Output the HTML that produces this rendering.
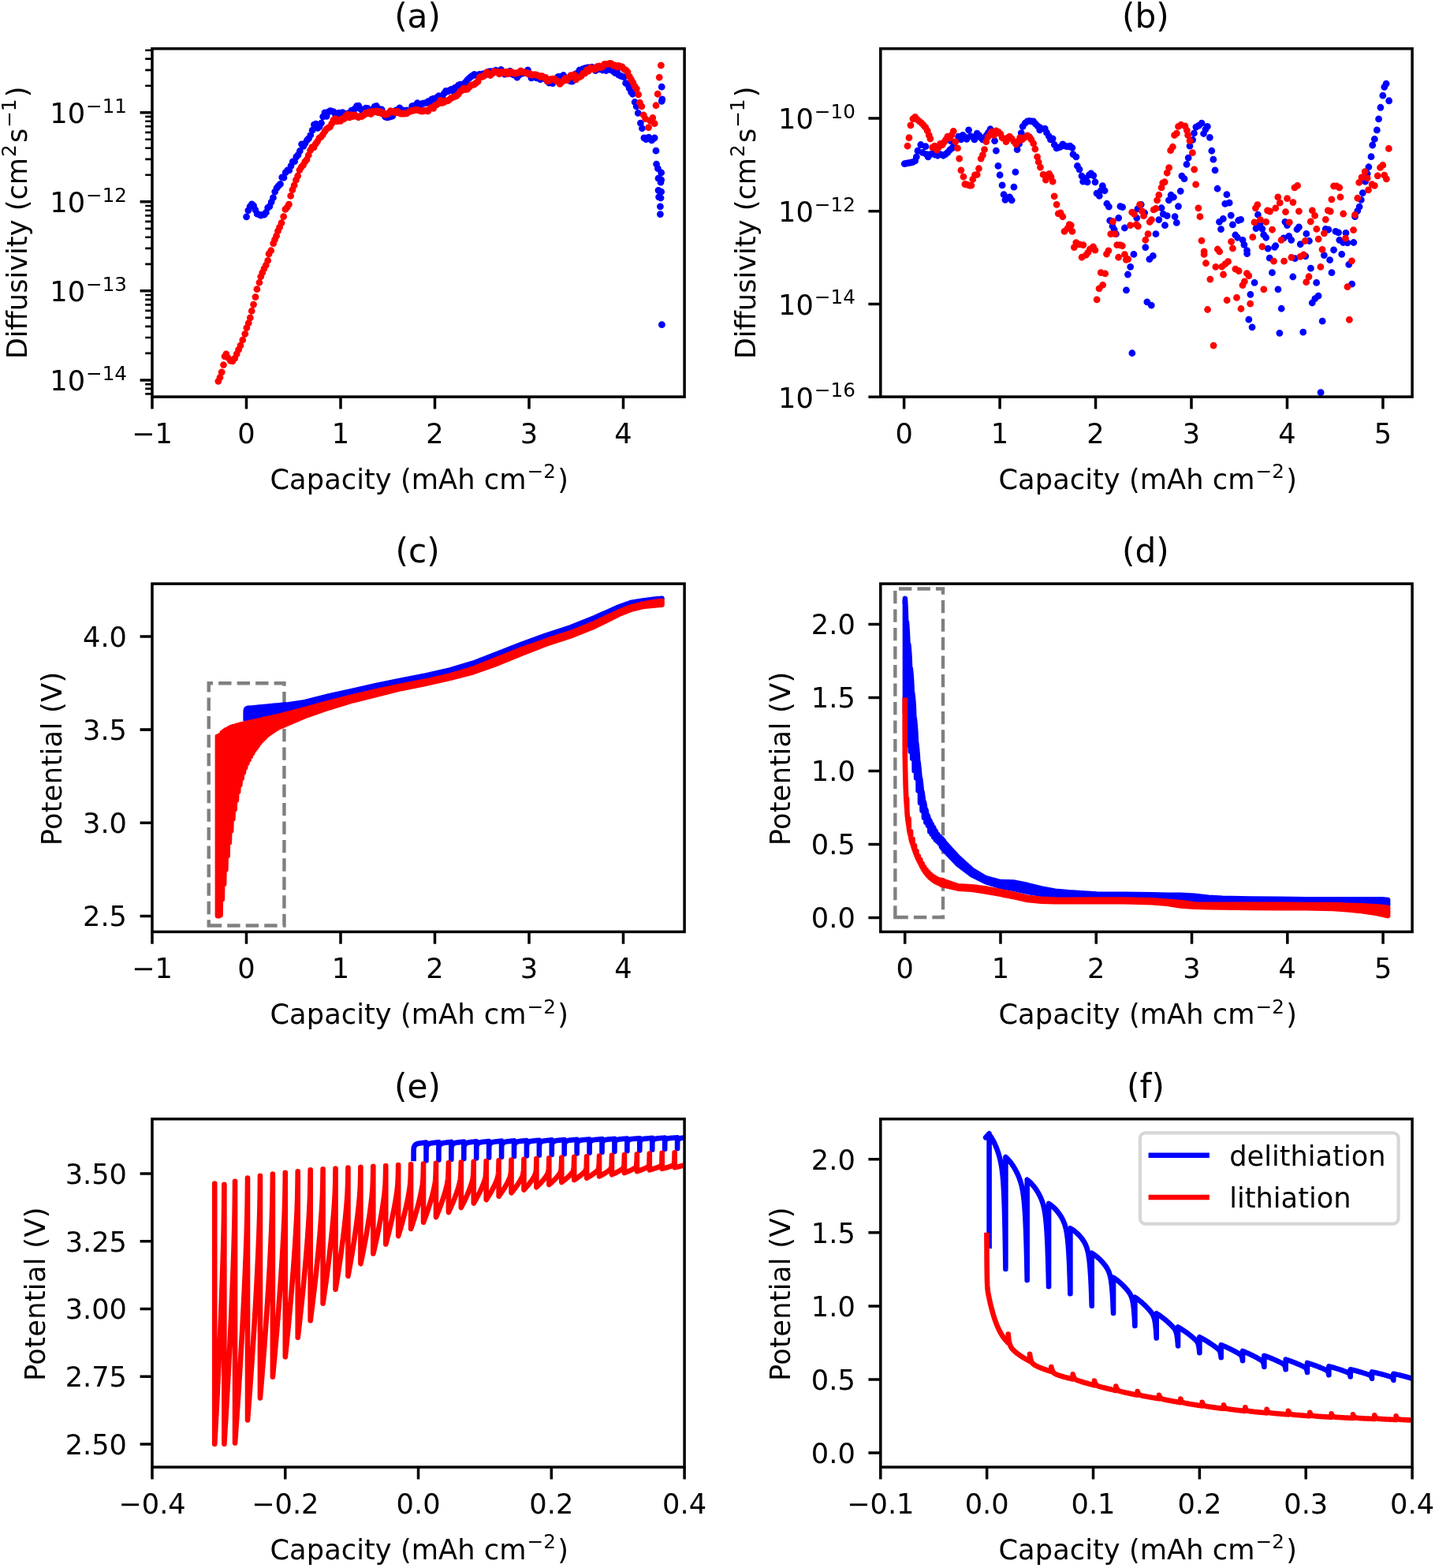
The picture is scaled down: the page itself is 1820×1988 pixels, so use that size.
<!DOCTYPE html>
<html lang="en"><head><meta charset="utf-8"><title>Diffusivity and potential vs capacity</title>
<style>html,body{margin:0;padding:0;background:#fff}body{width:1820px;height:1988px;overflow:hidden}svg{display:block}</style>
</head><body>
<svg width="1820" height="1988" viewBox="0 0 1820 1988" font-family='"DejaVu Sans", "Liberation Sans", sans-serif' fill="#000">
<rect width="1820" height="1988" fill="#fff"/>
<clipPath id="ca"><rect x="193" y="61.7" width="675.1" height="441.4"/></clipPath>
<clipPath id="cb"><rect x="1116.8" y="61.7" width="674.3" height="441.4"/></clipPath>
<clipPath id="cc"><rect x="193" y="740.1" width="675.1" height="441.3"/></clipPath>
<clipPath id="cd"><rect x="1116.8" y="740.1" width="674.3" height="441.3"/></clipPath>
<clipPath id="ce"><rect x="193" y="1418.7" width="675.1" height="441.4"/></clipPath>
<clipPath id="cf"><rect x="1116.8" y="1418.7" width="674.3" height="441.4"/></clipPath>
<path d="M308.18 274.83a4.4 4.4 0 1 0 8.8 0a4.4 4.4 0 1 0 -8.8 0M310.44 266.8a4.4 4.4 0 1 0 8.8 0a4.4 4.4 0 1 0 -8.8 0M312.7 261.84a4.4 4.4 0 1 0 8.8 0a4.4 4.4 0 1 0 -8.8 0M314.96 258.91a4.4 4.4 0 1 0 8.8 0a4.4 4.4 0 1 0 -8.8 0M317.22 260.75a4.4 4.4 0 1 0 8.8 0a4.4 4.4 0 1 0 -8.8 0M319.47 266.04a4.4 4.4 0 1 0 8.8 0a4.4 4.4 0 1 0 -8.8 0M321.73 271.19a4.4 4.4 0 1 0 8.8 0a4.4 4.4 0 1 0 -8.8 0M323.99 271.81a4.4 4.4 0 1 0 8.8 0a4.4 4.4 0 1 0 -8.8 0M326.25 273.12a4.4 4.4 0 1 0 8.8 0a4.4 4.4 0 1 0 -8.8 0M328.51 272.39a4.4 4.4 0 1 0 8.8 0a4.4 4.4 0 1 0 -8.8 0M330.77 272.13a4.4 4.4 0 1 0 8.8 0a4.4 4.4 0 1 0 -8.8 0M333.02 269.44a4.4 4.4 0 1 0 8.8 0a4.4 4.4 0 1 0 -8.8 0M335.28 263.35a4.4 4.4 0 1 0 8.8 0a4.4 4.4 0 1 0 -8.8 0M337.54 261.51a4.4 4.4 0 1 0 8.8 0a4.4 4.4 0 1 0 -8.8 0M339.8 256.11a4.4 4.4 0 1 0 8.8 0a4.4 4.4 0 1 0 -8.8 0M342.06 250.66a4.4 4.4 0 1 0 8.8 0a4.4 4.4 0 1 0 -8.8 0M344.32 243.01a4.4 4.4 0 1 0 8.8 0a4.4 4.4 0 1 0 -8.8 0M346.58 238.42a4.4 4.4 0 1 0 8.8 0a4.4 4.4 0 1 0 -8.8 0M348.83 235.7a4.4 4.4 0 1 0 8.8 0a4.4 4.4 0 1 0 -8.8 0M351.09 233.46a4.4 4.4 0 1 0 8.8 0a4.4 4.4 0 1 0 -8.8 0M353.35 224.88a4.4 4.4 0 1 0 8.8 0a4.4 4.4 0 1 0 -8.8 0M355.61 225.22a4.4 4.4 0 1 0 8.8 0a4.4 4.4 0 1 0 -8.8 0M357.87 218.53a4.4 4.4 0 1 0 8.8 0a4.4 4.4 0 1 0 -8.8 0M360.13 215.99a4.4 4.4 0 1 0 8.8 0a4.4 4.4 0 1 0 -8.8 0M362.38 215.93a4.4 4.4 0 1 0 8.8 0a4.4 4.4 0 1 0 -8.8 0M364.64 210.37a4.4 4.4 0 1 0 8.8 0a4.4 4.4 0 1 0 -8.8 0M366.9 204.97a4.4 4.4 0 1 0 8.8 0a4.4 4.4 0 1 0 -8.8 0M369.16 204.67a4.4 4.4 0 1 0 8.8 0a4.4 4.4 0 1 0 -8.8 0M371.42 198.98a4.4 4.4 0 1 0 8.8 0a4.4 4.4 0 1 0 -8.8 0M373.68 196.31a4.4 4.4 0 1 0 8.8 0a4.4 4.4 0 1 0 -8.8 0M375.93 191.5a4.4 4.4 0 1 0 8.8 0a4.4 4.4 0 1 0 -8.8 0M378.19 182.8a4.4 4.4 0 1 0 8.8 0a4.4 4.4 0 1 0 -8.8 0M380.45 185.44a4.4 4.4 0 1 0 8.8 0a4.4 4.4 0 1 0 -8.8 0M382.71 181.56a4.4 4.4 0 1 0 8.8 0a4.4 4.4 0 1 0 -8.8 0M384.97 177.75a4.4 4.4 0 1 0 8.8 0a4.4 4.4 0 1 0 -8.8 0M387.23 175.29a4.4 4.4 0 1 0 8.8 0a4.4 4.4 0 1 0 -8.8 0M389.48 171.03a4.4 4.4 0 1 0 8.8 0a4.4 4.4 0 1 0 -8.8 0M391.74 165.21a4.4 4.4 0 1 0 8.8 0a4.4 4.4 0 1 0 -8.8 0M394 158.1a4.4 4.4 0 1 0 8.8 0a4.4 4.4 0 1 0 -8.8 0M396.26 157.19a4.4 4.4 0 1 0 8.8 0a4.4 4.4 0 1 0 -8.8 0M398.52 162.29a4.4 4.4 0 1 0 8.8 0a4.4 4.4 0 1 0 -8.8 0M400.78 160.62a4.4 4.4 0 1 0 8.8 0a4.4 4.4 0 1 0 -8.8 0M403.03 156.13a4.4 4.4 0 1 0 8.8 0a4.4 4.4 0 1 0 -8.8 0M405.29 147.98a4.4 4.4 0 1 0 8.8 0a4.4 4.4 0 1 0 -8.8 0M407.55 142.92a4.4 4.4 0 1 0 8.8 0a4.4 4.4 0 1 0 -8.8 0M409.81 147.3a4.4 4.4 0 1 0 8.8 0a4.4 4.4 0 1 0 -8.8 0M412.07 141.8a4.4 4.4 0 1 0 8.8 0a4.4 4.4 0 1 0 -8.8 0M414.33 140.61a4.4 4.4 0 1 0 8.8 0a4.4 4.4 0 1 0 -8.8 0M416.58 141.07a4.4 4.4 0 1 0 8.8 0a4.4 4.4 0 1 0 -8.8 0M418.84 141.98a4.4 4.4 0 1 0 8.8 0a4.4 4.4 0 1 0 -8.8 0M421.1 145.19a4.4 4.4 0 1 0 8.8 0a4.4 4.4 0 1 0 -8.8 0M423.36 144.97a4.4 4.4 0 1 0 8.8 0a4.4 4.4 0 1 0 -8.8 0M425.62 143.04a4.4 4.4 0 1 0 8.8 0a4.4 4.4 0 1 0 -8.8 0M427.88 145.06a4.4 4.4 0 1 0 8.8 0a4.4 4.4 0 1 0 -8.8 0M430.14 142.6a4.4 4.4 0 1 0 8.8 0a4.4 4.4 0 1 0 -8.8 0M432.39 144.1a4.4 4.4 0 1 0 8.8 0a4.4 4.4 0 1 0 -8.8 0M434.65 145.28a4.4 4.4 0 1 0 8.8 0a4.4 4.4 0 1 0 -8.8 0M436.91 143.88a4.4 4.4 0 1 0 8.8 0a4.4 4.4 0 1 0 -8.8 0M439.17 142.81a4.4 4.4 0 1 0 8.8 0a4.4 4.4 0 1 0 -8.8 0M441.43 140.22a4.4 4.4 0 1 0 8.8 0a4.4 4.4 0 1 0 -8.8 0M443.69 141.95a4.4 4.4 0 1 0 8.8 0a4.4 4.4 0 1 0 -8.8 0M445.94 137.54a4.4 4.4 0 1 0 8.8 0a4.4 4.4 0 1 0 -8.8 0M448.2 134.36a4.4 4.4 0 1 0 8.8 0a4.4 4.4 0 1 0 -8.8 0M450.46 134.27a4.4 4.4 0 1 0 8.8 0a4.4 4.4 0 1 0 -8.8 0M452.72 138.05a4.4 4.4 0 1 0 8.8 0a4.4 4.4 0 1 0 -8.8 0M454.98 140.05a4.4 4.4 0 1 0 8.8 0a4.4 4.4 0 1 0 -8.8 0M457.24 141.91a4.4 4.4 0 1 0 8.8 0a4.4 4.4 0 1 0 -8.8 0M459.49 137.09a4.4 4.4 0 1 0 8.8 0a4.4 4.4 0 1 0 -8.8 0M461.75 137.34a4.4 4.4 0 1 0 8.8 0a4.4 4.4 0 1 0 -8.8 0M464.01 139.04a4.4 4.4 0 1 0 8.8 0a4.4 4.4 0 1 0 -8.8 0M466.27 140.19a4.4 4.4 0 1 0 8.8 0a4.4 4.4 0 1 0 -8.8 0M468.53 138.69a4.4 4.4 0 1 0 8.8 0a4.4 4.4 0 1 0 -8.8 0M470.79 135.09a4.4 4.4 0 1 0 8.8 0a4.4 4.4 0 1 0 -8.8 0M473.04 134.5a4.4 4.4 0 1 0 8.8 0a4.4 4.4 0 1 0 -8.8 0M475.3 139.12a4.4 4.4 0 1 0 8.8 0a4.4 4.4 0 1 0 -8.8 0M477.56 138.57a4.4 4.4 0 1 0 8.8 0a4.4 4.4 0 1 0 -8.8 0M479.82 138.99a4.4 4.4 0 1 0 8.8 0a4.4 4.4 0 1 0 -8.8 0M482.08 144.88a4.4 4.4 0 1 0 8.8 0a4.4 4.4 0 1 0 -8.8 0M484.34 148.2a4.4 4.4 0 1 0 8.8 0a4.4 4.4 0 1 0 -8.8 0M486.59 148.82a4.4 4.4 0 1 0 8.8 0a4.4 4.4 0 1 0 -8.8 0M488.85 148.26a4.4 4.4 0 1 0 8.8 0a4.4 4.4 0 1 0 -8.8 0M491.11 147.82a4.4 4.4 0 1 0 8.8 0a4.4 4.4 0 1 0 -8.8 0M493.37 147.15a4.4 4.4 0 1 0 8.8 0a4.4 4.4 0 1 0 -8.8 0M495.63 142.94a4.4 4.4 0 1 0 8.8 0a4.4 4.4 0 1 0 -8.8 0M497.89 139.88a4.4 4.4 0 1 0 8.8 0a4.4 4.4 0 1 0 -8.8 0M500.15 139.75a4.4 4.4 0 1 0 8.8 0a4.4 4.4 0 1 0 -8.8 0M502.4 136.86a4.4 4.4 0 1 0 8.8 0a4.4 4.4 0 1 0 -8.8 0M504.66 140.42a4.4 4.4 0 1 0 8.8 0a4.4 4.4 0 1 0 -8.8 0M506.92 139.85a4.4 4.4 0 1 0 8.8 0a4.4 4.4 0 1 0 -8.8 0M509.18 140.86a4.4 4.4 0 1 0 8.8 0a4.4 4.4 0 1 0 -8.8 0M511.44 139.86a4.4 4.4 0 1 0 8.8 0a4.4 4.4 0 1 0 -8.8 0M513.7 141.14a4.4 4.4 0 1 0 8.8 0a4.4 4.4 0 1 0 -8.8 0M515.95 140.52a4.4 4.4 0 1 0 8.8 0a4.4 4.4 0 1 0 -8.8 0M518.21 134.53a4.4 4.4 0 1 0 8.8 0a4.4 4.4 0 1 0 -8.8 0M520.47 134.1a4.4 4.4 0 1 0 8.8 0a4.4 4.4 0 1 0 -8.8 0M522.73 133.81a4.4 4.4 0 1 0 8.8 0a4.4 4.4 0 1 0 -8.8 0M524.99 130.62a4.4 4.4 0 1 0 8.8 0a4.4 4.4 0 1 0 -8.8 0M527.25 134.25a4.4 4.4 0 1 0 8.8 0a4.4 4.4 0 1 0 -8.8 0M529.5 132.72a4.4 4.4 0 1 0 8.8 0a4.4 4.4 0 1 0 -8.8 0M531.76 131.22a4.4 4.4 0 1 0 8.8 0a4.4 4.4 0 1 0 -8.8 0M534.02 130.9a4.4 4.4 0 1 0 8.8 0a4.4 4.4 0 1 0 -8.8 0M536.28 130.38a4.4 4.4 0 1 0 8.8 0a4.4 4.4 0 1 0 -8.8 0M538.54 128.78a4.4 4.4 0 1 0 8.8 0a4.4 4.4 0 1 0 -8.8 0M540.8 129.27a4.4 4.4 0 1 0 8.8 0a4.4 4.4 0 1 0 -8.8 0M543.05 126.02a4.4 4.4 0 1 0 8.8 0a4.4 4.4 0 1 0 -8.8 0M545.31 125.21a4.4 4.4 0 1 0 8.8 0a4.4 4.4 0 1 0 -8.8 0M547.57 125.97a4.4 4.4 0 1 0 8.8 0a4.4 4.4 0 1 0 -8.8 0M549.83 123.52a4.4 4.4 0 1 0 8.8 0a4.4 4.4 0 1 0 -8.8 0M552.09 121.66a4.4 4.4 0 1 0 8.8 0a4.4 4.4 0 1 0 -8.8 0M554.35 123.35a4.4 4.4 0 1 0 8.8 0a4.4 4.4 0 1 0 -8.8 0M556.6 122.96a4.4 4.4 0 1 0 8.8 0a4.4 4.4 0 1 0 -8.8 0M558.86 118.5a4.4 4.4 0 1 0 8.8 0a4.4 4.4 0 1 0 -8.8 0M561.12 115.45a4.4 4.4 0 1 0 8.8 0a4.4 4.4 0 1 0 -8.8 0M563.38 115.94a4.4 4.4 0 1 0 8.8 0a4.4 4.4 0 1 0 -8.8 0M565.64 114.79a4.4 4.4 0 1 0 8.8 0a4.4 4.4 0 1 0 -8.8 0M567.9 113.46a4.4 4.4 0 1 0 8.8 0a4.4 4.4 0 1 0 -8.8 0M570.15 115.08a4.4 4.4 0 1 0 8.8 0a4.4 4.4 0 1 0 -8.8 0M572.41 111.36a4.4 4.4 0 1 0 8.8 0a4.4 4.4 0 1 0 -8.8 0M574.67 112.95a4.4 4.4 0 1 0 8.8 0a4.4 4.4 0 1 0 -8.8 0M576.93 108.08a4.4 4.4 0 1 0 8.8 0a4.4 4.4 0 1 0 -8.8 0M579.19 107.12a4.4 4.4 0 1 0 8.8 0a4.4 4.4 0 1 0 -8.8 0M581.45 107.39a4.4 4.4 0 1 0 8.8 0a4.4 4.4 0 1 0 -8.8 0M583.71 106.45a4.4 4.4 0 1 0 8.8 0a4.4 4.4 0 1 0 -8.8 0M585.96 104.32a4.4 4.4 0 1 0 8.8 0a4.4 4.4 0 1 0 -8.8 0M588.22 101.62a4.4 4.4 0 1 0 8.8 0a4.4 4.4 0 1 0 -8.8 0M590.48 99.32a4.4 4.4 0 1 0 8.8 0a4.4 4.4 0 1 0 -8.8 0M592.74 97.35a4.4 4.4 0 1 0 8.8 0a4.4 4.4 0 1 0 -8.8 0M595 95.92a4.4 4.4 0 1 0 8.8 0a4.4 4.4 0 1 0 -8.8 0M597.26 94.4a4.4 4.4 0 1 0 8.8 0a4.4 4.4 0 1 0 -8.8 0M599.51 95.27a4.4 4.4 0 1 0 8.8 0a4.4 4.4 0 1 0 -8.8 0M601.77 95.46a4.4 4.4 0 1 0 8.8 0a4.4 4.4 0 1 0 -8.8 0M604.03 94.04a4.4 4.4 0 1 0 8.8 0a4.4 4.4 0 1 0 -8.8 0M606.29 94.36a4.4 4.4 0 1 0 8.8 0a4.4 4.4 0 1 0 -8.8 0M608.55 93.61a4.4 4.4 0 1 0 8.8 0a4.4 4.4 0 1 0 -8.8 0M610.81 95.03a4.4 4.4 0 1 0 8.8 0a4.4 4.4 0 1 0 -8.8 0M613.06 92.39a4.4 4.4 0 1 0 8.8 0a4.4 4.4 0 1 0 -8.8 0M615.32 90.96a4.4 4.4 0 1 0 8.8 0a4.4 4.4 0 1 0 -8.8 0M617.58 90.58a4.4 4.4 0 1 0 8.8 0a4.4 4.4 0 1 0 -8.8 0M619.84 90.6a4.4 4.4 0 1 0 8.8 0a4.4 4.4 0 1 0 -8.8 0M622.1 91.36a4.4 4.4 0 1 0 8.8 0a4.4 4.4 0 1 0 -8.8 0M624.36 89.27a4.4 4.4 0 1 0 8.8 0a4.4 4.4 0 1 0 -8.8 0M626.61 90.65a4.4 4.4 0 1 0 8.8 0a4.4 4.4 0 1 0 -8.8 0M628.87 93.22a4.4 4.4 0 1 0 8.8 0a4.4 4.4 0 1 0 -8.8 0M631.13 88.31a4.4 4.4 0 1 0 8.8 0a4.4 4.4 0 1 0 -8.8 0M633.39 92.06a4.4 4.4 0 1 0 8.8 0a4.4 4.4 0 1 0 -8.8 0M635.65 94.1a4.4 4.4 0 1 0 8.8 0a4.4 4.4 0 1 0 -8.8 0M637.91 92.98a4.4 4.4 0 1 0 8.8 0a4.4 4.4 0 1 0 -8.8 0M640.16 91.46a4.4 4.4 0 1 0 8.8 0a4.4 4.4 0 1 0 -8.8 0M642.42 90.24a4.4 4.4 0 1 0 8.8 0a4.4 4.4 0 1 0 -8.8 0M644.68 93.63a4.4 4.4 0 1 0 8.8 0a4.4 4.4 0 1 0 -8.8 0M646.94 94.85a4.4 4.4 0 1 0 8.8 0a4.4 4.4 0 1 0 -8.8 0M649.2 93.99a4.4 4.4 0 1 0 8.8 0a4.4 4.4 0 1 0 -8.8 0M651.46 98.02a4.4 4.4 0 1 0 8.8 0a4.4 4.4 0 1 0 -8.8 0M653.72 95.51a4.4 4.4 0 1 0 8.8 0a4.4 4.4 0 1 0 -8.8 0M655.97 93.45a4.4 4.4 0 1 0 8.8 0a4.4 4.4 0 1 0 -8.8 0M658.23 93.1a4.4 4.4 0 1 0 8.8 0a4.4 4.4 0 1 0 -8.8 0M660.49 91.99a4.4 4.4 0 1 0 8.8 0a4.4 4.4 0 1 0 -8.8 0M662.75 92.16a4.4 4.4 0 1 0 8.8 0a4.4 4.4 0 1 0 -8.8 0M665.01 88.98a4.4 4.4 0 1 0 8.8 0a4.4 4.4 0 1 0 -8.8 0M667.27 93.84a4.4 4.4 0 1 0 8.8 0a4.4 4.4 0 1 0 -8.8 0M669.52 98.89a4.4 4.4 0 1 0 8.8 0a4.4 4.4 0 1 0 -8.8 0M671.78 97.39a4.4 4.4 0 1 0 8.8 0a4.4 4.4 0 1 0 -8.8 0M674.04 97.97a4.4 4.4 0 1 0 8.8 0a4.4 4.4 0 1 0 -8.8 0M676.3 98.87a4.4 4.4 0 1 0 8.8 0a4.4 4.4 0 1 0 -8.8 0M678.56 99.26a4.4 4.4 0 1 0 8.8 0a4.4 4.4 0 1 0 -8.8 0M680.82 100.61a4.4 4.4 0 1 0 8.8 0a4.4 4.4 0 1 0 -8.8 0M683.07 96.97a4.4 4.4 0 1 0 8.8 0a4.4 4.4 0 1 0 -8.8 0M685.33 99.24a4.4 4.4 0 1 0 8.8 0a4.4 4.4 0 1 0 -8.8 0M687.59 100.37a4.4 4.4 0 1 0 8.8 0a4.4 4.4 0 1 0 -8.8 0M689.85 103.08a4.4 4.4 0 1 0 8.8 0a4.4 4.4 0 1 0 -8.8 0M692.11 105.14a4.4 4.4 0 1 0 8.8 0a4.4 4.4 0 1 0 -8.8 0M694.37 101.68a4.4 4.4 0 1 0 8.8 0a4.4 4.4 0 1 0 -8.8 0M696.62 105.57a4.4 4.4 0 1 0 8.8 0a4.4 4.4 0 1 0 -8.8 0M698.88 100.96a4.4 4.4 0 1 0 8.8 0a4.4 4.4 0 1 0 -8.8 0M701.14 102.41a4.4 4.4 0 1 0 8.8 0a4.4 4.4 0 1 0 -8.8 0M703.4 97.37a4.4 4.4 0 1 0 8.8 0a4.4 4.4 0 1 0 -8.8 0M705.66 97.05a4.4 4.4 0 1 0 8.8 0a4.4 4.4 0 1 0 -8.8 0M707.92 97.81a4.4 4.4 0 1 0 8.8 0a4.4 4.4 0 1 0 -8.8 0M710.17 95.5a4.4 4.4 0 1 0 8.8 0a4.4 4.4 0 1 0 -8.8 0M712.43 98.37a4.4 4.4 0 1 0 8.8 0a4.4 4.4 0 1 0 -8.8 0M714.69 101.37a4.4 4.4 0 1 0 8.8 0a4.4 4.4 0 1 0 -8.8 0M716.95 101.87a4.4 4.4 0 1 0 8.8 0a4.4 4.4 0 1 0 -8.8 0M719.21 102.93a4.4 4.4 0 1 0 8.8 0a4.4 4.4 0 1 0 -8.8 0M721.47 103.16a4.4 4.4 0 1 0 8.8 0a4.4 4.4 0 1 0 -8.8 0M723.73 98.91a4.4 4.4 0 1 0 8.8 0a4.4 4.4 0 1 0 -8.8 0M725.98 93.55a4.4 4.4 0 1 0 8.8 0a4.4 4.4 0 1 0 -8.8 0M728.24 95.76a4.4 4.4 0 1 0 8.8 0a4.4 4.4 0 1 0 -8.8 0M730.5 89.01a4.4 4.4 0 1 0 8.8 0a4.4 4.4 0 1 0 -8.8 0M732.76 90.23a4.4 4.4 0 1 0 8.8 0a4.4 4.4 0 1 0 -8.8 0M735.02 87.29a4.4 4.4 0 1 0 8.8 0a4.4 4.4 0 1 0 -8.8 0M737.28 86.59a4.4 4.4 0 1 0 8.8 0a4.4 4.4 0 1 0 -8.8 0M739.53 86.2a4.4 4.4 0 1 0 8.8 0a4.4 4.4 0 1 0 -8.8 0M741.79 85.59a4.4 4.4 0 1 0 8.8 0a4.4 4.4 0 1 0 -8.8 0M744.05 87.07a4.4 4.4 0 1 0 8.8 0a4.4 4.4 0 1 0 -8.8 0M746.31 85.2a4.4 4.4 0 1 0 8.8 0a4.4 4.4 0 1 0 -8.8 0M748.57 86.07a4.4 4.4 0 1 0 8.8 0a4.4 4.4 0 1 0 -8.8 0M750.83 89.51a4.4 4.4 0 1 0 8.8 0a4.4 4.4 0 1 0 -8.8 0M753.08 88.14a4.4 4.4 0 1 0 8.8 0a4.4 4.4 0 1 0 -8.8 0M755.34 87.68a4.4 4.4 0 1 0 8.8 0a4.4 4.4 0 1 0 -8.8 0M757.6 86.2a4.4 4.4 0 1 0 8.8 0a4.4 4.4 0 1 0 -8.8 0M759.86 88.85a4.4 4.4 0 1 0 8.8 0a4.4 4.4 0 1 0 -8.8 0M762.12 88.35a4.4 4.4 0 1 0 8.8 0a4.4 4.4 0 1 0 -8.8 0M764.38 89.49a4.4 4.4 0 1 0 8.8 0a4.4 4.4 0 1 0 -8.8 0M766.63 86.54a4.4 4.4 0 1 0 8.8 0a4.4 4.4 0 1 0 -8.8 0M768.89 88.24a4.4 4.4 0 1 0 8.8 0a4.4 4.4 0 1 0 -8.8 0M771.15 87.32a4.4 4.4 0 1 0 8.8 0a4.4 4.4 0 1 0 -8.8 0M773.41 90.37a4.4 4.4 0 1 0 8.8 0a4.4 4.4 0 1 0 -8.8 0M775.67 92.32a4.4 4.4 0 1 0 8.8 0a4.4 4.4 0 1 0 -8.8 0M777.93 90.23a4.4 4.4 0 1 0 8.8 0a4.4 4.4 0 1 0 -8.8 0M780.18 94.9a4.4 4.4 0 1 0 8.8 0a4.4 4.4 0 1 0 -8.8 0M782.44 96.13a4.4 4.4 0 1 0 8.8 0a4.4 4.4 0 1 0 -8.8 0M784.7 96.89a4.4 4.4 0 1 0 8.8 0a4.4 4.4 0 1 0 -8.8 0M786.96 97.56a4.4 4.4 0 1 0 8.8 0a4.4 4.4 0 1 0 -8.8 0M789.22 105.48a4.4 4.4 0 1 0 8.8 0a4.4 4.4 0 1 0 -8.8 0M791.48 107.02a4.4 4.4 0 1 0 8.8 0a4.4 4.4 0 1 0 -8.8 0M793.73 111.98a4.4 4.4 0 1 0 8.8 0a4.4 4.4 0 1 0 -8.8 0M796.15 116.81a4.4 4.4 0 1 0 8.8 0a4.4 4.4 0 1 0 -8.8 0M797.96 119.23a4.4 4.4 0 1 0 8.8 0a4.4 4.4 0 1 0 -8.8 0M800.74 129.51a4.4 4.4 0 1 0 8.8 0a4.4 4.4 0 1 0 -8.8 0M802.8 134.95a4.4 4.4 0 1 0 8.8 0a4.4 4.4 0 1 0 -8.8 0M804.85 143.41a4.4 4.4 0 1 0 8.8 0a4.4 4.4 0 1 0 -8.8 0M808 156.1a4.4 4.4 0 1 0 8.8 0a4.4 4.4 0 1 0 -8.8 0M810.05 162.75a4.4 4.4 0 1 0 8.8 0a4.4 4.4 0 1 0 -8.8 0M812.47 174.84a4.4 4.4 0 1 0 8.8 0a4.4 4.4 0 1 0 -8.8 0M814.89 176.65a4.4 4.4 0 1 0 8.8 0a4.4 4.4 0 1 0 -8.8 0M816.7 174.84a4.4 4.4 0 1 0 8.8 0a4.4 4.4 0 1 0 -8.8 0M818.51 174.23a4.4 4.4 0 1 0 8.8 0a4.4 4.4 0 1 0 -8.8 0M820.33 176.04a4.4 4.4 0 1 0 8.8 0a4.4 4.4 0 1 0 -8.8 0M822.14 177.86a4.4 4.4 0 1 0 8.8 0a4.4 4.4 0 1 0 -8.8 0M823.95 176.04a4.4 4.4 0 1 0 8.8 0a4.4 4.4 0 1 0 -8.8 0M825.77 174.84a4.4 4.4 0 1 0 8.8 0a4.4 4.4 0 1 0 -8.8 0M827.58 191.15a4.4 4.4 0 1 0 8.8 0a4.4 4.4 0 1 0 -8.8 0M828.18 208.08a4.4 4.4 0 1 0 8.8 0a4.4 4.4 0 1 0 -8.8 0M830 213.52a4.4 4.4 0 1 0 8.8 0a4.4 4.4 0 1 0 -8.8 0M834.23 218.96a4.4 4.4 0 1 0 8.8 0a4.4 4.4 0 1 0 -8.8 0M830.6 226.21a4.4 4.4 0 1 0 8.8 0a4.4 4.4 0 1 0 -8.8 0M834.23 228.02a4.4 4.4 0 1 0 8.8 0a4.4 4.4 0 1 0 -8.8 0M833.62 231.04a4.4 4.4 0 1 0 8.8 0a4.4 4.4 0 1 0 -8.8 0M830.6 241.32a4.4 4.4 0 1 0 8.8 0a4.4 4.4 0 1 0 -8.8 0M834.23 243.13a4.4 4.4 0 1 0 8.8 0a4.4 4.4 0 1 0 -8.8 0M831.2 249.78a4.4 4.4 0 1 0 8.8 0a4.4 4.4 0 1 0 -8.8 0M833.62 250.99a4.4 4.4 0 1 0 8.8 0a4.4 4.4 0 1 0 -8.8 0M833.02 261.87a4.4 4.4 0 1 0 8.8 0a4.4 4.4 0 1 0 -8.8 0M833.02 271.54a4.4 4.4 0 1 0 8.8 0a4.4 4.4 0 1 0 -8.8 0M834.83 110.17a4.4 4.4 0 1 0 8.8 0a4.4 4.4 0 1 0 -8.8 0M835.44 125.88a4.4 4.4 0 1 0 8.8 0a4.4 4.4 0 1 0 -8.8 0M834.83 128.3a4.4 4.4 0 1 0 8.8 0a4.4 4.4 0 1 0 -8.8 0M835 411.7a4.4 4.4 0 1 0 8.8 0a4.4 4.4 0 1 0 -8.8 0" fill="#0000ff" clip-path="url(#ca)"/>
<path d="M272.44 483.35a4.4 4.4 0 1 0 8.8 0a4.4 4.4 0 1 0 -8.8 0M274.61 478.52a4.4 4.4 0 1 0 8.8 0a4.4 4.4 0 1 0 -8.8 0M276.79 471.87a4.4 4.4 0 1 0 8.8 0a4.4 4.4 0 1 0 -8.8 0M279.08 462.56a4.4 4.4 0 1 0 8.8 0a4.4 4.4 0 1 0 -8.8 0M280.66 451.92a4.4 4.4 0 1 0 8.8 0a4.4 4.4 0 1 0 -8.8 0M282.47 448.9a4.4 4.4 0 1 0 8.8 0a4.4 4.4 0 1 0 -8.8 0M284.89 453.74a4.4 4.4 0 1 0 8.8 0a4.4 4.4 0 1 0 -8.8 0M287.91 457.36a4.4 4.4 0 1 0 8.8 0a4.4 4.4 0 1 0 -8.8 0M290.57 457.97a4.4 4.4 0 1 0 8.8 0a4.4 4.4 0 1 0 -8.8 0M293.35 454.34a4.4 4.4 0 1 0 8.8 0a4.4 4.4 0 1 0 -8.8 0M295.77 448.9a4.4 4.4 0 1 0 8.8 0a4.4 4.4 0 1 0 -8.8 0M298.18 443.46a4.4 4.4 0 1 0 8.8 0a4.4 4.4 0 1 0 -8.8 0M300.6 438.02a4.4 4.4 0 1 0 8.8 0a4.4 4.4 0 1 0 -8.8 0M303.38 431.01a4.4 4.4 0 1 0 8.8 0a4.4 4.4 0 1 0 -8.8 0M306.4 423.28a4.4 4.4 0 1 0 8.8 0a4.4 4.4 0 1 0 -8.8 0M308.46 415.66a4.4 4.4 0 1 0 8.8 0a4.4 4.4 0 1 0 -8.8 0M310.87 409.62a4.4 4.4 0 1 0 8.8 0a4.4 4.4 0 1 0 -8.8 0M312.93 402.97a4.4 4.4 0 1 0 8.8 0a4.4 4.4 0 1 0 -8.8 0M314.86 394.26a4.4 4.4 0 1 0 8.8 0a4.4 4.4 0 1 0 -8.8 0M317.16 386.04a4.4 4.4 0 1 0 8.8 0a4.4 4.4 0 1 0 -8.8 0M319.58 376.62a4.4 4.4 0 1 0 8.8 0a4.4 4.4 0 1 0 -8.8 0M321.51 366.7a4.4 4.4 0 1 0 8.8 0a4.4 4.4 0 1 0 -8.8 0M324.53 358.24a4.4 4.4 0 1 0 8.8 0a4.4 4.4 0 1 0 -8.8 0M326.35 350.75a4.4 4.4 0 1 0 8.8 0a4.4 4.4 0 1 0 -8.8 0M328.4 345.55a4.4 4.4 0 1 0 8.8 0a4.4 4.4 0 1 0 -8.8 0M330.58 340.71a4.4 4.4 0 1 0 8.8 0a4.4 4.4 0 1 0 -8.8 0M332.88 336.24a4.4 4.4 0 1 0 8.8 0a4.4 4.4 0 1 0 -8.8 0M335.29 330.44a4.4 4.4 0 1 0 8.8 0a4.4 4.4 0 1 0 -8.8 0M336.62 321.98a4.4 4.4 0 1 0 8.8 0a4.4 4.4 0 1 0 -8.8 0M339.28 317.75a4.4 4.4 0 1 0 8.8 0a4.4 4.4 0 1 0 -8.8 0M342.3 308.68a4.4 4.4 0 1 0 8.8 0a4.4 4.4 0 1 0 -8.8 0M344.12 303.85a4.4 4.4 0 1 0 8.8 0a4.4 4.4 0 1 0 -8.8 0M346.17 299.01a4.4 4.4 0 1 0 8.8 0a4.4 4.4 0 1 0 -8.8 0M348.11 292.97a4.4 4.4 0 1 0 8.8 0a4.4 4.4 0 1 0 -8.8 0M350.16 288.13a4.4 4.4 0 1 0 8.8 0a4.4 4.4 0 1 0 -8.8 0M352.58 282.69a4.4 4.4 0 1 0 8.8 0a4.4 4.4 0 1 0 -8.8 0M355.24 274.59a4.4 4.4 0 1 0 8.8 0a4.4 4.4 0 1 0 -8.8 0M357.49 265.41a4.4 4.4 0 1 0 8.8 0a4.4 4.4 0 1 0 -8.8 0M359.75 262.97a4.4 4.4 0 1 0 8.8 0a4.4 4.4 0 1 0 -8.8 0M362.02 259.13a4.4 4.4 0 1 0 8.8 0a4.4 4.4 0 1 0 -8.8 0M364.28 248.35a4.4 4.4 0 1 0 8.8 0a4.4 4.4 0 1 0 -8.8 0M366.54 240.67a4.4 4.4 0 1 0 8.8 0a4.4 4.4 0 1 0 -8.8 0M368.8 234.88a4.4 4.4 0 1 0 8.8 0a4.4 4.4 0 1 0 -8.8 0M371.06 228.15a4.4 4.4 0 1 0 8.8 0a4.4 4.4 0 1 0 -8.8 0M373.32 223.02a4.4 4.4 0 1 0 8.8 0a4.4 4.4 0 1 0 -8.8 0M375.58 215.55a4.4 4.4 0 1 0 8.8 0a4.4 4.4 0 1 0 -8.8 0M377.84 211.78a4.4 4.4 0 1 0 8.8 0a4.4 4.4 0 1 0 -8.8 0M380.11 209.46a4.4 4.4 0 1 0 8.8 0a4.4 4.4 0 1 0 -8.8 0M382.37 205.03a4.4 4.4 0 1 0 8.8 0a4.4 4.4 0 1 0 -8.8 0M384.63 202.43a4.4 4.4 0 1 0 8.8 0a4.4 4.4 0 1 0 -8.8 0M386.89 196.75a4.4 4.4 0 1 0 8.8 0a4.4 4.4 0 1 0 -8.8 0M389.15 190.65a4.4 4.4 0 1 0 8.8 0a4.4 4.4 0 1 0 -8.8 0M391.41 186.58a4.4 4.4 0 1 0 8.8 0a4.4 4.4 0 1 0 -8.8 0M393.67 186.83a4.4 4.4 0 1 0 8.8 0a4.4 4.4 0 1 0 -8.8 0M395.93 182.4a4.4 4.4 0 1 0 8.8 0a4.4 4.4 0 1 0 -8.8 0M398.2 179.28a4.4 4.4 0 1 0 8.8 0a4.4 4.4 0 1 0 -8.8 0M400.46 175.12a4.4 4.4 0 1 0 8.8 0a4.4 4.4 0 1 0 -8.8 0M402.72 173.57a4.4 4.4 0 1 0 8.8 0a4.4 4.4 0 1 0 -8.8 0M404.98 170.8a4.4 4.4 0 1 0 8.8 0a4.4 4.4 0 1 0 -8.8 0M407.24 167a4.4 4.4 0 1 0 8.8 0a4.4 4.4 0 1 0 -8.8 0M409.5 163.91a4.4 4.4 0 1 0 8.8 0a4.4 4.4 0 1 0 -8.8 0M411.76 162.09a4.4 4.4 0 1 0 8.8 0a4.4 4.4 0 1 0 -8.8 0M414.02 160.95a4.4 4.4 0 1 0 8.8 0a4.4 4.4 0 1 0 -8.8 0M416.29 156.87a4.4 4.4 0 1 0 8.8 0a4.4 4.4 0 1 0 -8.8 0M418.55 152.2a4.4 4.4 0 1 0 8.8 0a4.4 4.4 0 1 0 -8.8 0M420.81 150.65a4.4 4.4 0 1 0 8.8 0a4.4 4.4 0 1 0 -8.8 0M423.07 153.93a4.4 4.4 0 1 0 8.8 0a4.4 4.4 0 1 0 -8.8 0M425.33 151.88a4.4 4.4 0 1 0 8.8 0a4.4 4.4 0 1 0 -8.8 0M427.59 153.28a4.4 4.4 0 1 0 8.8 0a4.4 4.4 0 1 0 -8.8 0M429.85 150.43a4.4 4.4 0 1 0 8.8 0a4.4 4.4 0 1 0 -8.8 0M432.11 150.62a4.4 4.4 0 1 0 8.8 0a4.4 4.4 0 1 0 -8.8 0M434.38 146.94a4.4 4.4 0 1 0 8.8 0a4.4 4.4 0 1 0 -8.8 0M436.64 145.2a4.4 4.4 0 1 0 8.8 0a4.4 4.4 0 1 0 -8.8 0M438.9 148.84a4.4 4.4 0 1 0 8.8 0a4.4 4.4 0 1 0 -8.8 0M441.16 145.83a4.4 4.4 0 1 0 8.8 0a4.4 4.4 0 1 0 -8.8 0M443.42 147.49a4.4 4.4 0 1 0 8.8 0a4.4 4.4 0 1 0 -8.8 0M445.68 145.79a4.4 4.4 0 1 0 8.8 0a4.4 4.4 0 1 0 -8.8 0M447.94 147.61a4.4 4.4 0 1 0 8.8 0a4.4 4.4 0 1 0 -8.8 0M450.2 148.73a4.4 4.4 0 1 0 8.8 0a4.4 4.4 0 1 0 -8.8 0M452.47 147.45a4.4 4.4 0 1 0 8.8 0a4.4 4.4 0 1 0 -8.8 0M454.73 147.51a4.4 4.4 0 1 0 8.8 0a4.4 4.4 0 1 0 -8.8 0M456.99 145.98a4.4 4.4 0 1 0 8.8 0a4.4 4.4 0 1 0 -8.8 0M459.25 143.41a4.4 4.4 0 1 0 8.8 0a4.4 4.4 0 1 0 -8.8 0M461.51 143.94a4.4 4.4 0 1 0 8.8 0a4.4 4.4 0 1 0 -8.8 0M463.77 141.98a4.4 4.4 0 1 0 8.8 0a4.4 4.4 0 1 0 -8.8 0M466.03 144.48a4.4 4.4 0 1 0 8.8 0a4.4 4.4 0 1 0 -8.8 0M468.29 141.31a4.4 4.4 0 1 0 8.8 0a4.4 4.4 0 1 0 -8.8 0M470.56 141.96a4.4 4.4 0 1 0 8.8 0a4.4 4.4 0 1 0 -8.8 0M472.82 140.99a4.4 4.4 0 1 0 8.8 0a4.4 4.4 0 1 0 -8.8 0M475.08 142.56a4.4 4.4 0 1 0 8.8 0a4.4 4.4 0 1 0 -8.8 0M477.34 141.47a4.4 4.4 0 1 0 8.8 0a4.4 4.4 0 1 0 -8.8 0M479.6 143.85a4.4 4.4 0 1 0 8.8 0a4.4 4.4 0 1 0 -8.8 0M481.86 143.29a4.4 4.4 0 1 0 8.8 0a4.4 4.4 0 1 0 -8.8 0M484.12 145.5a4.4 4.4 0 1 0 8.8 0a4.4 4.4 0 1 0 -8.8 0M486.38 144.96a4.4 4.4 0 1 0 8.8 0a4.4 4.4 0 1 0 -8.8 0M488.65 143.08a4.4 4.4 0 1 0 8.8 0a4.4 4.4 0 1 0 -8.8 0M490.91 140.7a4.4 4.4 0 1 0 8.8 0a4.4 4.4 0 1 0 -8.8 0M493.17 141.83a4.4 4.4 0 1 0 8.8 0a4.4 4.4 0 1 0 -8.8 0M495.43 141.5a4.4 4.4 0 1 0 8.8 0a4.4 4.4 0 1 0 -8.8 0M497.69 142.8a4.4 4.4 0 1 0 8.8 0a4.4 4.4 0 1 0 -8.8 0M499.95 141.39a4.4 4.4 0 1 0 8.8 0a4.4 4.4 0 1 0 -8.8 0M502.21 143.32a4.4 4.4 0 1 0 8.8 0a4.4 4.4 0 1 0 -8.8 0M504.47 144.02a4.4 4.4 0 1 0 8.8 0a4.4 4.4 0 1 0 -8.8 0M506.74 144a4.4 4.4 0 1 0 8.8 0a4.4 4.4 0 1 0 -8.8 0M509 144.14a4.4 4.4 0 1 0 8.8 0a4.4 4.4 0 1 0 -8.8 0M511.26 143.83a4.4 4.4 0 1 0 8.8 0a4.4 4.4 0 1 0 -8.8 0M513.52 142.3a4.4 4.4 0 1 0 8.8 0a4.4 4.4 0 1 0 -8.8 0M515.78 141.16a4.4 4.4 0 1 0 8.8 0a4.4 4.4 0 1 0 -8.8 0M518.04 140.43a4.4 4.4 0 1 0 8.8 0a4.4 4.4 0 1 0 -8.8 0M520.3 140.01a4.4 4.4 0 1 0 8.8 0a4.4 4.4 0 1 0 -8.8 0M522.56 139.51a4.4 4.4 0 1 0 8.8 0a4.4 4.4 0 1 0 -8.8 0M524.83 139.08a4.4 4.4 0 1 0 8.8 0a4.4 4.4 0 1 0 -8.8 0M527.09 140.1a4.4 4.4 0 1 0 8.8 0a4.4 4.4 0 1 0 -8.8 0M529.35 140.74a4.4 4.4 0 1 0 8.8 0a4.4 4.4 0 1 0 -8.8 0M531.61 140.98a4.4 4.4 0 1 0 8.8 0a4.4 4.4 0 1 0 -8.8 0M533.87 140.03a4.4 4.4 0 1 0 8.8 0a4.4 4.4 0 1 0 -8.8 0M536.13 140.3a4.4 4.4 0 1 0 8.8 0a4.4 4.4 0 1 0 -8.8 0M538.39 140.9a4.4 4.4 0 1 0 8.8 0a4.4 4.4 0 1 0 -8.8 0M540.65 137.74a4.4 4.4 0 1 0 8.8 0a4.4 4.4 0 1 0 -8.8 0M542.92 136.36a4.4 4.4 0 1 0 8.8 0a4.4 4.4 0 1 0 -8.8 0M545.18 137.4a4.4 4.4 0 1 0 8.8 0a4.4 4.4 0 1 0 -8.8 0M547.44 133.63a4.4 4.4 0 1 0 8.8 0a4.4 4.4 0 1 0 -8.8 0M549.7 132.54a4.4 4.4 0 1 0 8.8 0a4.4 4.4 0 1 0 -8.8 0M551.96 131.04a4.4 4.4 0 1 0 8.8 0a4.4 4.4 0 1 0 -8.8 0M554.22 127.47a4.4 4.4 0 1 0 8.8 0a4.4 4.4 0 1 0 -8.8 0M556.48 130.37a4.4 4.4 0 1 0 8.8 0a4.4 4.4 0 1 0 -8.8 0M558.74 129.65a4.4 4.4 0 1 0 8.8 0a4.4 4.4 0 1 0 -8.8 0M561.01 127.81a4.4 4.4 0 1 0 8.8 0a4.4 4.4 0 1 0 -8.8 0M563.27 127.77a4.4 4.4 0 1 0 8.8 0a4.4 4.4 0 1 0 -8.8 0M565.53 126.4a4.4 4.4 0 1 0 8.8 0a4.4 4.4 0 1 0 -8.8 0M567.79 124.22a4.4 4.4 0 1 0 8.8 0a4.4 4.4 0 1 0 -8.8 0M570.05 123.49a4.4 4.4 0 1 0 8.8 0a4.4 4.4 0 1 0 -8.8 0M572.31 122.44a4.4 4.4 0 1 0 8.8 0a4.4 4.4 0 1 0 -8.8 0M574.57 121.59a4.4 4.4 0 1 0 8.8 0a4.4 4.4 0 1 0 -8.8 0M576.83 119.44a4.4 4.4 0 1 0 8.8 0a4.4 4.4 0 1 0 -8.8 0M579.1 116.21a4.4 4.4 0 1 0 8.8 0a4.4 4.4 0 1 0 -8.8 0M581.36 114.67a4.4 4.4 0 1 0 8.8 0a4.4 4.4 0 1 0 -8.8 0M583.62 112.06a4.4 4.4 0 1 0 8.8 0a4.4 4.4 0 1 0 -8.8 0M585.88 113.49a4.4 4.4 0 1 0 8.8 0a4.4 4.4 0 1 0 -8.8 0M588.14 113.21a4.4 4.4 0 1 0 8.8 0a4.4 4.4 0 1 0 -8.8 0M590.4 110.99a4.4 4.4 0 1 0 8.8 0a4.4 4.4 0 1 0 -8.8 0M592.66 108.42a4.4 4.4 0 1 0 8.8 0a4.4 4.4 0 1 0 -8.8 0M594.92 107.59a4.4 4.4 0 1 0 8.8 0a4.4 4.4 0 1 0 -8.8 0M597.19 107.04a4.4 4.4 0 1 0 8.8 0a4.4 4.4 0 1 0 -8.8 0M599.45 105.06a4.4 4.4 0 1 0 8.8 0a4.4 4.4 0 1 0 -8.8 0M601.71 103.47a4.4 4.4 0 1 0 8.8 0a4.4 4.4 0 1 0 -8.8 0M603.97 97.95a4.4 4.4 0 1 0 8.8 0a4.4 4.4 0 1 0 -8.8 0M606.23 97.51a4.4 4.4 0 1 0 8.8 0a4.4 4.4 0 1 0 -8.8 0M608.49 96.87a4.4 4.4 0 1 0 8.8 0a4.4 4.4 0 1 0 -8.8 0M610.75 94.75a4.4 4.4 0 1 0 8.8 0a4.4 4.4 0 1 0 -8.8 0M613.01 91.64a4.4 4.4 0 1 0 8.8 0a4.4 4.4 0 1 0 -8.8 0M615.28 94.46a4.4 4.4 0 1 0 8.8 0a4.4 4.4 0 1 0 -8.8 0M617.54 95.48a4.4 4.4 0 1 0 8.8 0a4.4 4.4 0 1 0 -8.8 0M619.8 93.46a4.4 4.4 0 1 0 8.8 0a4.4 4.4 0 1 0 -8.8 0M622.06 90.75a4.4 4.4 0 1 0 8.8 0a4.4 4.4 0 1 0 -8.8 0M624.32 90.99a4.4 4.4 0 1 0 8.8 0a4.4 4.4 0 1 0 -8.8 0M626.58 91.43a4.4 4.4 0 1 0 8.8 0a4.4 4.4 0 1 0 -8.8 0M628.84 93.66a4.4 4.4 0 1 0 8.8 0a4.4 4.4 0 1 0 -8.8 0M631.1 91.58a4.4 4.4 0 1 0 8.8 0a4.4 4.4 0 1 0 -8.8 0M633.37 91.13a4.4 4.4 0 1 0 8.8 0a4.4 4.4 0 1 0 -8.8 0M635.63 92.84a4.4 4.4 0 1 0 8.8 0a4.4 4.4 0 1 0 -8.8 0M637.89 91.21a4.4 4.4 0 1 0 8.8 0a4.4 4.4 0 1 0 -8.8 0M640.15 93.61a4.4 4.4 0 1 0 8.8 0a4.4 4.4 0 1 0 -8.8 0M642.41 91.07a4.4 4.4 0 1 0 8.8 0a4.4 4.4 0 1 0 -8.8 0M644.67 91.49a4.4 4.4 0 1 0 8.8 0a4.4 4.4 0 1 0 -8.8 0M646.93 92.69a4.4 4.4 0 1 0 8.8 0a4.4 4.4 0 1 0 -8.8 0M649.19 93.35a4.4 4.4 0 1 0 8.8 0a4.4 4.4 0 1 0 -8.8 0M651.46 92.39a4.4 4.4 0 1 0 8.8 0a4.4 4.4 0 1 0 -8.8 0M653.72 92.12a4.4 4.4 0 1 0 8.8 0a4.4 4.4 0 1 0 -8.8 0M655.98 89.89a4.4 4.4 0 1 0 8.8 0a4.4 4.4 0 1 0 -8.8 0M658.24 91.23a4.4 4.4 0 1 0 8.8 0a4.4 4.4 0 1 0 -8.8 0M660.5 91.67a4.4 4.4 0 1 0 8.8 0a4.4 4.4 0 1 0 -8.8 0M662.76 92.13a4.4 4.4 0 1 0 8.8 0a4.4 4.4 0 1 0 -8.8 0M665.02 93.74a4.4 4.4 0 1 0 8.8 0a4.4 4.4 0 1 0 -8.8 0M667.28 93.21a4.4 4.4 0 1 0 8.8 0a4.4 4.4 0 1 0 -8.8 0M669.55 95.01a4.4 4.4 0 1 0 8.8 0a4.4 4.4 0 1 0 -8.8 0M671.81 94.8a4.4 4.4 0 1 0 8.8 0a4.4 4.4 0 1 0 -8.8 0M674.07 94.69a4.4 4.4 0 1 0 8.8 0a4.4 4.4 0 1 0 -8.8 0M676.33 95.19a4.4 4.4 0 1 0 8.8 0a4.4 4.4 0 1 0 -8.8 0M678.59 95.89a4.4 4.4 0 1 0 8.8 0a4.4 4.4 0 1 0 -8.8 0M680.85 97.26a4.4 4.4 0 1 0 8.8 0a4.4 4.4 0 1 0 -8.8 0M683.11 96.7a4.4 4.4 0 1 0 8.8 0a4.4 4.4 0 1 0 -8.8 0M685.37 98.2a4.4 4.4 0 1 0 8.8 0a4.4 4.4 0 1 0 -8.8 0M687.64 98.32a4.4 4.4 0 1 0 8.8 0a4.4 4.4 0 1 0 -8.8 0M689.9 102.85a4.4 4.4 0 1 0 8.8 0a4.4 4.4 0 1 0 -8.8 0M692.16 102.46a4.4 4.4 0 1 0 8.8 0a4.4 4.4 0 1 0 -8.8 0M694.42 100.44a4.4 4.4 0 1 0 8.8 0a4.4 4.4 0 1 0 -8.8 0M696.68 100.23a4.4 4.4 0 1 0 8.8 0a4.4 4.4 0 1 0 -8.8 0M698.94 100.07a4.4 4.4 0 1 0 8.8 0a4.4 4.4 0 1 0 -8.8 0M701.2 102.3a4.4 4.4 0 1 0 8.8 0a4.4 4.4 0 1 0 -8.8 0M703.46 103.34a4.4 4.4 0 1 0 8.8 0a4.4 4.4 0 1 0 -8.8 0M705.73 106.47a4.4 4.4 0 1 0 8.8 0a4.4 4.4 0 1 0 -8.8 0M707.99 103.89a4.4 4.4 0 1 0 8.8 0a4.4 4.4 0 1 0 -8.8 0M710.25 102.31a4.4 4.4 0 1 0 8.8 0a4.4 4.4 0 1 0 -8.8 0M712.51 99.37a4.4 4.4 0 1 0 8.8 0a4.4 4.4 0 1 0 -8.8 0M714.77 101.63a4.4 4.4 0 1 0 8.8 0a4.4 4.4 0 1 0 -8.8 0M717.03 98.62a4.4 4.4 0 1 0 8.8 0a4.4 4.4 0 1 0 -8.8 0M719.29 95.74a4.4 4.4 0 1 0 8.8 0a4.4 4.4 0 1 0 -8.8 0M721.55 96.81a4.4 4.4 0 1 0 8.8 0a4.4 4.4 0 1 0 -8.8 0M723.82 94.77a4.4 4.4 0 1 0 8.8 0a4.4 4.4 0 1 0 -8.8 0M726.08 100.83a4.4 4.4 0 1 0 8.8 0a4.4 4.4 0 1 0 -8.8 0M728.34 98.68a4.4 4.4 0 1 0 8.8 0a4.4 4.4 0 1 0 -8.8 0M730.6 97.67a4.4 4.4 0 1 0 8.8 0a4.4 4.4 0 1 0 -8.8 0M732.86 96.4a4.4 4.4 0 1 0 8.8 0a4.4 4.4 0 1 0 -8.8 0M735.12 93.21a4.4 4.4 0 1 0 8.8 0a4.4 4.4 0 1 0 -8.8 0M737.38 92.88a4.4 4.4 0 1 0 8.8 0a4.4 4.4 0 1 0 -8.8 0M739.65 88.96a4.4 4.4 0 1 0 8.8 0a4.4 4.4 0 1 0 -8.8 0M741.91 90.2a4.4 4.4 0 1 0 8.8 0a4.4 4.4 0 1 0 -8.8 0M744.17 86.06a4.4 4.4 0 1 0 8.8 0a4.4 4.4 0 1 0 -8.8 0M746.43 86.51a4.4 4.4 0 1 0 8.8 0a4.4 4.4 0 1 0 -8.8 0M748.69 87.94a4.4 4.4 0 1 0 8.8 0a4.4 4.4 0 1 0 -8.8 0M750.95 87.72a4.4 4.4 0 1 0 8.8 0a4.4 4.4 0 1 0 -8.8 0M753.21 84.39a4.4 4.4 0 1 0 8.8 0a4.4 4.4 0 1 0 -8.8 0M755.47 83.78a4.4 4.4 0 1 0 8.8 0a4.4 4.4 0 1 0 -8.8 0M757.74 85.61a4.4 4.4 0 1 0 8.8 0a4.4 4.4 0 1 0 -8.8 0M760 84.45a4.4 4.4 0 1 0 8.8 0a4.4 4.4 0 1 0 -8.8 0M762.26 81.3a4.4 4.4 0 1 0 8.8 0a4.4 4.4 0 1 0 -8.8 0M764.52 81.38a4.4 4.4 0 1 0 8.8 0a4.4 4.4 0 1 0 -8.8 0M766.78 81.15a4.4 4.4 0 1 0 8.8 0a4.4 4.4 0 1 0 -8.8 0M769.04 80.45a4.4 4.4 0 1 0 8.8 0a4.4 4.4 0 1 0 -8.8 0M771.3 81.01a4.4 4.4 0 1 0 8.8 0a4.4 4.4 0 1 0 -8.8 0M773.56 83.13a4.4 4.4 0 1 0 8.8 0a4.4 4.4 0 1 0 -8.8 0M775.83 82.88a4.4 4.4 0 1 0 8.8 0a4.4 4.4 0 1 0 -8.8 0M778.09 84.94a4.4 4.4 0 1 0 8.8 0a4.4 4.4 0 1 0 -8.8 0M780.35 83.43a4.4 4.4 0 1 0 8.8 0a4.4 4.4 0 1 0 -8.8 0M782.61 84.51a4.4 4.4 0 1 0 8.8 0a4.4 4.4 0 1 0 -8.8 0M784.87 85.01a4.4 4.4 0 1 0 8.8 0a4.4 4.4 0 1 0 -8.8 0M787.13 87.93a4.4 4.4 0 1 0 8.8 0a4.4 4.4 0 1 0 -8.8 0M789.39 88.83a4.4 4.4 0 1 0 8.8 0a4.4 4.4 0 1 0 -8.8 0M791.65 91.34a4.4 4.4 0 1 0 8.8 0a4.4 4.4 0 1 0 -8.8 0M793.92 97.07a4.4 4.4 0 1 0 8.8 0a4.4 4.4 0 1 0 -8.8 0M796.18 100.92a4.4 4.4 0 1 0 8.8 0a4.4 4.4 0 1 0 -8.8 0M798.44 104.78a4.4 4.4 0 1 0 8.8 0a4.4 4.4 0 1 0 -8.8 0M800.7 109.32a4.4 4.4 0 1 0 8.8 0a4.4 4.4 0 1 0 -8.8 0M802.96 112.58a4.4 4.4 0 1 0 8.8 0a4.4 4.4 0 1 0 -8.8 0M805.22 119.84a4.4 4.4 0 1 0 8.8 0a4.4 4.4 0 1 0 -8.8 0M807.03 130.11a4.4 4.4 0 1 0 8.8 0a4.4 4.4 0 1 0 -8.8 0M809.45 134.95a4.4 4.4 0 1 0 8.8 0a4.4 4.4 0 1 0 -8.8 0M811.86 145.82a4.4 4.4 0 1 0 8.8 0a4.4 4.4 0 1 0 -8.8 0M814.28 150.66a4.4 4.4 0 1 0 8.8 0a4.4 4.4 0 1 0 -8.8 0M818.15 161.54a4.4 4.4 0 1 0 8.8 0a4.4 4.4 0 1 0 -8.8 0M820.33 153.08a4.4 4.4 0 1 0 8.8 0a4.4 4.4 0 1 0 -8.8 0M823.35 149.45a4.4 4.4 0 1 0 8.8 0a4.4 4.4 0 1 0 -8.8 0M825.77 156.7a4.4 4.4 0 1 0 8.8 0a4.4 4.4 0 1 0 -8.8 0M827.58 133.74a4.4 4.4 0 1 0 8.8 0a4.4 4.4 0 1 0 -8.8 0M829.75 119.23a4.4 4.4 0 1 0 8.8 0a4.4 4.4 0 1 0 -8.8 0M831.81 98.08a4.4 4.4 0 1 0 8.8 0a4.4 4.4 0 1 0 -8.8 0M833.99 82.97a4.4 4.4 0 1 0 8.8 0a4.4 4.4 0 1 0 -8.8 0" fill="#ff0000" clip-path="url(#ca)"/>
<path d="M1142.85 207.69a4.4 4.4 0 1 0 8.8 0a4.4 4.4 0 1 0 -8.8 0M1145.27 207.14a4.4 4.4 0 1 0 8.8 0a4.4 4.4 0 1 0 -8.8 0M1148.02 206.59a4.4 4.4 0 1 0 8.8 0a4.4 4.4 0 1 0 -8.8 0M1150.76 206.04a4.4 4.4 0 1 0 8.8 0a4.4 4.4 0 1 0 -8.8 0M1153.51 205.49a4.4 4.4 0 1 0 8.8 0a4.4 4.4 0 1 0 -8.8 0M1156.26 203.85a4.4 4.4 0 1 0 8.8 0a4.4 4.4 0 1 0 -8.8 0M1157.91 198.9a4.4 4.4 0 1 0 8.8 0a4.4 4.4 0 1 0 -8.8 0M1159.56 191.21a4.4 4.4 0 1 0 8.8 0a4.4 4.4 0 1 0 -8.8 0M1163.4 183.52a4.4 4.4 0 1 0 8.8 0a4.4 4.4 0 1 0 -8.8 0M1165.6 193.41a4.4 4.4 0 1 0 8.8 0a4.4 4.4 0 1 0 -8.8 0M1169.45 185.71a4.4 4.4 0 1 0 8.8 0a4.4 4.4 0 1 0 -8.8 0M1170.55 195.6a4.4 4.4 0 1 0 8.8 0a4.4 4.4 0 1 0 -8.8 0M1172.74 198.9a4.4 4.4 0 1 0 8.8 0a4.4 4.4 0 1 0 -8.8 0M1175.49 195.6a4.4 4.4 0 1 0 8.8 0a4.4 4.4 0 1 0 -8.8 0M1178.24 194.51a4.4 4.4 0 1 0 8.8 0a4.4 4.4 0 1 0 -8.8 0M1181.53 196.15a4.4 4.4 0 1 0 8.8 0a4.4 4.4 0 1 0 -8.8 0M1184.83 197.25a4.4 4.4 0 1 0 8.8 0a4.4 4.4 0 1 0 -8.8 0M1188.13 195.6a4.4 4.4 0 1 0 8.8 0a4.4 4.4 0 1 0 -8.8 0M1191.97 197.25a4.4 4.4 0 1 0 8.8 0a4.4 4.4 0 1 0 -8.8 0M1194.72 195.6a4.4 4.4 0 1 0 8.8 0a4.4 4.4 0 1 0 -8.8 0M1197.47 193.41a4.4 4.4 0 1 0 8.8 0a4.4 4.4 0 1 0 -8.8 0M1200.22 190.11a4.4 4.4 0 1 0 8.8 0a4.4 4.4 0 1 0 -8.8 0M1202.96 187.91a4.4 4.4 0 1 0 8.8 0a4.4 4.4 0 1 0 -8.8 0M1201.31 178.57a4.4 4.4 0 1 0 8.8 0a4.4 4.4 0 1 0 -8.8 0M1205.16 181.32a4.4 4.4 0 1 0 8.8 0a4.4 4.4 0 1 0 -8.8 0M1211.2 173.08a4.4 4.4 0 1 0 8.8 0a4.4 4.4 0 1 0 -8.8 0M1214.5 176.92a4.4 4.4 0 1 0 8.8 0a4.4 4.4 0 1 0 -8.8 0M1216.7 171.43a4.4 4.4 0 1 0 8.8 0a4.4 4.4 0 1 0 -8.8 0M1219.45 173.63a4.4 4.4 0 1 0 8.8 0a4.4 4.4 0 1 0 -8.8 0M1221.64 176.37a4.4 4.4 0 1 0 8.8 0a4.4 4.4 0 1 0 -8.8 0M1224.17 164.84a4.4 4.4 0 1 0 8.8 0a4.4 4.4 0 1 0 -8.8 0M1226.59 172.53a4.4 4.4 0 1 0 8.8 0a4.4 4.4 0 1 0 -8.8 0M1229.34 173.63a4.4 4.4 0 1 0 8.8 0a4.4 4.4 0 1 0 -8.8 0M1231.53 176.92a4.4 4.4 0 1 0 8.8 0a4.4 4.4 0 1 0 -8.8 0M1234.83 169.23a4.4 4.4 0 1 0 8.8 0a4.4 4.4 0 1 0 -8.8 0M1237.58 171.98a4.4 4.4 0 1 0 8.8 0a4.4 4.4 0 1 0 -8.8 0M1239.78 174.73a4.4 4.4 0 1 0 8.8 0a4.4 4.4 0 1 0 -8.8 0M1241.97 176.92a4.4 4.4 0 1 0 8.8 0a4.4 4.4 0 1 0 -8.8 0M1244.17 174.73a4.4 4.4 0 1 0 8.8 0a4.4 4.4 0 1 0 -8.8 0M1246.92 171.43a4.4 4.4 0 1 0 8.8 0a4.4 4.4 0 1 0 -8.8 0M1249.12 168.13a4.4 4.4 0 1 0 8.8 0a4.4 4.4 0 1 0 -8.8 0M1251.64 163.74a4.4 4.4 0 1 0 8.8 0a4.4 4.4 0 1 0 -8.8 0M1254.06 170.33a4.4 4.4 0 1 0 8.8 0a4.4 4.4 0 1 0 -8.8 0M1257.14 178.57a4.4 4.4 0 1 0 8.8 0a4.4 4.4 0 1 0 -8.8 0M1259.01 191.21a4.4 4.4 0 1 0 8.8 0a4.4 4.4 0 1 0 -8.8 0M1261.53 210.44a4.4 4.4 0 1 0 8.8 0a4.4 4.4 0 1 0 -8.8 0M1263.73 221.98a4.4 4.4 0 1 0 8.8 0a4.4 4.4 0 1 0 -8.8 0M1266.7 234.95a4.4 4.4 0 1 0 8.8 0a4.4 4.4 0 1 0 -8.8 0M1268.68 246.7a4.4 4.4 0 1 0 8.8 0a4.4 4.4 0 1 0 -8.8 0M1270.55 253.3a4.4 4.4 0 1 0 8.8 0a4.4 4.4 0 1 0 -8.8 0M1273.84 250.55a4.4 4.4 0 1 0 8.8 0a4.4 4.4 0 1 0 -8.8 0M1276.26 250a4.4 4.4 0 1 0 8.8 0a4.4 4.4 0 1 0 -8.8 0M1278.79 253.85a4.4 4.4 0 1 0 8.8 0a4.4 4.4 0 1 0 -8.8 0M1281.53 237.14a4.4 4.4 0 1 0 8.8 0a4.4 4.4 0 1 0 -8.8 0M1283.51 218.13a4.4 4.4 0 1 0 8.8 0a4.4 4.4 0 1 0 -8.8 0M1285.71 189.56a4.4 4.4 0 1 0 8.8 0a4.4 4.4 0 1 0 -8.8 0M1288.13 182.42a4.4 4.4 0 1 0 8.8 0a4.4 4.4 0 1 0 -8.8 0M1290.87 168.68a4.4 4.4 0 1 0 8.8 0a4.4 4.4 0 1 0 -8.8 0M1292.74 160.44a4.4 4.4 0 1 0 8.8 0a4.4 4.4 0 1 0 -8.8 0M1295.82 156.04a4.4 4.4 0 1 0 8.8 0a4.4 4.4 0 1 0 -8.8 0M1298.57 153.85a4.4 4.4 0 1 0 8.8 0a4.4 4.4 0 1 0 -8.8 0M1301.31 153.3a4.4 4.4 0 1 0 8.8 0a4.4 4.4 0 1 0 -8.8 0M1304.06 153.85a4.4 4.4 0 1 0 8.8 0a4.4 4.4 0 1 0 -8.8 0M1306.26 153.85a4.4 4.4 0 1 0 8.8 0a4.4 4.4 0 1 0 -8.8 0M1309.01 157.14a4.4 4.4 0 1 0 8.8 0a4.4 4.4 0 1 0 -8.8 0M1311.75 159.89a4.4 4.4 0 1 0 8.8 0a4.4 4.4 0 1 0 -8.8 0M1314.5 161.54a4.4 4.4 0 1 0 8.8 0a4.4 4.4 0 1 0 -8.8 0M1314.28 164.84a4.4 4.4 0 1 0 8.8 0a4.4 4.4 0 1 0 -8.8 0M1320.87 163.19a4.4 4.4 0 1 0 8.8 0a4.4 4.4 0 1 0 -8.8 0M1323.07 168.13a4.4 4.4 0 1 0 8.8 0a4.4 4.4 0 1 0 -8.8 0M1325.82 172.53a4.4 4.4 0 1 0 8.8 0a4.4 4.4 0 1 0 -8.8 0M1328.02 176.92a4.4 4.4 0 1 0 8.8 0a4.4 4.4 0 1 0 -8.8 0M1330.76 175.82a4.4 4.4 0 1 0 8.8 0a4.4 4.4 0 1 0 -8.8 0M1332.96 183.52a4.4 4.4 0 1 0 8.8 0a4.4 4.4 0 1 0 -8.8 0M1335.71 187.91a4.4 4.4 0 1 0 8.8 0a4.4 4.4 0 1 0 -8.8 0M1338.46 186.81a4.4 4.4 0 1 0 8.8 0a4.4 4.4 0 1 0 -8.8 0M1340.65 186.26a4.4 4.4 0 1 0 8.8 0a4.4 4.4 0 1 0 -8.8 0M1343.4 182.97a4.4 4.4 0 1 0 8.8 0a4.4 4.4 0 1 0 -8.8 0M1345.6 184.62a4.4 4.4 0 1 0 8.8 0a4.4 4.4 0 1 0 -8.8 0M1348.35 185.71a4.4 4.4 0 1 0 8.8 0a4.4 4.4 0 1 0 -8.8 0M1350.55 185.71a4.4 4.4 0 1 0 8.8 0a4.4 4.4 0 1 0 -8.8 0M1352.74 185.16a4.4 4.4 0 1 0 8.8 0a4.4 4.4 0 1 0 -8.8 0M1355.49 187.36a4.4 4.4 0 1 0 8.8 0a4.4 4.4 0 1 0 -8.8 0M1356.59 195.6a4.4 4.4 0 1 0 8.8 0a4.4 4.4 0 1 0 -8.8 0M1360.44 198.9a4.4 4.4 0 1 0 8.8 0a4.4 4.4 0 1 0 -8.8 0M1362.08 210.44a4.4 4.4 0 1 0 8.8 0a4.4 4.4 0 1 0 -8.8 0M1364.61 214.84a4.4 4.4 0 1 0 8.8 0a4.4 4.4 0 1 0 -8.8 0M1367.58 223.08a4.4 4.4 0 1 0 8.8 0a4.4 4.4 0 1 0 -8.8 0M1369.23 230.22a4.4 4.4 0 1 0 8.8 0a4.4 4.4 0 1 0 -8.8 0M1371.97 226.37a4.4 4.4 0 1 0 8.8 0a4.4 4.4 0 1 0 -8.8 0M1374.72 230.77a4.4 4.4 0 1 0 8.8 0a4.4 4.4 0 1 0 -8.8 0M1376.92 221.98a4.4 4.4 0 1 0 8.8 0a4.4 4.4 0 1 0 -8.8 0M1379.34 219.78a4.4 4.4 0 1 0 8.8 0a4.4 4.4 0 1 0 -8.8 0M1382.41 222.53a4.4 4.4 0 1 0 8.8 0a4.4 4.4 0 1 0 -8.8 0M1384.61 230.77a4.4 4.4 0 1 0 8.8 0a4.4 4.4 0 1 0 -8.8 0M1386.59 245.05a4.4 4.4 0 1 0 8.8 0a4.4 4.4 0 1 0 -8.8 0M1389.89 248.35a4.4 4.4 0 1 0 8.8 0a4.4 4.4 0 1 0 -8.8 0M1391.75 241.76a4.4 4.4 0 1 0 8.8 0a4.4 4.4 0 1 0 -8.8 0M1393.95 235.71a4.4 4.4 0 1 0 8.8 0a4.4 4.4 0 1 0 -8.8 0M1396.7 241.76a4.4 4.4 0 1 0 8.8 0a4.4 4.4 0 1 0 -8.8 0M1399.45 258.24a4.4 4.4 0 1 0 8.8 0a4.4 4.4 0 1 0 -8.8 0M1401.97 262.09a4.4 4.4 0 1 0 8.8 0a4.4 4.4 0 1 0 -8.8 0M1403.29 279.67a4.4 4.4 0 1 0 8.8 0a4.4 4.4 0 1 0 -8.8 0M1406.59 286.81a4.4 4.4 0 1 0 8.8 0a4.4 4.4 0 1 0 -8.8 0M1408.79 291.21a4.4 4.4 0 1 0 8.8 0a4.4 4.4 0 1 0 -8.8 0M1410.98 296.7a4.4 4.4 0 1 0 8.8 0a4.4 4.4 0 1 0 -8.8 0M1414.28 276.37a4.4 4.4 0 1 0 8.8 0a4.4 4.4 0 1 0 -8.8 0M1416.48 261.54a4.4 4.4 0 1 0 8.8 0a4.4 4.4 0 1 0 -8.8 0M1419.23 262.64a4.4 4.4 0 1 0 8.8 0a4.4 4.4 0 1 0 -8.8 0M1421.97 289.01a4.4 4.4 0 1 0 8.8 0a4.4 4.4 0 1 0 -8.8 0M1437.36 276.37a4.4 4.4 0 1 0 8.8 0a4.4 4.4 0 1 0 -8.8 0M1438.46 264.84a4.4 4.4 0 1 0 8.8 0a4.4 4.4 0 1 0 -8.8 0M1442.85 259.34a4.4 4.4 0 1 0 8.8 0a4.4 4.4 0 1 0 -8.8 0M1447.25 269.78a4.4 4.4 0 1 0 8.8 0a4.4 4.4 0 1 0 -8.8 0M1461.53 296.7a4.4 4.4 0 1 0 8.8 0a4.4 4.4 0 1 0 -8.8 0M1465.38 278.57a4.4 4.4 0 1 0 8.8 0a4.4 4.4 0 1 0 -8.8 0M1468.68 263.74a4.4 4.4 0 1 0 8.8 0a4.4 4.4 0 1 0 -8.8 0M1470.87 271.43a4.4 4.4 0 1 0 8.8 0a4.4 4.4 0 1 0 -8.8 0M1473.07 285.71a4.4 4.4 0 1 0 8.8 0a4.4 4.4 0 1 0 -8.8 0M1475.82 273.63a4.4 4.4 0 1 0 8.8 0a4.4 4.4 0 1 0 -8.8 0M1478.02 253.85a4.4 4.4 0 1 0 8.8 0a4.4 4.4 0 1 0 -8.8 0M1480.76 247.25a4.4 4.4 0 1 0 8.8 0a4.4 4.4 0 1 0 -8.8 0M1484.06 250a4.4 4.4 0 1 0 8.8 0a4.4 4.4 0 1 0 -8.8 0M1485.71 274.73a4.4 4.4 0 1 0 8.8 0a4.4 4.4 0 1 0 -8.8 0M1487.91 282.42a4.4 4.4 0 1 0 8.8 0a4.4 4.4 0 1 0 -8.8 0M1490.11 261.54a4.4 4.4 0 1 0 8.8 0a4.4 4.4 0 1 0 -8.8 0M1492.85 242.31a4.4 4.4 0 1 0 8.8 0a4.4 4.4 0 1 0 -8.8 0M1494.5 223.08a4.4 4.4 0 1 0 8.8 0a4.4 4.4 0 1 0 -8.8 0M1433.51 322.4a4.4 4.4 0 1 0 8.8 0a4.4 4.4 0 1 0 -8.8 0M1429.28 338.35a4.4 4.4 0 1 0 8.8 0a4.4 4.4 0 1 0 -8.8 0M1426.02 348.02a4.4 4.4 0 1 0 8.8 0a4.4 4.4 0 1 0 -8.8 0M1424.08 367.97a4.4 4.4 0 1 0 8.8 0a4.4 4.4 0 1 0 -8.8 0M1431.46 447.75a4.4 4.4 0 1 0 8.8 0a4.4 4.4 0 1 0 -8.8 0M1448.38 313.57a4.4 4.4 0 1 0 8.8 0a4.4 4.4 0 1 0 -8.8 0M1457.93 324.45a4.4 4.4 0 1 0 8.8 0a4.4 4.4 0 1 0 -8.8 0M1453.46 328.68a4.4 4.4 0 1 0 8.8 0a4.4 4.4 0 1 0 -8.8 0M1450.44 382.84a4.4 4.4 0 1 0 8.8 0a4.4 4.4 0 1 0 -8.8 0M1455.88 387.07a4.4 4.4 0 1 0 8.8 0a4.4 4.4 0 1 0 -8.8 0M1544.12 290.6a4.4 4.4 0 1 0 8.8 0a4.4 4.4 0 1 0 -8.8 0M1519.72 156.21a4.4 4.4 0 1 0 8.8 0a4.4 4.4 0 1 0 -8.8 0M1516.09 159.23a4.4 4.4 0 1 0 8.8 0a4.4 4.4 0 1 0 -8.8 0M1512.47 161.04a4.4 4.4 0 1 0 8.8 0a4.4 4.4 0 1 0 -8.8 0M1526.97 160.44a4.4 4.4 0 1 0 8.8 0a4.4 4.4 0 1 0 -8.8 0M1524.56 164.07a4.4 4.4 0 1 0 8.8 0a4.4 4.4 0 1 0 -8.8 0M1510.05 168.9a4.4 4.4 0 1 0 8.8 0a4.4 4.4 0 1 0 -8.8 0M1522.14 169.51a4.4 4.4 0 1 0 8.8 0a4.4 4.4 0 1 0 -8.8 0M1530 174.34a4.4 4.4 0 1 0 8.8 0a4.4 4.4 0 1 0 -8.8 0M1508.24 177.36a4.4 4.4 0 1 0 8.8 0a4.4 4.4 0 1 0 -8.8 0M1504.61 185.22a4.4 4.4 0 1 0 8.8 0a4.4 4.4 0 1 0 -8.8 0M1532.41 191.26a4.4 4.4 0 1 0 8.8 0a4.4 4.4 0 1 0 -8.8 0M1502.8 200.09a4.4 4.4 0 1 0 8.8 0a4.4 4.4 0 1 0 -8.8 0M1534.47 202.14a4.4 4.4 0 1 0 8.8 0a4.4 4.4 0 1 0 -8.8 0M1500.62 208.43a4.4 4.4 0 1 0 8.8 0a4.4 4.4 0 1 0 -8.8 0M1536.64 215.8a4.4 4.4 0 1 0 8.8 0a4.4 4.4 0 1 0 -8.8 0M1497.6 226.68a4.4 4.4 0 1 0 8.8 0a4.4 4.4 0 1 0 -8.8 0M1539.67 239.25a4.4 4.4 0 1 0 8.8 0a4.4 4.4 0 1 0 -8.8 0M1551.51 246.63a4.4 4.4 0 1 0 8.8 0a4.4 4.4 0 1 0 -8.8 0M1554.78 257.14a4.4 4.4 0 1 0 8.8 0a4.4 4.4 0 1 0 -8.8 0M1549.34 258.35a4.4 4.4 0 1 0 8.8 0a4.4 4.4 0 1 0 -8.8 0M1556.83 273.1a4.4 4.4 0 1 0 8.8 0a4.4 4.4 0 1 0 -8.8 0M1546.92 277.45a4.4 4.4 0 1 0 8.8 0a4.4 4.4 0 1 0 -8.8 0M1542.08 281.32a4.4 4.4 0 1 0 8.8 0a4.4 4.4 0 1 0 -8.8 0M1569.28 278.3a4.4 4.4 0 1 0 8.8 0a4.4 4.4 0 1 0 -8.8 0M1566.26 279.51a4.4 4.4 0 1 0 8.8 0a4.4 4.4 0 1 0 -8.8 0M1559.01 284.95a4.4 4.4 0 1 0 8.8 0a4.4 4.4 0 1 0 -8.8 0M1591.04 272.25a4.4 4.4 0 1 0 8.8 0a4.4 4.4 0 1 0 -8.8 0M1593.46 284.34a4.4 4.4 0 1 0 8.8 0a4.4 4.4 0 1 0 -8.8 0M1588.62 289.54a4.4 4.4 0 1 0 8.8 0a4.4 4.4 0 1 0 -8.8 0M1596.48 290.02a4.4 4.4 0 1 0 8.8 0a4.4 4.4 0 1 0 -8.8 0M1598.29 297.64a4.4 4.4 0 1 0 8.8 0a4.4 4.4 0 1 0 -8.8 0M1601.31 301.26a4.4 4.4 0 1 0 8.8 0a4.4 4.4 0 1 0 -8.8 0M1562.39 298a4.4 4.4 0 1 0 8.8 0a4.4 4.4 0 1 0 -8.8 0M1565.05 301.26a4.4 4.4 0 1 0 8.8 0a4.4 4.4 0 1 0 -8.8 0M1571.7 304.29a4.4 4.4 0 1 0 8.8 0a4.4 4.4 0 1 0 -8.8 0M1573.51 310.33a4.4 4.4 0 1 0 8.8 0a4.4 4.4 0 1 0 -8.8 0M1577.14 317.58a4.4 4.4 0 1 0 8.8 0a4.4 4.4 0 1 0 -8.8 0M1603.73 315.17a4.4 4.4 0 1 0 8.8 0a4.4 4.4 0 1 0 -8.8 0M1612.19 313.35a4.4 4.4 0 1 0 8.8 0a4.4 4.4 0 1 0 -8.8 0M1613.4 311.54a4.4 4.4 0 1 0 8.8 0a4.4 4.4 0 1 0 -8.8 0M1625.49 281.32a4.4 4.4 0 1 0 8.8 0a4.4 4.4 0 1 0 -8.8 0M1628.15 285.55a4.4 4.4 0 1 0 8.8 0a4.4 4.4 0 1 0 -8.8 0M1623.68 301.87a4.4 4.4 0 1 0 8.8 0a4.4 4.4 0 1 0 -8.8 0M1630.33 299.45a4.4 4.4 0 1 0 8.8 0a4.4 4.4 0 1 0 -8.8 0M1633.35 304.29a4.4 4.4 0 1 0 8.8 0a4.4 4.4 0 1 0 -8.8 0M1643.02 287.97a4.4 4.4 0 1 0 8.8 0a4.4 4.4 0 1 0 -8.8 0M1640.6 290.75a4.4 4.4 0 1 0 8.8 0a4.4 4.4 0 1 0 -8.8 0M1652.45 296.43a4.4 4.4 0 1 0 8.8 0a4.4 4.4 0 1 0 -8.8 0M1644.83 309.73a4.4 4.4 0 1 0 8.8 0a4.4 4.4 0 1 0 -8.8 0M1656.07 305.5a4.4 4.4 0 1 0 8.8 0a4.4 4.4 0 1 0 -8.8 0M1676.86 290.39a4.4 4.4 0 1 0 8.8 0a4.4 4.4 0 1 0 -8.8 0M1680.49 291.23a4.4 4.4 0 1 0 8.8 0a4.4 4.4 0 1 0 -8.8 0M1689.56 293.41a4.4 4.4 0 1 0 8.8 0a4.4 4.4 0 1 0 -8.8 0M1687.14 316.98a4.4 4.4 0 1 0 8.8 0a4.4 4.4 0 1 0 -8.8 0M1694.39 304.29a4.4 4.4 0 1 0 8.8 0a4.4 4.4 0 1 0 -8.8 0M1577.27 321.52a4.4 4.4 0 1 0 8.8 0a4.4 4.4 0 1 0 -8.8 0M1605.8 327.2a4.4 4.4 0 1 0 8.8 0a4.4 4.4 0 1 0 -8.8 0M1638.07 327.56a4.4 4.4 0 1 0 8.8 0a4.4 4.4 0 1 0 -8.8 0M1651.37 324.78a4.4 4.4 0 1 0 8.8 0a4.4 4.4 0 1 0 -8.8 0M1674.94 323.57a4.4 4.4 0 1 0 8.8 0a4.4 4.4 0 1 0 -8.8 0M1697.3 322.36a4.4 4.4 0 1 0 8.8 0a4.4 4.4 0 1 0 -8.8 0M1682.19 329.62a4.4 4.4 0 1 0 8.8 0a4.4 4.4 0 1 0 -8.8 0M1699.12 307.49a4.4 4.4 0 1 0 8.8 0a4.4 4.4 0 1 0 -8.8 0M1704.56 307.86a4.4 4.4 0 1 0 8.8 0a4.4 4.4 0 1 0 -8.8 0M1712.41 307.49a4.4 4.4 0 1 0 8.8 0a4.4 4.4 0 1 0 -8.8 0M1706.37 335.3a4.4 4.4 0 1 0 8.8 0a4.4 4.4 0 1 0 -8.8 0M1658.02 340.13a4.4 4.4 0 1 0 8.8 0a4.4 4.4 0 1 0 -8.8 0M1684.61 345.69a4.4 4.4 0 1 0 8.8 0a4.4 4.4 0 1 0 -8.8 0M1609.06 345.69a4.4 4.4 0 1 0 8.8 0a4.4 4.4 0 1 0 -8.8 0M1635.41 351.01a4.4 4.4 0 1 0 8.8 0a4.4 4.4 0 1 0 -8.8 0M1586.7 358.38a4.4 4.4 0 1 0 8.8 0a4.4 4.4 0 1 0 -8.8 0M1665.27 358.38a4.4 4.4 0 1 0 8.8 0a4.4 4.4 0 1 0 -8.8 0M1710.24 360.2a4.4 4.4 0 1 0 8.8 0a4.4 4.4 0 1 0 -8.8 0M1616.56 366.85a4.4 4.4 0 1 0 8.8 0a4.4 4.4 0 1 0 -8.8 0M1581.5 373.37a4.4 4.4 0 1 0 8.8 0a4.4 4.4 0 1 0 -8.8 0M1667.69 375.19a4.4 4.4 0 1 0 8.8 0a4.4 4.4 0 1 0 -8.8 0M1663.46 378.57a4.4 4.4 0 1 0 8.8 0a4.4 4.4 0 1 0 -8.8 0M1659.83 384.01a4.4 4.4 0 1 0 8.8 0a4.4 4.4 0 1 0 -8.8 0M1620.79 391.26a4.4 4.4 0 1 0 8.8 0a4.4 4.4 0 1 0 -8.8 0M1579.45 405.17a4.4 4.4 0 1 0 8.8 0a4.4 4.4 0 1 0 -8.8 0M1672.77 407.22a4.4 4.4 0 1 0 8.8 0a4.4 4.4 0 1 0 -8.8 0M1583.68 414.84a4.4 4.4 0 1 0 8.8 0a4.4 4.4 0 1 0 -8.8 0M1618.49 422.33a4.4 4.4 0 1 0 8.8 0a4.4 4.4 0 1 0 -8.8 0M1648.35 421.12a4.4 4.4 0 1 0 8.8 0a4.4 4.4 0 1 0 -8.8 0M1670.71 497.64a4.4 4.4 0 1 0 8.8 0a4.4 4.4 0 1 0 -8.8 0M1753.73 106.05a4.4 4.4 0 1 0 8.8 0a4.4 4.4 0 1 0 -8.8 0M1751.38 110.37a4.4 4.4 0 1 0 8.8 0a4.4 4.4 0 1 0 -8.8 0M1749.41 121.22a4.4 4.4 0 1 0 8.8 0a4.4 4.4 0 1 0 -8.8 0M1757.26 127.77a4.4 4.4 0 1 0 8.8 0a4.4 4.4 0 1 0 -8.8 0M1746.54 136.27a4.4 4.4 0 1 0 8.8 0a4.4 4.4 0 1 0 -8.8 0M1744.18 150.92a4.4 4.4 0 1 0 8.8 0a4.4 4.4 0 1 0 -8.8 0M1741.96 164.92a4.4 4.4 0 1 0 8.8 0a4.4 4.4 0 1 0 -8.8 0M1738.95 176.43a4.4 4.4 0 1 0 8.8 0a4.4 4.4 0 1 0 -8.8 0M1736.33 184.02a4.4 4.4 0 1 0 8.8 0a4.4 4.4 0 1 0 -8.8 0M1734.63 198.67a4.4 4.4 0 1 0 8.8 0a4.4 4.4 0 1 0 -8.8 0M1731.49 211.75a4.4 4.4 0 1 0 8.8 0a4.4 4.4 0 1 0 -8.8 0M1729.79 220.26a4.4 4.4 0 1 0 8.8 0a4.4 4.4 0 1 0 -8.8 0M1727.18 230.07a4.4 4.4 0 1 0 8.8 0a4.4 4.4 0 1 0 -8.8 0M1723.9 244.72a4.4 4.4 0 1 0 8.8 0a4.4 4.4 0 1 0 -8.8 0M1721.94 253.35a4.4 4.4 0 1 0 8.8 0a4.4 4.4 0 1 0 -8.8 0M1719.72 262.12a4.4 4.4 0 1 0 8.8 0a4.4 4.4 0 1 0 -8.8 0M1717.36 267.35a4.4 4.4 0 1 0 8.8 0a4.4 4.4 0 1 0 -8.8 0M1714.09 274.55a4.4 4.4 0 1 0 8.8 0a4.4 4.4 0 1 0 -8.8 0M1693.16 294.82a4.4 4.4 0 1 0 8.8 0a4.4 4.4 0 1 0 -8.8 0M1702.58 295.48a4.4 4.4 0 1 0 8.8 0a4.4 4.4 0 1 0 -8.8 0" fill="#0000ff" clip-path="url(#cb)"/>
<path d="M1146.59 185.16a4.4 4.4 0 1 0 8.8 0a4.4 4.4 0 1 0 -8.8 0M1148.57 174.73a4.4 4.4 0 1 0 8.8 0a4.4 4.4 0 1 0 -8.8 0M1150.55 158.79a4.4 4.4 0 1 0 8.8 0a4.4 4.4 0 1 0 -8.8 0M1153.51 150.55a4.4 4.4 0 1 0 8.8 0a4.4 4.4 0 1 0 -8.8 0M1156.26 148.35a4.4 4.4 0 1 0 8.8 0a4.4 4.4 0 1 0 -8.8 0M1159.01 151.65a4.4 4.4 0 1 0 8.8 0a4.4 4.4 0 1 0 -8.8 0M1161.75 153.85a4.4 4.4 0 1 0 8.8 0a4.4 4.4 0 1 0 -8.8 0M1164.5 156.04a4.4 4.4 0 1 0 8.8 0a4.4 4.4 0 1 0 -8.8 0M1167.03 158.79a4.4 4.4 0 1 0 8.8 0a4.4 4.4 0 1 0 -8.8 0M1169.45 161.54a4.4 4.4 0 1 0 8.8 0a4.4 4.4 0 1 0 -8.8 0M1171.86 165.93a4.4 4.4 0 1 0 8.8 0a4.4 4.4 0 1 0 -8.8 0M1173.84 171.43a4.4 4.4 0 1 0 8.8 0a4.4 4.4 0 1 0 -8.8 0M1175.49 175.82a4.4 4.4 0 1 0 8.8 0a4.4 4.4 0 1 0 -8.8 0M1178.24 186.81a4.4 4.4 0 1 0 8.8 0a4.4 4.4 0 1 0 -8.8 0M1180.98 185.16a4.4 4.4 0 1 0 8.8 0a4.4 4.4 0 1 0 -8.8 0M1183.73 190.11a4.4 4.4 0 1 0 8.8 0a4.4 4.4 0 1 0 -8.8 0M1185.93 186.81a4.4 4.4 0 1 0 8.8 0a4.4 4.4 0 1 0 -8.8 0M1188.13 182.42a4.4 4.4 0 1 0 8.8 0a4.4 4.4 0 1 0 -8.8 0M1190.87 183.52a4.4 4.4 0 1 0 8.8 0a4.4 4.4 0 1 0 -8.8 0M1193.07 180.22a4.4 4.4 0 1 0 8.8 0a4.4 4.4 0 1 0 -8.8 0M1195.27 176.92a4.4 4.4 0 1 0 8.8 0a4.4 4.4 0 1 0 -8.8 0M1197.47 173.08a4.4 4.4 0 1 0 8.8 0a4.4 4.4 0 1 0 -8.8 0M1200.22 174.73a4.4 4.4 0 1 0 8.8 0a4.4 4.4 0 1 0 -8.8 0M1202.41 171.43a4.4 4.4 0 1 0 8.8 0a4.4 4.4 0 1 0 -8.8 0M1204.83 166.48a4.4 4.4 0 1 0 8.8 0a4.4 4.4 0 1 0 -8.8 0M1207.36 179.67a4.4 4.4 0 1 0 8.8 0a4.4 4.4 0 1 0 -8.8 0M1210.11 187.91a4.4 4.4 0 1 0 8.8 0a4.4 4.4 0 1 0 -8.8 0M1212.3 201.1a4.4 4.4 0 1 0 8.8 0a4.4 4.4 0 1 0 -8.8 0M1214.5 215.93a4.4 4.4 0 1 0 8.8 0a4.4 4.4 0 1 0 -8.8 0M1217.58 224.18a4.4 4.4 0 1 0 8.8 0a4.4 4.4 0 1 0 -8.8 0M1219.45 233.52a4.4 4.4 0 1 0 8.8 0a4.4 4.4 0 1 0 -8.8 0M1222.19 234.07a4.4 4.4 0 1 0 8.8 0a4.4 4.4 0 1 0 -8.8 0M1224.94 235.16a4.4 4.4 0 1 0 8.8 0a4.4 4.4 0 1 0 -8.8 0M1227.47 235.16a4.4 4.4 0 1 0 8.8 0a4.4 4.4 0 1 0 -8.8 0M1229.34 227.47a4.4 4.4 0 1 0 8.8 0a4.4 4.4 0 1 0 -8.8 0M1232.08 221.98a4.4 4.4 0 1 0 8.8 0a4.4 4.4 0 1 0 -8.8 0M1234.83 221.43a4.4 4.4 0 1 0 8.8 0a4.4 4.4 0 1 0 -8.8 0M1237.03 213.74a4.4 4.4 0 1 0 8.8 0a4.4 4.4 0 1 0 -8.8 0M1239.78 201.1a4.4 4.4 0 1 0 8.8 0a4.4 4.4 0 1 0 -8.8 0M1241.97 196.7a4.4 4.4 0 1 0 8.8 0a4.4 4.4 0 1 0 -8.8 0M1244.17 189.56a4.4 4.4 0 1 0 8.8 0a4.4 4.4 0 1 0 -8.8 0M1246.37 179.67a4.4 4.4 0 1 0 8.8 0a4.4 4.4 0 1 0 -8.8 0M1248.57 173.63a4.4 4.4 0 1 0 8.8 0a4.4 4.4 0 1 0 -8.8 0M1251.31 170.33a4.4 4.4 0 1 0 8.8 0a4.4 4.4 0 1 0 -8.8 0M1253.51 167.03a4.4 4.4 0 1 0 8.8 0a4.4 4.4 0 1 0 -8.8 0M1256.26 171.43a4.4 4.4 0 1 0 8.8 0a4.4 4.4 0 1 0 -8.8 0M1259.01 165.93a4.4 4.4 0 1 0 8.8 0a4.4 4.4 0 1 0 -8.8 0M1261.75 167.03a4.4 4.4 0 1 0 8.8 0a4.4 4.4 0 1 0 -8.8 0M1264.5 169.78a4.4 4.4 0 1 0 8.8 0a4.4 4.4 0 1 0 -8.8 0M1266.7 174.73a4.4 4.4 0 1 0 8.8 0a4.4 4.4 0 1 0 -8.8 0M1269.45 175.82a4.4 4.4 0 1 0 8.8 0a4.4 4.4 0 1 0 -8.8 0M1271.64 179.67a4.4 4.4 0 1 0 8.8 0a4.4 4.4 0 1 0 -8.8 0M1273.84 174.73a4.4 4.4 0 1 0 8.8 0a4.4 4.4 0 1 0 -8.8 0M1276.04 173.08a4.4 4.4 0 1 0 8.8 0a4.4 4.4 0 1 0 -8.8 0M1278.79 175.82a4.4 4.4 0 1 0 8.8 0a4.4 4.4 0 1 0 -8.8 0M1281.53 179.67a4.4 4.4 0 1 0 8.8 0a4.4 4.4 0 1 0 -8.8 0M1284.28 182.97a4.4 4.4 0 1 0 8.8 0a4.4 4.4 0 1 0 -8.8 0M1287.03 179.12a4.4 4.4 0 1 0 8.8 0a4.4 4.4 0 1 0 -8.8 0M1289.23 174.73a4.4 4.4 0 1 0 8.8 0a4.4 4.4 0 1 0 -8.8 0M1291.97 176.92a4.4 4.4 0 1 0 8.8 0a4.4 4.4 0 1 0 -8.8 0M1294.72 174.73a4.4 4.4 0 1 0 8.8 0a4.4 4.4 0 1 0 -8.8 0M1298.57 171.98a4.4 4.4 0 1 0 8.8 0a4.4 4.4 0 1 0 -8.8 0M1301.31 173.63a4.4 4.4 0 1 0 8.8 0a4.4 4.4 0 1 0 -8.8 0M1303.51 176.92a4.4 4.4 0 1 0 8.8 0a4.4 4.4 0 1 0 -8.8 0M1306.26 181.87a4.4 4.4 0 1 0 8.8 0a4.4 4.4 0 1 0 -8.8 0M1308.46 189.01a4.4 4.4 0 1 0 8.8 0a4.4 4.4 0 1 0 -8.8 0M1311.2 198.9a4.4 4.4 0 1 0 8.8 0a4.4 4.4 0 1 0 -8.8 0M1312.85 205.49a4.4 4.4 0 1 0 8.8 0a4.4 4.4 0 1 0 -8.8 0M1315.05 212.09a4.4 4.4 0 1 0 8.8 0a4.4 4.4 0 1 0 -8.8 0M1318.68 221.43a4.4 4.4 0 1 0 8.8 0a4.4 4.4 0 1 0 -8.8 0M1321.97 228.02a4.4 4.4 0 1 0 8.8 0a4.4 4.4 0 1 0 -8.8 0M1323.62 221.98a4.4 4.4 0 1 0 8.8 0a4.4 4.4 0 1 0 -8.8 0M1326.37 220.33a4.4 4.4 0 1 0 8.8 0a4.4 4.4 0 1 0 -8.8 0M1328.57 224.18a4.4 4.4 0 1 0 8.8 0a4.4 4.4 0 1 0 -8.8 0M1330.76 230.22a4.4 4.4 0 1 0 8.8 0a4.4 4.4 0 1 0 -8.8 0M1332.74 248.9a4.4 4.4 0 1 0 8.8 0a4.4 4.4 0 1 0 -8.8 0M1335.71 259.34a4.4 4.4 0 1 0 8.8 0a4.4 4.4 0 1 0 -8.8 0M1337.91 270.88a4.4 4.4 0 1 0 8.8 0a4.4 4.4 0 1 0 -8.8 0M1340.65 269.78a4.4 4.4 0 1 0 8.8 0a4.4 4.4 0 1 0 -8.8 0M1343.4 274.73a4.4 4.4 0 1 0 8.8 0a4.4 4.4 0 1 0 -8.8 0M1345.6 293.41a4.4 4.4 0 1 0 8.8 0a4.4 4.4 0 1 0 -8.8 0M1349.45 289.56a4.4 4.4 0 1 0 8.8 0a4.4 4.4 0 1 0 -8.8 0M1351.86 284.62a4.4 4.4 0 1 0 8.8 0a4.4 4.4 0 1 0 -8.8 0M1353.84 285.71a4.4 4.4 0 1 0 8.8 0a4.4 4.4 0 1 0 -8.8 0M1355.49 293.41a4.4 4.4 0 1 0 8.8 0a4.4 4.4 0 1 0 -8.8 0M1404.39 296.7a4.4 4.4 0 1 0 8.8 0a4.4 4.4 0 1 0 -8.8 0M1407.14 280.77a4.4 4.4 0 1 0 8.8 0a4.4 4.4 0 1 0 -8.8 0M1409.89 296.7a4.4 4.4 0 1 0 8.8 0a4.4 4.4 0 1 0 -8.8 0M1429.12 285.71a4.4 4.4 0 1 0 8.8 0a4.4 4.4 0 1 0 -8.8 0M1431.31 269.23a4.4 4.4 0 1 0 8.8 0a4.4 4.4 0 1 0 -8.8 0M1434.06 271.43a4.4 4.4 0 1 0 8.8 0a4.4 4.4 0 1 0 -8.8 0M1436.81 284.62a4.4 4.4 0 1 0 8.8 0a4.4 4.4 0 1 0 -8.8 0M1439.01 286.81a4.4 4.4 0 1 0 8.8 0a4.4 4.4 0 1 0 -8.8 0M1441.2 259.34a4.4 4.4 0 1 0 8.8 0a4.4 4.4 0 1 0 -8.8 0M1443.95 267.58a4.4 4.4 0 1 0 8.8 0a4.4 4.4 0 1 0 -8.8 0M1446.15 273.63a4.4 4.4 0 1 0 8.8 0a4.4 4.4 0 1 0 -8.8 0M1451.64 296.7a4.4 4.4 0 1 0 8.8 0a4.4 4.4 0 1 0 -8.8 0M1453.84 281.32a4.4 4.4 0 1 0 8.8 0a4.4 4.4 0 1 0 -8.8 0M1456.04 278.57a4.4 4.4 0 1 0 8.8 0a4.4 4.4 0 1 0 -8.8 0M1458.79 265.93a4.4 4.4 0 1 0 8.8 0a4.4 4.4 0 1 0 -8.8 0M1461.53 264.29a4.4 4.4 0 1 0 8.8 0a4.4 4.4 0 1 0 -8.8 0M1463.18 253.85a4.4 4.4 0 1 0 8.8 0a4.4 4.4 0 1 0 -8.8 0M1465.38 247.25a4.4 4.4 0 1 0 8.8 0a4.4 4.4 0 1 0 -8.8 0M1468.68 237.91a4.4 4.4 0 1 0 8.8 0a4.4 4.4 0 1 0 -8.8 0M1470.33 231.87a4.4 4.4 0 1 0 8.8 0a4.4 4.4 0 1 0 -8.8 0M1472.74 230.77a4.4 4.4 0 1 0 8.8 0a4.4 4.4 0 1 0 -8.8 0M1475.82 219.23a4.4 4.4 0 1 0 8.8 0a4.4 4.4 0 1 0 -8.8 0M1478.24 212.64a4.4 4.4 0 1 0 8.8 0a4.4 4.4 0 1 0 -8.8 0M1480.22 190.66a4.4 4.4 0 1 0 8.8 0a4.4 4.4 0 1 0 -8.8 0M1482.96 186.26a4.4 4.4 0 1 0 8.8 0a4.4 4.4 0 1 0 -8.8 0M1485.16 171.43a4.4 4.4 0 1 0 8.8 0a4.4 4.4 0 1 0 -8.8 0M1487.91 169.23a4.4 4.4 0 1 0 8.8 0a4.4 4.4 0 1 0 -8.8 0M1490.11 160.44a4.4 4.4 0 1 0 8.8 0a4.4 4.4 0 1 0 -8.8 0M1493.4 158.24a4.4 4.4 0 1 0 8.8 0a4.4 4.4 0 1 0 -8.8 0M1360.38 307.53a4.4 4.4 0 1 0 8.8 0a4.4 4.4 0 1 0 -8.8 0M1357.96 313.57a4.4 4.4 0 1 0 8.8 0a4.4 4.4 0 1 0 -8.8 0M1364.61 309.95a4.4 4.4 0 1 0 8.8 0a4.4 4.4 0 1 0 -8.8 0M1369.45 310.55a4.4 4.4 0 1 0 8.8 0a4.4 4.4 0 1 0 -8.8 0M1382.14 312.97a4.4 4.4 0 1 0 8.8 0a4.4 4.4 0 1 0 -8.8 0M1384.56 317.2a4.4 4.4 0 1 0 8.8 0a4.4 4.4 0 1 0 -8.8 0M1377.91 315.99a4.4 4.4 0 1 0 8.8 0a4.4 4.4 0 1 0 -8.8 0M1375.49 320.22a4.4 4.4 0 1 0 8.8 0a4.4 4.4 0 1 0 -8.8 0M1373.07 323.24a4.4 4.4 0 1 0 8.8 0a4.4 4.4 0 1 0 -8.8 0M1367.63 326.26a4.4 4.4 0 1 0 8.8 0a4.4 4.4 0 1 0 -8.8 0M1412.36 310.55a4.4 4.4 0 1 0 8.8 0a4.4 4.4 0 1 0 -8.8 0M1415.98 310.55a4.4 4.4 0 1 0 8.8 0a4.4 4.4 0 1 0 -8.8 0M1419.01 311.76a4.4 4.4 0 1 0 8.8 0a4.4 4.4 0 1 0 -8.8 0M1401.48 317.8a4.4 4.4 0 1 0 8.8 0a4.4 4.4 0 1 0 -8.8 0M1399.06 322.03a4.4 4.4 0 1 0 8.8 0a4.4 4.4 0 1 0 -8.8 0M1414.17 326.26a4.4 4.4 0 1 0 8.8 0a4.4 4.4 0 1 0 -8.8 0M1422.03 322.64a4.4 4.4 0 1 0 8.8 0a4.4 4.4 0 1 0 -8.8 0M1423.84 329.29a4.4 4.4 0 1 0 8.8 0a4.4 4.4 0 1 0 -8.8 0M1426.26 328.68a4.4 4.4 0 1 0 8.8 0a4.4 4.4 0 1 0 -8.8 0M1391.81 345.6a4.4 4.4 0 1 0 8.8 0a4.4 4.4 0 1 0 -8.8 0M1397.25 346.81a4.4 4.4 0 1 0 8.8 0a4.4 4.4 0 1 0 -8.8 0M1394.23 361.32a4.4 4.4 0 1 0 8.8 0a4.4 4.4 0 1 0 -8.8 0M1389.63 365.91a4.4 4.4 0 1 0 8.8 0a4.4 4.4 0 1 0 -8.8 0M1386.73 379.81a4.4 4.4 0 1 0 8.8 0a4.4 4.4 0 1 0 -8.8 0M1448.38 304.26a4.4 4.4 0 1 0 8.8 0a4.4 4.4 0 1 0 -8.8 0M1519.58 305.11a4.4 4.4 0 1 0 8.8 0a4.4 4.4 0 1 0 -8.8 0M1522.72 322.4a4.4 4.4 0 1 0 8.8 0a4.4 4.4 0 1 0 -8.8 0M1525.02 333.76a4.4 4.4 0 1 0 8.8 0a4.4 4.4 0 1 0 -8.8 0M1530.46 354.07a4.4 4.4 0 1 0 8.8 0a4.4 4.4 0 1 0 -8.8 0M1527.19 392.51a4.4 4.4 0 1 0 8.8 0a4.4 4.4 0 1 0 -8.8 0M1534.69 438.08a4.4 4.4 0 1 0 8.8 0a4.4 4.4 0 1 0 -8.8 0M1539.89 315.99a4.4 4.4 0 1 0 8.8 0a4.4 4.4 0 1 0 -8.8 0M1542.3 319.01a4.4 4.4 0 1 0 8.8 0a4.4 4.4 0 1 0 -8.8 0M1537.47 338.35a4.4 4.4 0 1 0 8.8 0a4.4 4.4 0 1 0 -8.8 0M1545.33 338.11a4.4 4.4 0 1 0 8.8 0a4.4 4.4 0 1 0 -8.8 0M1549.56 334.73a4.4 4.4 0 1 0 8.8 0a4.4 4.4 0 1 0 -8.8 0M1553.18 331.7a4.4 4.4 0 1 0 8.8 0a4.4 4.4 0 1 0 -8.8 0M1547.14 348.02a4.4 4.4 0 1 0 8.8 0a4.4 4.4 0 1 0 -8.8 0M1551.73 380.66a4.4 4.4 0 1 0 8.8 0a4.4 4.4 0 1 0 -8.8 0M1498.57 159.84a4.4 4.4 0 1 0 8.8 0a4.4 4.4 0 1 0 -8.8 0M1500.98 165.27a4.4 4.4 0 1 0 8.8 0a4.4 4.4 0 1 0 -8.8 0M1502.19 171.32a4.4 4.4 0 1 0 8.8 0a4.4 4.4 0 1 0 -8.8 0M1504.61 178.57a4.4 4.4 0 1 0 8.8 0a4.4 4.4 0 1 0 -8.8 0M1508 193.68a4.4 4.4 0 1 0 8.8 0a4.4 4.4 0 1 0 -8.8 0M1510.29 214.84a4.4 4.4 0 1 0 8.8 0a4.4 4.4 0 1 0 -8.8 0M1512.23 233.93a4.4 4.4 0 1 0 8.8 0a4.4 4.4 0 1 0 -8.8 0M1515.49 263.79a4.4 4.4 0 1 0 8.8 0a4.4 4.4 0 1 0 -8.8 0M1517.55 274.67a4.4 4.4 0 1 0 8.8 0a4.4 4.4 0 1 0 -8.8 0M1522.74 318.79a4.4 4.4 0 1 0 8.8 0a4.4 4.4 0 1 0 -8.8 0M1557.19 306.46a4.4 4.4 0 1 0 8.8 0a4.4 4.4 0 1 0 -8.8 0M1559.01 314.92a4.4 4.4 0 1 0 8.8 0a4.4 4.4 0 1 0 -8.8 0M1584.39 300.66a4.4 4.4 0 1 0 8.8 0a4.4 4.4 0 1 0 -8.8 0M1590.44 259.56a4.4 4.4 0 1 0 8.8 0a4.4 4.4 0 1 0 -8.8 0M1588.02 263.79a4.4 4.4 0 1 0 8.8 0a4.4 4.4 0 1 0 -8.8 0M1586.57 281.92a4.4 4.4 0 1 0 8.8 0a4.4 4.4 0 1 0 -8.8 0M1594.06 278.66a4.4 4.4 0 1 0 8.8 0a4.4 4.4 0 1 0 -8.8 0M1601.31 281.32a4.4 4.4 0 1 0 8.8 0a4.4 4.4 0 1 0 -8.8 0M1603.13 266.81a4.4 4.4 0 1 0 8.8 0a4.4 4.4 0 1 0 -8.8 0M1606.15 268.02a4.4 4.4 0 1 0 8.8 0a4.4 4.4 0 1 0 -8.8 0M1609.17 291.23a4.4 4.4 0 1 0 8.8 0a4.4 4.4 0 1 0 -8.8 0M1596.48 312.75a4.4 4.4 0 1 0 8.8 0a4.4 4.4 0 1 0 -8.8 0M1613.4 263.79a4.4 4.4 0 1 0 8.8 0a4.4 4.4 0 1 0 -8.8 0M1616.42 249.89a4.4 4.4 0 1 0 8.8 0a4.4 4.4 0 1 0 -8.8 0M1618.84 257.14a4.4 4.4 0 1 0 8.8 0a4.4 4.4 0 1 0 -8.8 0M1626.1 268.63a4.4 4.4 0 1 0 8.8 0a4.4 4.4 0 1 0 -8.8 0M1628.15 251.7a4.4 4.4 0 1 0 8.8 0a4.4 4.4 0 1 0 -8.8 0M1635.52 256.54a4.4 4.4 0 1 0 8.8 0a4.4 4.4 0 1 0 -8.8 0M1637.58 237.8a4.4 4.4 0 1 0 8.8 0a4.4 4.4 0 1 0 -8.8 0M1641.2 235.39a4.4 4.4 0 1 0 8.8 0a4.4 4.4 0 1 0 -8.8 0M1643.02 267.78a4.4 4.4 0 1 0 8.8 0a4.4 4.4 0 1 0 -8.8 0M1630.93 281.92a4.4 4.4 0 1 0 8.8 0a4.4 4.4 0 1 0 -8.8 0M1620.66 304.29a4.4 4.4 0 1 0 8.8 0a4.4 4.4 0 1 0 -8.8 0M1659.94 266.81a4.4 4.4 0 1 0 8.8 0a4.4 4.4 0 1 0 -8.8 0M1663.21 273.46a4.4 4.4 0 1 0 8.8 0a4.4 4.4 0 1 0 -8.8 0M1657.89 280.96a4.4 4.4 0 1 0 8.8 0a4.4 4.4 0 1 0 -8.8 0M1665.38 290.39a4.4 4.4 0 1 0 8.8 0a4.4 4.4 0 1 0 -8.8 0M1667.8 303.08a4.4 4.4 0 1 0 8.8 0a4.4 4.4 0 1 0 -8.8 0M1650.88 305.5a4.4 4.4 0 1 0 8.8 0a4.4 4.4 0 1 0 -8.8 0M1675.05 295.82a4.4 4.4 0 1 0 8.8 0a4.4 4.4 0 1 0 -8.8 0M1676.86 278.3a4.4 4.4 0 1 0 8.8 0a4.4 4.4 0 1 0 -8.8 0M1679.89 266.81a4.4 4.4 0 1 0 8.8 0a4.4 4.4 0 1 0 -8.8 0M1682.91 268.02a4.4 4.4 0 1 0 8.8 0a4.4 4.4 0 1 0 -8.8 0M1684.48 252.91a4.4 4.4 0 1 0 8.8 0a4.4 4.4 0 1 0 -8.8 0M1687.14 235.99a4.4 4.4 0 1 0 8.8 0a4.4 4.4 0 1 0 -8.8 0M1690.77 235.99a4.4 4.4 0 1 0 8.8 0a4.4 4.4 0 1 0 -8.8 0M1694.39 237.8a4.4 4.4 0 1 0 8.8 0a4.4 4.4 0 1 0 -8.8 0M1695.6 249.89a4.4 4.4 0 1 0 8.8 0a4.4 4.4 0 1 0 -8.8 0M1672.63 316.37a4.4 4.4 0 1 0 8.8 0a4.4 4.4 0 1 0 -8.8 0M1702.14 302.18a4.4 4.4 0 1 0 8.8 0a4.4 4.4 0 1 0 -8.8 0M1562.52 341.1a4.4 4.4 0 1 0 8.8 0a4.4 4.4 0 1 0 -8.8 0M1566.75 343.52a4.4 4.4 0 1 0 8.8 0a4.4 4.4 0 1 0 -8.8 0M1577.03 346.54a4.4 4.4 0 1 0 8.8 0a4.4 4.4 0 1 0 -8.8 0M1579.45 349.56a4.4 4.4 0 1 0 8.8 0a4.4 4.4 0 1 0 -8.8 0M1574.01 356.81a4.4 4.4 0 1 0 8.8 0a4.4 4.4 0 1 0 -8.8 0M1571.59 361.65a4.4 4.4 0 1 0 8.8 0a4.4 4.4 0 1 0 -8.8 0M1611.12 331.19a4.4 4.4 0 1 0 8.8 0a4.4 4.4 0 1 0 -8.8 0M1624.17 331.19a4.4 4.4 0 1 0 8.8 0a4.4 4.4 0 1 0 -8.8 0M1633.48 326.35a4.4 4.4 0 1 0 8.8 0a4.4 4.4 0 1 0 -8.8 0M1644.72 325.38a4.4 4.4 0 1 0 8.8 0a4.4 4.4 0 1 0 -8.8 0M1648.95 322.97a4.4 4.4 0 1 0 8.8 0a4.4 4.4 0 1 0 -8.8 0M1670.47 338.44a4.4 4.4 0 1 0 8.8 0a4.4 4.4 0 1 0 -8.8 0M1655.6 350.77a4.4 4.4 0 1 0 8.8 0a4.4 4.4 0 1 0 -8.8 0M1652.34 357.66a4.4 4.4 0 1 0 8.8 0a4.4 4.4 0 1 0 -8.8 0M1598.42 366.85a4.4 4.4 0 1 0 8.8 0a4.4 4.4 0 1 0 -8.8 0M1710 330.82a4.4 4.4 0 1 0 8.8 0a4.4 4.4 0 1 0 -8.8 0M1704.56 363.7a4.4 4.4 0 1 0 8.8 0a4.4 4.4 0 1 0 -8.8 0M1706.97 405.41a4.4 4.4 0 1 0 8.8 0a4.4 4.4 0 1 0 -8.8 0M1564.09 377.36a4.4 4.4 0 1 0 8.8 0a4.4 4.4 0 1 0 -8.8 0M1581.26 385.22a4.4 4.4 0 1 0 8.8 0a4.4 4.4 0 1 0 -8.8 0M1569.53 391.51a4.4 4.4 0 1 0 8.8 0a4.4 4.4 0 1 0 -8.8 0M1757 188.47a4.4 4.4 0 1 0 8.8 0a4.4 4.4 0 1 0 -8.8 0M1749.41 209.4a4.4 4.4 0 1 0 8.8 0a4.4 4.4 0 1 0 -8.8 0M1746.14 212.41a4.4 4.4 0 1 0 8.8 0a4.4 4.4 0 1 0 -8.8 0M1742.87 222.87a4.4 4.4 0 1 0 8.8 0a4.4 4.4 0 1 0 -8.8 0M1751.38 222.22a4.4 4.4 0 1 0 8.8 0a4.4 4.4 0 1 0 -8.8 0M1753.99 226.8a4.4 4.4 0 1 0 8.8 0a4.4 4.4 0 1 0 -8.8 0M1726.78 217.64a4.4 4.4 0 1 0 8.8 0a4.4 4.4 0 1 0 -8.8 0M1729.79 225.88a4.4 4.4 0 1 0 8.8 0a4.4 4.4 0 1 0 -8.8 0M1722.6 224.84a4.4 4.4 0 1 0 8.8 0a4.4 4.4 0 1 0 -8.8 0M1719.33 231.38a4.4 4.4 0 1 0 8.8 0a4.4 4.4 0 1 0 -8.8 0M1735.68 233.73a4.4 4.4 0 1 0 8.8 0a4.4 4.4 0 1 0 -8.8 0M1738.95 235.3a4.4 4.4 0 1 0 8.8 0a4.4 4.4 0 1 0 -8.8 0M1731.1 240.8a4.4 4.4 0 1 0 8.8 0a4.4 4.4 0 1 0 -8.8 0M1717.36 251.26a4.4 4.4 0 1 0 8.8 0a4.4 4.4 0 1 0 -8.8 0M1699.31 271.02a4.4 4.4 0 1 0 8.8 0a4.4 4.4 0 1 0 -8.8 0M1714.09 272.32a4.4 4.4 0 1 0 8.8 0a4.4 4.4 0 1 0 -8.8 0M1712.13 291.55a4.4 4.4 0 1 0 8.8 0a4.4 4.4 0 1 0 -8.8 0" fill="#ff0000" clip-path="url(#cb)"/>
<path d="M264.75 1173.5H360.45V866.3H264.75Z" fill="none" stroke="#808080" stroke-width="4.4" stroke-dasharray="16.4 7.09"/>
<path d="M358 894.5L386.2 890.2L416.9 882.5L447.7 875.6L478.5 868.7L509.2 862.5L540 856.4L570.8 849.5L600 840.7L630.8 828.7L661.5 816.8L692.3 805.6L723.1 795.6L753.8 783.3L769.2 776.4L784.6 769.5L800 764.1L815.4 761.5L830.8 759.5L839.5 758.7L839.5 758.7L830.8 759.5L815.4 761.5L800 765.2L784.6 771.3L769.2 778.7L753.8 785.9L723.1 798.2L692.3 808.2L661.5 819L630.8 831.3L600 843.6L570.8 852.1L540 859.3L509.2 865.2L478.5 871.6L447.7 879L416.9 886.7L386.2 895.2L358 902.4Z" fill="#0000ff" stroke="#0000ff" stroke-width="6.6" stroke-linejoin="round" clip-path="url(#cc)"/>
<path d="M311.65 914.39L311.65 912.27L311.66 907.99L311.67 904.74L311.68 903.26L311.69 902.72L311.7 902.43L311.72 902.17L311.74 901.9L311.77 901.62L311.79 901.34L311.82 901.06L311.86 900.8L311.89 900.55L311.93 900.31L311.97 900.1L312.01 899.9L312.06 899.73L312.11 899.57L312.16 899.43L312.22 899.31L312.28 899.21L312.34 899.11L312.47 898.95L312.61 898.82L312.76 898.7L312.92 898.59L313.1 898.48L313.28 898.37L313.38 898.31L313.48 898.26L313.58 898.2L313.69 898.13L313.8 898.07L313.91 898.01L313.91 913.84L313.91 911.76L313.91 907.57L313.92 904.38L313.93 902.94L313.94 902.41L313.96 902.13L313.98 901.87L314 901.61L314.02 901.33L314.05 901.06L314.08 900.79L314.11 900.53L314.15 900.28L314.19 900.05L314.23 899.84L314.27 899.65L314.32 899.48L314.37 899.32L314.42 899.19L314.47 899.07L314.53 898.97L314.59 898.87L314.72 898.72L314.86 898.59L315.01 898.48L315.18 898.37L315.35 898.26L315.54 898.15L315.64 898.1L315.74 898.04L315.84 897.98L315.95 897.92L316.05 897.86L316.16 897.79L316.16 913.32L316.17 911.28L316.17 907.17L316.18 904.04L316.19 902.62L316.2 902.11L316.22 901.83L316.23 901.58L316.26 901.32L316.28 901.05L316.31 900.78L316.34 900.52L316.37 900.26L316.4 900.02L316.44 899.79L316.48 899.59L316.53 899.4L316.57 899.23L316.62 899.08L316.67 898.95L316.73 898.83L316.79 898.73L316.85 898.64L316.98 898.49L317.12 898.36L317.27 898.25L317.43 898.14L317.61 898.04L317.79 897.93L317.89 897.88L317.99 897.82L318.1 897.76L318.2 897.7L318.31 897.64L318.42 897.58L318.42 912.79L318.42 910.8L318.43 906.77L318.43 903.7L318.44 902.31L318.46 901.81L318.47 901.53L318.49 901.29L318.51 901.03L318.53 900.77L318.56 900.5L318.59 900.24L318.62 899.99L318.66 899.76L318.7 899.54L318.74 899.33L318.78 899.15L318.83 898.99L318.88 898.84L318.93 898.71L318.98 898.6L319.04 898.49L319.17 898.33L319.3 898.19L319.45 898.08L319.61 897.97L319.78 897.87L319.96 897.76L320.15 897.66L320.25 897.6L320.35 897.54L320.46 897.49L320.57 897.43L320.68 897.37L320.68 912.27L320.68 910.31L320.68 906.37L320.69 903.36L320.7 902L320.71 901.5L320.73 901.24L320.75 901L320.77 900.75L320.79 900.49L320.82 900.23L320.85 899.97L320.88 899.73L320.91 899.5L320.95 899.28L320.99 899.08L321.04 898.9L321.08 898.74L321.13 898.6L321.19 898.47L321.24 898.36L321.3 898.26L321.42 898.09L321.56 897.96L321.7 897.85L321.86 897.74L322.03 897.64L322.21 897.54L322.4 897.44L322.5 897.38L322.61 897.33L322.71 897.27L322.82 897.21L322.93 897.15L322.93 911.75L322.93 909.83L322.94 905.96L322.95 903.02L322.96 901.69L322.97 901.2L322.98 900.94L323 900.7L323.02 900.46L323.05 900.21L323.07 899.95L323.1 899.7L323.14 899.46L323.17 899.23L323.21 899.02L323.25 898.83L323.29 898.65L323.34 898.49L323.39 898.35L323.44 898.23L323.5 898.12L323.55 898.02L323.68 897.86L323.81 897.73L323.96 897.62L324.12 897.52L324.29 897.42L324.47 897.32L324.66 897.22L324.76 897.17L324.86 897.11L324.97 897.05L325.08 897L325.19 896.94L325.19 911.22L325.19 909.35L325.19 905.56L325.2 902.68L325.21 901.37L325.22 900.9L325.24 900.64L325.26 900.41L325.28 900.17L325.3 899.92L325.33 899.68L325.36 899.43L325.39 899.2L325.43 898.97L325.46 898.77L325.51 898.57L325.55 898.4L325.6 898.25L325.65 898.11L325.7 897.99L325.75 897.88L325.81 897.79L325.93 897.63L326.07 897.5L326.22 897.39L326.37 897.29L326.54 897.2L326.72 897.1L326.92 897L327.02 896.95L327.12 896.89L327.22 896.84L327.33 896.78L327.44 896.73L327.44 910.7L327.45 908.86L327.45 905.16L327.46 902.34L327.47 901.06L327.48 900.59L327.49 900.35L327.51 900.12L327.53 899.88L327.56 899.64L327.59 899.4L327.61 899.16L327.65 898.93L327.68 898.71L327.72 898.51L327.76 898.32L327.81 898.15L327.85 898L327.9 897.87L327.95 897.75L328.01 897.64L328.07 897.55L328.19 897.4L328.33 897.27L328.47 897.17L328.63 897.07L328.8 896.97L328.98 896.88L329.17 896.78L329.27 896.73L329.37 896.68L329.48 896.62L329.59 896.57L329.7 896.51L329.7 910.18L329.7 908.38L329.71 904.76L329.71 902L329.72 900.75L329.74 900.29L329.75 900.05L329.77 899.83L329.79 899.6L329.81 899.36L329.84 899.12L329.87 898.89L329.9 898.66L329.94 898.45L329.98 898.25L330.02 898.07L330.06 897.9L330.11 897.76L330.16 897.62L330.21 897.51L330.26 897.4L330.38 897.23L330.51 897.1L330.65 896.99L330.81 896.89L330.97 896.8L331.14 896.7L331.33 896.61L331.53 896.51L331.63 896.46L331.74 896.41L331.84 896.35L331.96 896.3L331.96 909.65L331.96 907.9L331.96 904.35L331.97 901.66L331.98 900.44L331.99 899.99L332.01 899.75L332.02 899.54L332.05 899.31L332.07 899.08L332.1 898.85L332.13 898.62L332.16 898.4L332.19 898.19L332.23 897.99L332.27 897.82L332.32 897.65L332.36 897.51L332.41 897.38L332.46 897.27L332.52 897.17L332.64 897L332.77 896.87L332.91 896.76L333.06 896.66L333.22 896.57L333.4 896.48L333.59 896.39L333.78 896.29L333.89 896.24L333.99 896.19L334.1 896.14L334.21 896.09L334.21 909.13L334.21 907.41L334.22 903.95L334.22 901.32L334.23 900.12L334.25 899.69L334.26 899.45L334.28 899.24L334.3 899.02L334.33 898.8L334.35 898.57L334.38 898.35L334.41 898.13L334.45 897.93L334.49 897.74L334.53 897.56L334.57 897.41L334.62 897.26L334.67 897.14L334.72 897.03L334.78 896.93L334.89 896.77L335.02 896.64L335.16 896.53L335.32 896.44L335.48 896.35L335.66 896.26L335.84 896.17L336.04 896.07L336.14 896.03L336.25 895.98L336.36 895.92L336.47 895.87L336.47 908.61L336.47 906.93L336.47 903.55L336.48 900.98L336.49 899.81L336.5 899.38L336.52 899.16L336.54 898.95L336.56 898.74L336.58 898.52L336.61 898.29L336.64 898.07L336.67 897.86L336.71 897.67L336.74 897.48L336.78 897.31L336.83 897.16L336.87 897.02L336.92 896.89L336.98 896.79L337.03 896.69L337.15 896.53L337.28 896.41L337.42 896.3L337.57 896.21L337.74 896.12L337.91 896.04L338.1 895.95L338.29 895.86L338.4 895.81L338.5 895.76L338.61 895.71L338.72 895.66L338.72 908.08L338.72 906.45L338.73 903.15L338.74 900.64L338.75 899.5L338.76 899.08L338.77 898.86L338.79 898.66L338.81 898.45L338.84 898.23L338.86 898.02L338.89 897.8L338.93 897.6L338.96 897.4L339 897.22L339.04 897.06L339.08 896.91L339.13 896.77L339.18 896.65L339.23 896.55L339.35 896.37L339.47 896.23L339.6 896.12L339.75 896.03L339.91 895.94L340.08 895.86L340.26 895.77L340.45 895.68L340.65 895.59L340.76 895.54L340.87 895.5L340.98 895.45L340.98 907.56L340.98 905.97L340.98 902.75L340.99 900.3L341 899.18L341.01 898.78L341.03 898.56L341.05 898.37L341.07 898.16L341.09 897.95L341.12 897.74L341.15 897.53L341.18 897.33L341.22 897.14L341.26 896.97L341.3 896.8L341.34 896.66L341.39 896.53L341.44 896.41L341.49 896.31L341.6 896.13L341.72 896L341.86 895.89L342.01 895.8L342.16 895.71L342.33 895.63L342.51 895.55L342.71 895.46L342.91 895.37L343.01 895.33L343.12 895.28L343.23 895.23L343.23 907.04L343.24 905.48L343.24 902.34L343.25 899.95L343.26 898.87L343.27 898.48L343.29 898.27L343.3 898.07L343.33 897.88L343.35 897.67L343.38 897.46L343.41 897.26L343.44 897.07L343.47 896.88L343.51 896.71L343.55 896.55L343.6 896.41L343.64 896.28L343.69 896.17L343.74 896.06L343.86 895.9L343.98 895.77L344.12 895.66L344.26 895.57L344.42 895.49L344.59 895.41L344.77 895.33L344.96 895.24L345.17 895.16L345.27 895.11L345.38 895.07L345.49 895.02L345.49 906.51L345.49 905L345.5 901.94L345.5 899.61L345.51 898.56L345.53 898.17L345.54 897.97L345.56 897.78L345.58 897.59L345.6 897.39L345.63 897.19L345.66 896.99L345.69 896.8L345.73 896.62L345.77 896.45L345.81 896.3L345.85 896.16L345.9 896.03L345.95 895.92L346 895.82L346.11 895.66L346.24 895.53L346.37 895.43L346.52 895.34L346.68 895.26L346.85 895.19L347.03 895.11L347.22 895.03L347.42 894.94L347.64 894.85L347.75 894.8L347.75 905.99L347.75 904.52L347.75 901.54L347.76 899.27L347.77 898.25L347.78 897.87L347.8 897.67L347.82 897.49L347.84 897.3L347.86 897.11L347.89 896.91L347.92 896.72L347.95 896.53L347.98 896.36L348.02 896.2L348.06 896.05L348.11 895.91L348.15 895.79L348.2 895.68L348.31 895.5L348.43 895.36L348.56 895.25L348.7 895.16L348.85 895.08L349.02 895L349.19 894.92L349.38 894.85L349.57 894.77L349.78 894.68L349.89 894.64L350 894.59L350 905.47L350 904.03L350.01 901.14L350.02 898.93L350.02 897.93L350.04 897.57L350.05 897.37L350.07 897.2L350.09 897.01L350.12 896.82L350.14 896.63L350.17 896.45L350.21 896.27L350.24 896.1L350.28 895.94L350.32 895.79L350.36 895.66L350.41 895.54L350.46 895.44L350.57 895.26L350.68 895.13L350.81 895.02L350.96 894.93L351.11 894.85L351.27 894.78L351.45 894.7L351.63 894.63L351.83 894.55L352.04 894.46L352.15 894.42L352.26 894.38L352.26 904.95L352.26 903.55L352.26 900.73L352.27 898.59L352.28 897.62L352.29 897.27L352.31 897.08L352.33 896.91L352.35 896.73L352.37 896.54L352.4 896.36L352.43 896.18L352.46 896L352.5 895.84L352.53 895.68L352.58 895.54L352.62 895.41L352.67 895.3L352.72 895.19L352.82 895.02L352.94 894.89L353.07 894.79L353.21 894.7L353.36 894.62L353.53 894.55L353.7 894.48L353.89 894.41L354.09 894.33L354.29 894.25L354.4 894.21L354.51 894.16L354.51 904.42L354.52 903.07L354.52 900.33L354.53 898.25L354.54 897.31L354.55 896.96L354.56 896.78L354.58 896.61L354.6 896.44L354.63 896.26L354.66 896.08L354.68 895.91L354.72 895.74L354.75 895.57L354.79 895.42L354.83 895.29L354.88 895.16L354.92 895.05L355.02 894.86L355.14 894.72L355.26 894.6L355.4 894.51L355.54 894.43L355.7 894.36L355.87 894.29L356.05 894.22L356.24 894.15L356.44 894.07L356.66 893.99L356.77 893.95L356.77 903.9L356.77 902.58L356.78 899.93L356.78 897.91L356.79 897L356.81 896.66L356.82 896.48L356.84 896.32L356.86 896.15L356.88 895.98L356.91 895.81L356.94 895.63L356.97 895.47L357.01 895.31L357.05 895.17L357.09 895.03L357.13 894.91L357.18 894.8L357.28 894.62L357.39 894.48L357.52 894.37L357.65 894.28L357.8 894.21L357.96 894.14L358.12 894.07L358.31 894L358.5 893.93L358.7 893.86L358.91 893.78L359.03 893.74L359.03 903.38L359.03 902.1L359.03 899.53L359.04 897.57L359.05 896.68L359.06 896.36L359.08 896.19L359.09 896.03L359.12 895.87L359.14 895.7L359.17 895.53L359.2 895.36L359.23 895.2L359.26 895.05L359.3 894.91L359.34 894.78L359.39 894.66L359.43 894.56L359.53 894.38L359.65 894.25L359.77 894.14L359.91 894.05L360.05 893.98L360.21 893.91L360.38 893.84L360.56 893.78L360.75 893.71L360.96 893.64L361.17 893.56L361.28 893.52L361.28 902.85" fill="none" stroke="#0000ff" stroke-width="6.6" stroke-linejoin="round" stroke-linecap="butt" clip-path="url(#cc)"/>
<path d="M358 906.7L386.2 899.5L416.9 891L447.7 883.3L478.5 875.9L509.2 869.5L540 863.6L570.8 856.4L600 847.9L630.8 835.6L661.5 823.3L692.3 812.5L723.1 802.5L753.8 790.2L769.2 783L784.6 775.6L800 769.5L815.4 765.6L830.8 763L839.5 761.8L839.5 766.7L830.8 767.5L815.4 769L800 772.9L784.6 779L769.2 786.7L753.8 794.4L723.1 806.7L692.3 816.7L661.5 828.7L630.8 841.3L600 852.2L570.8 859.8L540 866.7L509.2 872.9L478.5 880.5L447.7 888.2L416.9 897.5L386.2 908.2L358 920.3Z" fill="#ff0000" stroke="#ff0000" stroke-width="6.6" stroke-linejoin="round" clip-path="url(#cc)"/>
<path d="M363.05 905.79L363.05 906.12L363.04 907.04L363.03 908.39L363.02 909.96L363.01 911.54L363 912.96L362.98 914.13L362.96 915.01L362.93 915.64L362.91 916.06L362.88 916.34L362.84 916.52L362.81 916.64L362.73 916.81L362.64 916.96L362.54 917.1L362.43 917.24L362.3 917.39L362.17 917.55L362.09 917.63L362.02 917.71L361.94 917.79L361.86 917.88L361.78 917.96L361.69 918.05L361.6 918.14L361.51 918.22L361.42 918.31L361.32 918.4L361.22 918.49L361.12 918.58L361.01 918.68L360.9 918.77L360.79 918.87L360.79 906.27L360.79 906.6L360.79 907.53L360.78 908.89L360.77 910.47L360.76 912.05L360.74 913.48L360.72 914.65L360.7 915.55L360.68 916.19L360.65 916.62L360.62 916.9L360.59 917.09L360.55 917.23L360.47 917.42L360.38 917.59L360.28 917.75L360.17 917.92L360.05 918.1L359.98 918.19L359.91 918.29L359.84 918.38L359.76 918.47L359.69 918.57L359.61 918.67L359.52 918.77L359.44 918.87L359.35 918.97L359.26 919.07L359.16 919.18L359.06 919.28L358.96 919.39L358.86 919.5L358.76 919.61L358.65 919.72L358.54 919.83L358.54 906.75L358.53 907.09L358.53 908.02L358.52 909.39L358.51 910.97L358.5 912.57L358.49 914L358.47 915.19L358.45 916.1L358.42 916.75L358.39 917.19L358.37 917.49L358.33 917.69L358.3 917.84L358.26 917.96L358.17 918.16L358.08 918.36L358.03 918.46L357.97 918.56L357.91 918.66L357.85 918.76L357.79 918.87L357.72 918.98L357.65 919.09L357.58 919.2L357.51 919.32L357.43 919.43L357.35 919.55L357.27 919.67L357.18 919.79L357.09 919.91L357 920.03L356.91 920.16L356.81 920.28L356.71 920.41L356.61 920.54L356.5 920.67L356.39 920.8L356.28 920.93L356.28 907.24L356.28 907.59L356.27 908.53L356.27 909.9L356.26 911.49L356.24 913.09L356.23 914.54L356.21 915.73L356.19 916.65L356.17 917.31L356.14 917.76L356.11 918.07L356.08 918.29L356.04 918.45L356 918.58L355.96 918.69L355.92 918.81L355.87 918.92L355.82 919.03L355.77 919.14L355.72 919.26L355.66 919.37L355.6 919.49L355.53 919.62L355.47 919.74L355.4 919.87L355.33 919.99L355.25 920.12L355.17 920.25L355.09 920.39L355.01 920.52L354.93 920.66L354.84 920.8L354.74 920.94L354.65 921.08L354.55 921.22L354.45 921.37L354.35 921.51L354.24 921.66L354.14 921.81L354.02 921.96L354.02 907.73L354.02 908.08L354.02 909.03L354.01 910.41L354 912.01L353.99 913.62L353.97 915.08L353.96 916.29L353.93 917.22L353.91 917.89L353.88 918.36L353.85 918.68L353.82 918.92L353.79 919.09L353.75 919.24L353.71 919.37L353.66 919.5L353.62 919.63L353.57 919.76L353.52 919.89L353.46 920.02L353.4 920.16L353.34 920.3L353.28 920.44L353.21 920.58L353.14 920.73L353.07 920.88L353 921.03L352.92 921.18L352.84 921.34L352.76 921.49L352.67 921.65L352.58 921.81L352.49 921.98L352.39 922.14L352.3 922.31L352.2 922.48L352.09 922.65L351.99 922.82L351.88 922.99L351.77 923.17L351.77 908.23L351.77 908.58L351.76 909.53L351.76 910.92L351.75 912.54L351.73 914.16L351.72 915.63L351.7 916.86L351.68 917.8L351.65 918.49L351.63 918.98L351.6 919.32L351.57 919.57L351.53 919.76L351.49 919.93L351.45 920.08L351.41 920.23L351.36 920.38L351.31 920.53L351.26 920.68L351.2 920.84L351.15 921L351.09 921.16L351.02 921.33L350.96 921.5L350.89 921.67L350.82 921.84L350.74 922.02L350.66 922.19L350.58 922.38L350.5 922.56L350.41 922.74L350.32 922.93L350.23 923.12L350.14 923.31L350.04 923.51L349.94 923.7L349.84 923.9L349.73 924.1L349.62 924.31L349.51 924.51L349.51 908.72L349.51 909.08L349.51 910.04L349.5 911.45L349.49 913.07L349.48 914.71L349.46 916.2L349.44 917.44L349.42 918.4L349.4 919.11L349.37 919.62L349.34 919.98L349.31 920.26L349.27 920.47L349.24 920.66L349.2 920.84L349.15 921.01L349.11 921.19L349.06 921.36L349 921.54L348.95 921.73L348.89 921.91L348.83 922.1L348.77 922.3L348.7 922.49L348.63 922.69L348.56 922.9L348.48 923.1L348.41 923.31L348.33 923.52L348.24 923.74L348.16 923.96L348.07 924.17L347.98 924.4L347.88 924.62L347.79 924.85L347.69 925.08L347.58 925.31L347.48 925.55L347.37 925.79L347.26 926.03L347.26 909.21L347.26 909.58L347.25 910.55L347.24 911.97L347.23 913.61L347.22 915.26L347.21 916.77L347.19 918.03L347.17 919.01L347.14 919.74L347.12 920.26L347.09 920.65L347.05 920.94L347.02 921.18L346.98 921.39L346.94 921.59L346.9 921.79L346.85 921.99L346.8 922.2L346.75 922.4L346.69 922.61L346.63 922.83L346.57 923.04L346.51 923.27L346.44 923.49L346.38 923.72L346.3 923.95L346.23 924.19L346.15 924.43L346.07 924.67L345.99 924.92L345.9 925.17L345.81 925.42L345.72 925.67L345.63 925.93L345.53 926.19L345.43 926.46L345.33 926.72L345.22 926.99L345.11 927.26L345 927.54L345 909.7L345 910.08L345 911.06L344.99 912.49L344.98 914.14L344.97 915.81L344.95 917.33L344.93 918.61L344.91 919.61L344.89 920.36L344.86 920.91L344.83 921.31L344.8 921.63L344.76 921.89L344.72 922.13L344.68 922.35L344.64 922.57L344.59 922.8L344.54 923.03L344.49 923.26L344.44 923.5L344.38 923.74L344.32 923.98L344.25 924.23L344.19 924.49L344.12 924.75L344.05 925.01L343.97 925.28L343.9 925.55L343.82 925.82L343.73 926.1L343.65 926.38L343.56 926.66L343.47 926.95L343.37 927.24L343.27 927.54L343.17 927.83L343.07 928.13L342.96 928.44L342.86 928.74L342.74 929.05L342.74 910.19L342.74 910.57L342.74 911.57L342.73 913.01L342.72 914.68L342.71 916.37L342.69 917.91L342.68 919.21L342.65 920.23L342.63 921L342.6 921.57L342.57 922L342.54 922.34L342.51 922.63L342.47 922.89L342.43 923.14L342.38 923.39L342.34 923.65L342.29 923.9L342.24 924.17L342.18 924.43L342.12 924.71L342.06 924.98L342 925.27L341.93 925.55L341.86 925.85L341.79 926.14L341.72 926.44L341.64 926.75L341.56 927.06L341.48 927.37L341.39 927.69L341.3 928.01L341.21 928.33L341.12 928.66L341.02 928.99L340.92 929.33L340.81 929.67L340.71 930.01L340.6 930.36L340.49 930.71L340.49 910.69L340.49 911.08L340.48 912.09L340.48 913.55L340.47 915.24L340.45 916.95L340.44 918.51L340.42 919.83L340.4 920.88L340.37 921.68L340.35 922.29L340.32 922.75L340.29 923.12L340.25 923.44L340.21 923.74L340.17 924.02L340.13 924.31L340.08 924.6L340.03 924.9L339.98 925.2L339.93 925.5L339.87 925.82L339.81 926.14L339.74 926.46L339.68 926.79L339.61 927.12L339.54 927.46L339.46 927.81L339.38 928.16L339.3 928.51L339.22 928.87L339.13 929.24L339.05 929.6L338.95 929.98L338.86 930.35L338.76 930.74L338.66 931.12L338.56 931.51L338.45 931.9L338.34 932.3L338.23 932.7L338.23 911.18L338.23 911.58L338.23 912.6L338.22 914.08L338.21 915.8L338.2 917.53L338.18 919.12L338.16 920.47L338.14 921.55L338.12 922.38L338.09 923.01L338.06 923.5L338.03 923.91L338 924.27L337.96 924.6L337.92 924.92L337.87 925.25L337.83 925.58L337.78 925.91L337.72 926.25L337.67 926.6L337.61 926.96L337.55 927.32L337.49 927.69L337.42 928.06L337.35 928.44L337.28 928.82L337.21 929.22L337.13 929.61L337.05 930.01L336.96 930.42L336.88 930.84L336.79 931.25L336.7 931.68L336.6 932.1L336.51 932.54L336.41 932.97L336.3 933.42L336.2 933.86L336.09 934.31L335.98 934.77L335.98 911.67L335.98 912.08L335.97 913.13L335.96 914.62L335.95 916.36L335.94 918.12L335.93 919.74L335.91 921.12L335.89 922.23L335.86 923.1L335.84 923.76L335.81 924.3L335.77 924.74L335.74 925.13L335.7 925.51L335.66 925.87L335.62 926.24L335.57 926.61L335.52 926.99L335.47 927.38L335.41 927.78L335.36 928.18L335.3 928.59L335.23 929.01L335.17 929.43L335.1 929.86L335.02 930.3L334.95 930.74L334.87 931.19L334.79 931.65L334.71 932.11L334.62 932.58L334.53 933.05L334.44 933.53L334.35 934.02L334.25 934.51L334.15 935L334.05 935.51L333.94 936.01L333.83 936.52L333.72 937.04L333.72 912.17L333.72 912.59L333.72 913.66L333.71 915.18L333.7 916.94L333.69 918.73L333.67 920.37L333.65 921.78L333.63 922.93L333.61 923.82L333.58 924.53L333.55 925.1L333.52 925.58L333.48 926.01L333.45 926.43L333.4 926.83L333.36 927.24L333.31 927.66L333.26 928.08L333.21 928.52L333.16 928.96L333.1 929.41L333.04 929.87L332.98 930.33L332.91 930.81L332.84 931.29L332.77 931.78L332.69 932.27L332.62 932.78L332.54 933.29L332.45 933.8L332.37 934.33L332.28 934.86L332.19 935.39L332.09 935.93L331.99 936.48L331.89 937.04L331.79 937.6L331.69 938.16L331.58 938.73L331.47 939.31L331.47 912.68L331.46 913.11L331.46 914.19L331.45 915.74L331.44 917.53L331.43 919.35L331.42 921.03L331.4 922.48L331.38 923.66L331.35 924.6L331.32 925.34L331.3 925.95L331.26 926.48L331.23 926.96L331.19 927.42L331.15 927.88L331.1 928.34L331.06 928.81L331.01 929.29L330.96 929.78L330.9 930.27L330.84 930.78L330.78 931.3L330.72 931.82L330.65 932.35L330.58 932.9L330.51 933.45L330.44 934L330.36 934.57L330.28 935.14L330.2 935.73L330.11 936.32L330.02 936.91L329.93 937.52L329.84 938.13L329.74 938.74L329.64 939.37L329.54 940L329.43 940.63L329.32 941.28L329.21 941.93L329.21 913.18L329.21 913.63L329.2 914.73L329.2 916.31L329.19 918.13L329.17 919.99L329.16 921.72L329.14 923.21L329.12 924.43L329.1 925.42L329.07 926.22L329.04 926.88L329.01 927.46L328.97 928L328.93 928.52L328.89 929.04L328.85 929.56L328.8 930.09L328.75 930.63L328.7 931.18L328.65 931.75L328.59 932.32L328.53 932.91L328.46 933.5L328.4 934.1L328.33 934.72L328.26 935.34L328.18 935.98L328.1 936.62L328.02 937.27L327.94 937.93L327.86 938.6L327.77 939.27L327.67 939.96L327.58 940.65L327.48 941.35L327.38 942.05L327.28 942.77L327.17 943.49L327.07 944.22L326.95 944.96L326.95 913.68L326.95 914.14L326.95 915.28L326.94 916.88L326.93 918.74L326.92 920.64L326.9 922.4L326.89 923.94L326.86 925.21L326.84 926.25L326.81 927.09L326.78 927.81L326.75 928.44L326.72 929.04L326.68 929.62L326.64 930.19L326.59 930.77L326.55 931.37L326.5 931.97L326.45 932.59L326.39 933.22L326.33 933.86L326.27 934.51L326.21 935.18L326.14 935.86L326.07 936.54L326 937.24L325.93 937.95L325.85 938.66L325.77 939.39L325.69 940.13L325.6 940.87L325.51 941.63L325.42 942.39L325.32 943.17L325.23 943.95L325.13 944.74L325.02 945.54L324.92 946.35L324.81 947.16L324.7 947.99L324.7 914.18L324.7 914.66L324.69 915.82L324.69 917.46L324.68 919.35L324.66 921.28L324.65 923.09L324.63 924.67L324.61 925.99L324.58 927.07L324.56 927.97L324.53 928.74L324.5 929.43L324.46 930.08L324.42 930.71L324.38 931.35L324.34 931.99L324.29 932.64L324.24 933.31L324.19 934L324.13 934.69L324.08 935.4L324.02 936.12L323.95 936.86L323.89 937.61L323.82 938.37L323.75 939.14L323.67 939.92L323.59 940.71L323.51 941.51L323.43 942.33L323.34 943.15L323.25 943.99L323.16 944.83L323.07 945.69L322.97 946.55L322.87 947.43L322.77 948.31L322.66 949.2L322.55 950.11L322.44 951.02L322.44 914.68L322.44 915.18L322.44 916.37L322.43 918.05L322.42 919.99L322.41 921.97L322.39 923.83L322.37 925.46L322.35 926.84L322.33 927.99L322.3 928.95L322.27 929.79L322.24 930.55L322.2 931.27L322.17 931.98L322.13 932.7L322.08 933.42L322.04 934.16L321.99 934.91L321.93 935.67L321.88 936.46L321.82 937.25L321.76 938.07L321.7 938.89L321.63 939.73L321.56 940.58L321.49 941.45L321.41 942.33L321.34 943.22L321.26 944.12L321.17 945.04L321.09 945.97L321 946.91L320.91 947.86L320.81 948.82L320.72 949.79L320.62 950.77L320.51 951.76L320.41 952.77L320.3 953.78L320.19 954.8L320.19 915.19L320.19 915.71L320.18 916.93L320.17 918.65L320.16 920.64L320.15 922.68L320.14 924.6L320.12 926.29L320.1 927.74L320.07 928.96L320.05 929.99L320.02 930.9L319.98 931.74L319.95 932.55L319.91 933.34L319.87 934.14L319.83 934.95L319.78 935.77L319.73 936.61L319.68 937.47L319.62 938.35L319.56 939.25L319.5 940.16L319.44 941.08L319.37 942.03L319.31 942.98L319.23 943.95L319.16 944.94L319.08 945.94L319 946.95L318.92 947.98L318.83 949.02L318.74 950.07L318.65 951.14L318.56 952.22L318.46 953.31L318.36 954.41L318.26 955.52L318.15 956.65L318.04 957.78L317.93 958.93L317.93 915.69L317.93 916.23L317.93 917.5L317.92 919.26L317.91 921.3L317.9 923.39L317.88 925.37L317.86 927.13L317.84 928.64L317.82 929.93L317.79 931.04L317.76 932.03L317.73 932.95L317.69 933.83L317.65 934.71L317.61 935.59L317.57 936.49L317.52 937.41L317.47 938.34L317.42 939.3L317.37 940.28L317.31 941.27L317.25 942.28L317.18 943.31L317.12 944.36L317.05 945.42L316.98 946.5L316.9 947.59L316.83 948.7L316.75 949.83L316.66 950.97L316.58 952.12L316.49 953.29L316.4 954.48L316.3 955.67L316.2 956.88L316.1 958.11L316 959.35L315.89 960.6L315.79 961.86L315.67 963.13L315.67 916.19L315.67 916.76L315.67 918.06L315.66 919.87L315.65 921.97L315.64 924.12L315.62 926.17L315.61 928L315.58 929.58L315.56 930.95L315.53 932.14L315.5 933.21L315.47 934.22L315.44 935.19L315.4 936.16L315.36 937.14L315.31 938.14L315.27 939.15L315.22 940.19L315.17 941.25L315.11 942.33L315.05 943.43L314.99 944.55L314.93 945.69L314.86 946.85L314.79 948.03L314.72 949.23L314.65 950.44L314.57 951.68L314.49 952.92L314.41 954.19L314.32 955.47L314.23 956.77L314.14 958.08L314.05 959.41L313.95 960.75L313.85 962.11L313.74 963.48L313.64 964.86L313.53 966.26L313.42 967.68L313.42 916.69L313.42 917.29L313.41 918.65L313.41 920.52L313.4 922.69L313.38 924.92L313.37 927.05L313.35 928.97L313.33 930.65L313.3 932.12L313.28 933.41L313.25 934.59L313.22 935.71L313.18 936.8L313.14 937.89L313.1 938.99L313.06 940.11L313.01 941.25L312.96 942.42L312.91 943.62L312.86 944.83L312.8 946.08L312.74 947.34L312.67 948.62L312.61 949.93L312.54 951.26L312.47 952.61L312.39 953.98L312.31 955.36L312.23 956.77L312.15 958.19L312.06 959.64L311.98 961.1L311.88 962.58L311.79 964.07L311.69 965.59L311.59 967.11L311.49 968.66L311.38 970.22L311.27 971.8L311.16 973.39L311.16 917.19L311.16 917.83L311.16 919.24L311.15 921.18L311.14 923.43L311.13 925.74L311.11 927.97L311.09 929.98L311.07 931.77L311.05 933.34L311.02 934.75L310.99 936.05L310.96 937.29L310.93 938.51L310.89 939.73L310.85 940.96L310.8 942.22L310.76 943.5L310.71 944.82L310.65 946.16L310.6 947.52L310.54 948.92L310.48 950.34L310.42 951.78L310.35 953.25L310.28 954.74L310.21 956.25L310.14 957.79L310.06 959.35L309.98 960.92L309.89 962.52L309.81 964.15L309.72 965.79L309.63 967.45L309.53 969.12L309.44 970.82L309.34 972.54L309.23 974.27L309.13 976.03L309.02 977.8L308.91 979.59L308.91 917.7L308.91 918.37L308.9 919.85L308.89 921.87L308.88 924.21L308.87 926.63L308.86 928.96L308.84 931.09L308.82 933L308.79 934.7L308.77 936.25L308.74 937.69L308.7 939.07L308.67 940.43L308.63 941.81L308.59 943.2L308.55 944.62L308.5 946.07L308.45 947.55L308.4 949.07L308.34 950.61L308.29 952.18L308.23 953.79L308.16 955.42L308.1 957.07L308.03 958.76L307.95 960.47L307.88 962.2L307.8 963.96L307.72 965.74L307.64 967.55L307.55 969.38L307.46 971.23L307.37 973.11L307.28 975L307.18 976.92L307.08 978.86L306.98 980.82L306.87 982.8L306.76 984.8L306.65 986.81L306.65 918.3L306.65 919.03L306.65 920.58L306.64 922.7L306.63 925.14L306.62 927.67L306.6 930.13L306.58 932.39L306.56 934.44L306.54 936.29L306.51 937.99L306.48 939.58L306.45 941.13L306.41 942.67L306.38 944.21L306.33 945.79L306.29 947.39L306.24 949.03L306.19 950.71L306.14 952.42L306.09 954.16L306.03 955.94L305.97 957.75L305.91 959.59L305.84 961.46L305.77 963.37L305.7 965.3L305.62 967.26L305.55 969.25L305.47 971.26L305.38 973.3L305.3 975.37L305.21 977.46L305.12 979.58L305.02 981.73L304.92 983.89L304.82 986.08L304.72 988.3L304.62 990.53L304.51 992.79L304.4 995.07L304.4 918.91L304.39 919.69L304.39 921.32L304.38 923.54L304.37 926.09L304.36 928.75L304.35 931.33L304.33 933.74L304.31 935.94L304.28 937.95L304.25 939.81L304.23 941.57L304.19 943.3L304.16 945.02L304.12 946.75L304.08 948.51L304.03 950.32L303.99 952.16L303.94 954.04L303.89 955.96L303.83 957.92L303.77 959.92L303.71 961.95L303.65 964.02L303.58 966.13L303.51 968.26L303.44 970.43L303.37 972.64L303.29 974.87L303.21 977.13L303.13 979.43L303.04 981.75L302.95 984.1L302.86 986.48L302.77 988.89L302.67 991.32L302.57 993.79L302.47 996.27L302.36 998.79L302.25 1001.32L302.14 1003.89L302.14 919.52L302.14 920.36L302.13 922.09L302.13 924.43L302.12 927.12L302.1 929.93L302.09 932.68L302.07 935.26L302.05 937.64L302.03 939.84L302 941.9L301.97 943.88L301.94 945.82L301.9 947.76L301.86 949.72L301.82 951.72L301.78 953.77L301.73 955.86L301.68 957.99L301.63 960.17L301.58 962.4L301.52 964.66L301.46 966.97L301.39 969.32L301.33 971.71L301.26 974.13L301.19 976.6L301.11 979.1L301.03 981.63L300.95 984.2L300.87 986.8L300.79 989.44L300.7 992.11L300.6 994.81L300.51 997.54L300.41 1000.3L300.31 1003.09L300.21 1005.92L300.1 1008.77L300 1011.65L299.88 1014.56L299.88 920.13L299.88 921.04L299.88 922.88L299.87 925.35L299.86 928.19L299.85 931.16L299.83 934.09L299.82 936.87L299.79 939.45L299.77 941.86L299.74 944.14L299.71 946.34L299.68 948.52L299.65 950.71L299.61 952.92L299.57 955.18L299.52 957.49L299.48 959.85L299.43 962.26L299.38 964.73L299.32 967.24L299.26 969.8L299.2 972.41L299.14 975.07L299.07 977.77L299 980.51L298.93 983.29L298.86 986.11L298.78 988.98L298.7 991.88L298.62 994.82L298.53 997.8L298.44 1000.82L298.35 1003.87L298.25 1006.96L298.16 1010.08L298.06 1013.24L297.95 1016.43L297.85 1019.65L297.74 1022.9L297.63 1026.19L297.63 920.74L297.63 921.72L297.62 923.68L297.62 926.28L297.61 929.28L297.59 932.43L297.58 935.55L297.56 938.53L297.54 941.32L297.51 943.95L297.49 946.47L297.46 948.91L297.43 951.34L297.39 953.78L297.35 956.27L297.31 958.8L297.27 961.39L297.22 964.04L297.17 966.74L297.12 969.51L297.06 972.33L297.01 975.2L296.95 978.13L296.88 981.1L296.82 984.13L296.75 987.2L296.68 990.33L296.6 993.49L296.52 996.71L296.44 999.96L296.36 1003.26L296.27 1006.6L296.18 1009.99L296.09 1013.41L296 1016.87L295.9 1020.38L295.8 1023.92L295.7 1027.49L295.59 1031.11L295.48 1034.76L295.37 1038.45L295.37 921.35L295.37 922.42L295.37 924.52L295.36 927.3L295.35 930.49L295.34 933.86L295.32 937.21L295.3 940.43L295.28 943.49L295.26 946.39L295.23 949.19L295.2 951.94L295.17 954.67L295.13 957.43L295.1 960.24L295.06 963.11L295.01 966.04L294.97 969.05L294.92 972.11L294.86 975.25L294.81 978.44L294.75 981.7L294.69 985.01L294.63 988.39L294.56 991.82L294.49 995.3L294.42 998.84L294.34 1002.43L294.27 1006.08L294.19 1009.77L294.1 1013.51L294.02 1017.29L293.93 1021.13L293.84 1025.01L293.74 1028.93L293.65 1032.9L293.55 1036.92L293.44 1040.97L293.34 1045.07L293.23 1049.21L293.12 1053.39L293.12 921.96L293.12 923.12L293.11 925.35L293.1 928.3L293.09 931.69L293.08 935.27L293.07 938.85L293.05 942.32L293.03 945.64L293 948.82L292.98 951.9L292.95 954.94L292.91 957.98L292.88 961.05L292.84 964.18L292.8 967.39L292.76 970.66L292.71 974.01L292.66 977.44L292.61 980.94L292.55 984.5L292.49 988.14L292.43 991.84L292.37 995.61L292.3 999.44L292.24 1003.33L292.16 1007.28L292.09 1011.29L292.01 1015.36L291.93 1019.48L291.85 1023.66L291.76 1027.89L291.67 1032.17L291.58 1036.5L291.49 1040.88L291.39 1045.32L291.29 1049.8L291.19 1054.32L291.08 1058.9L290.97 1063.52L290.86 1068.19L290.86 923.27L290.86 924.52L290.86 926.91L290.85 930.05L290.84 933.65L290.83 937.46L290.81 941.3L290.79 945.04L290.77 948.64L290.75 952.12L290.72 955.51L290.69 958.88L290.66 962.25L290.62 965.67L290.58 969.16L290.54 972.73L290.5 976.38L290.45 980.12L290.4 983.94L290.35 987.84L290.3 991.82L290.24 995.87L290.18 1000L290.12 1004.2L290.05 1008.47L289.98 1012.81L289.91 1017.22L289.83 1021.69L289.76 1026.22L289.68 1030.82L289.59 1035.47L289.51 1040.19L289.42 1044.96L289.33 1049.79L289.23 1054.68L289.13 1059.62L289.03 1064.62L288.93 1069.67L288.82 1074.77L288.72 1079.92L288.61 1085.12L288.61 924.44L288.6 925.79L288.6 928.34L288.59 931.68L288.58 935.5L288.57 939.56L288.55 943.66L288.54 947.69L288.51 951.59L288.49 955.38L288.46 959.1L288.43 962.8L288.4 966.53L288.37 970.32L288.33 974.18L288.29 978.13L288.24 982.18L288.2 986.32L288.15 990.55L288.1 994.87L288.04 999.28L287.98 1003.78L287.92 1008.35L287.86 1013.01L287.79 1017.74L287.72 1022.55L287.65 1027.43L287.58 1032.38L287.5 1037.41L287.42 1042.5L287.34 1047.66L287.25 1052.88L287.16 1058.17L287.07 1063.53L286.98 1068.94L286.88 1074.42L286.78 1079.96L286.67 1085.55L286.57 1091.2L286.46 1096.91L286.35 1102.68L286.35 925.54L286.35 927L286.34 929.72L286.34 933.26L286.33 937.32L286.31 941.64L286.3 946.02L286.28 950.34L286.26 954.56L286.23 958.68L286.21 962.74L286.18 966.8L286.15 970.9L286.11 975.07L286.07 979.32L286.03 983.68L285.99 988.14L285.94 992.71L285.89 997.37L285.84 1002.14L285.79 1007L285.73 1011.95L285.67 1016.99L285.6 1022.13L285.54 1027.34L285.47 1032.65L285.4 1038.03L285.32 1043.49L285.24 1049.03L285.16 1054.64L285.08 1060.33L284.99 1066.09L284.91 1071.93L284.81 1077.83L284.72 1083.8L284.62 1089.84L284.52 1095.94L284.42 1102.11L284.31 1108.34L284.2 1114.63L284.09 1120.99L284.09 927.2L284.09 928.76L284.09 931.66L284.08 935.41L284.07 939.71L284.06 944.29L284.04 948.96L284.02 953.58L284 958.12L283.98 962.58L283.95 967L283.92 971.42L283.89 975.9L283.86 980.46L283.82 985.12L283.78 989.89L283.73 994.77L283.69 999.77L283.64 1004.88L283.58 1010.1L283.53 1015.42L283.47 1020.85L283.41 1026.37L283.35 1031.99L283.28 1037.71L283.21 1043.51L283.14 1049.41L283.07 1055.39L282.99 1061.45L282.91 1067.6L282.82 1073.83L282.74 1080.14L282.65 1086.53L282.56 1092.99L282.46 1099.53L282.37 1106.15L282.27 1112.83L282.16 1119.59L282.06 1126.41L281.95 1133.3L281.84 1140.27L281.84 929.05L281.84 930.73L281.83 933.8L281.82 937.78L281.81 942.32L281.8 947.18L281.79 952.14L281.77 957.08L281.75 961.94L281.72 966.75L281.7 971.53L281.67 976.33L281.63 981.2L281.6 986.15L281.56 991.23L281.52 996.42L281.48 1001.74L281.43 1007.19L281.38 1012.75L281.33 1018.44L281.27 1024.23L281.21 1030.15L281.15 1036.16L281.09 1042.29L281.02 1048.51L280.95 1054.83L280.88 1061.26L280.81 1067.77L280.73 1074.38L280.65 1081.08L280.57 1087.86L280.48 1094.74L280.39 1101.7L280.3 1108.74L280.2 1115.86L280.11 1123.06L280.01 1130.34L279.9 1137.7L279.8 1145.14L279.69 1152.65L279.58 1160.23L279.58 931.95L279.57 933.61L279.57 936.66L279.57 940.61L279.56 945.13L279.55 949.96L279.53 954.88L279.52 959.79L279.5 964.62L279.48 969.39L279.46 974.13L279.43 978.89L279.4 983.71L279.37 988.62L279.34 993.65L279.3 998.8L279.27 1004.07L279.23 1009.46L279.18 1014.98L279.14 1020.61L279.09 1026.36L279.04 1032.22L278.99 1038.18L278.94 1044.25L278.88 1050.42L278.82 1056.68L278.76 1063.05L278.69 1069.5L278.63 1076.05L278.56 1082.69L278.49 1089.41L278.41 1096.23L278.34 1103.12L278.26 1110.1L278.18 1117.16L278.09 1124.29L278.01 1131.51L277.92 1138.8L277.83 1146.17L277.74 1153.61L277.64 1161.12L277.64 934.77L277.64 936.42L277.64 939.44L277.63 943.35L277.62 947.84L277.61 952.62L277.6 957.5L277.59 962.36L277.57 967.14L277.55 971.85L277.53 976.53L277.51 981.23L277.49 985.99L277.46 990.85L277.43 995.81L277.4 1000.89L277.37 1006.09L277.33 1011.42L277.29 1016.86L277.25 1022.43L277.21 1028.1L277.17 1033.88L277.12 1039.77L277.07 1045.75L277.02 1051.84L276.97 1058.03L276.91 1064.31L276.86 1070.68L276.8 1077.15L276.74 1083.7L276.67 1090.34L276.61 1097.06L276.54 1103.87L276.47 1110.76L276.4 1117.72L276.32 1124.77L276.25 1131.89L276.17 1139.09L276.09 1146.36L276.01 1153.71L275.92 1161.12L275.92 933.8" fill="none" stroke="#ff0000" stroke-width="6.6" stroke-linejoin="round" stroke-linecap="round" clip-path="url(#cc)"/>
<path d="M1135.35 1163H1196V746.5H1135.35Z" fill="none" stroke="#808080" stroke-width="4.4" stroke-dasharray="16.4 7.09"/>
<path d="M1194 1062.8L1197.6 1067.6L1215.2 1086.9L1232.7 1102.8L1250.3 1113.3L1267.9 1118L1285.5 1118.6L1303.1 1122.1L1320.7 1126.5L1338.2 1129.7L1355.8 1131.4L1391 1133.5L1426.2 1133.9L1461.3 1134.4L1480 1134.7L1497.6 1134.9L1515.2 1135.7L1532.7 1137.8L1550.3 1138.7L1585.5 1139.6L1620.7 1139.9L1655.8 1140.3L1691 1140.4L1708.6 1140.4L1726.2 1140.4L1743.7 1140.4L1752.5 1140.4L1760.1 1141L1760.1 1147.7L1752.5 1146.7L1743.7 1145.7L1726.2 1144.7L1708.6 1143.7L1691 1142.7L1655.8 1142.7L1620.7 1142.7L1585.5 1142.7L1550.3 1142.7L1532.7 1142.7L1515.2 1141.7L1497.6 1139.7L1480 1138.7L1461.3 1137.7L1426.2 1136.7L1391 1136.7L1355.8 1136.7L1338.2 1135.7L1320.7 1133.7L1303.1 1130.7L1285.5 1126.7L1267.9 1123.7L1250.3 1118.1L1232.7 1109.3L1215.2 1096.2L1197.6 1077.7L1194 1073.7Z" fill="#0000ff" stroke="#0000ff" stroke-width="6.6" stroke-linejoin="round" clip-path="url(#cd)"/>
<path d="M1198.99 1075.45L1198.98 1075.28L1198.98 1075.08L1198.97 1074.83L1198.96 1074.53L1198.95 1074.2L1198.94 1073.87L1198.93 1073.54L1198.91 1073.23L1198.89 1072.94L1198.87 1072.68L1198.85 1072.45L1198.82 1072.24L1198.8 1072.05L1198.77 1071.89L1198.74 1071.74L1198.7 1071.59L1198.67 1071.45L1198.63 1071.32L1198.6 1071.18L1198.56 1071.05L1198.51 1070.91L1198.47 1070.76L1198.42 1070.61L1198.37 1070.46L1198.32 1070.31L1198.27 1070.15L1198.22 1069.98L1198.16 1069.81L1198.1 1069.64L1198.04 1069.46L1197.98 1069.28L1197.92 1069.1L1197.85 1068.91L1197.78 1068.72L1197.71 1068.53L1197.64 1068.34L1197.57 1068.14L1197.49 1067.94L1197.42 1067.74L1197.34 1067.53L1197.25 1067.33L1197.17 1067.12L1197.09 1066.91L1197 1066.71L1196.91 1066.5L1196.82 1066.29L1196.72 1066.08L1196.63 1065.86L1196.53 1065.65L1196.53 1073.45L1196.53 1073.28L1196.52 1073.07L1196.52 1072.8L1196.51 1072.49L1196.5 1072.15L1196.48 1071.8L1196.47 1071.46L1196.45 1071.14L1196.43 1070.84L1196.41 1070.57L1196.39 1070.32L1196.36 1070.11L1196.34 1069.92L1196.31 1069.74L1196.28 1069.59L1196.25 1069.44L1196.21 1069.29L1196.18 1069.15L1196.14 1069.01L1196.1 1068.87L1196.06 1068.72L1196.01 1068.57L1195.96 1068.42L1195.92 1068.26L1195.87 1068.1L1195.81 1067.93L1195.76 1067.76L1195.7 1067.58L1195.65 1067.4L1195.59 1067.22L1195.52 1067.03L1195.46 1066.84L1195.39 1066.65L1195.33 1066.45L1195.26 1066.25L1195.18 1066.05L1195.11 1065.84L1195.04 1065.63L1194.96 1065.42L1194.88 1065.21L1194.8 1065L1194.71 1064.78L1194.63 1064.57L1194.54 1064.35L1194.45 1064.13L1194.36 1063.91L1194.27 1063.69L1194.17 1063.47L1194.07 1063.25L1194.07 1071.35L1194.07 1071.17L1194.06 1070.96L1194.06 1070.69L1194.05 1070.36L1194.04 1070.02L1194.02 1069.66L1194.01 1069.31L1193.99 1068.97L1193.97 1068.66L1193.95 1068.38L1193.93 1068.13L1193.91 1067.91L1193.88 1067.71L1193.85 1067.54L1193.82 1067.37L1193.79 1067.22L1193.75 1067.07L1193.72 1066.93L1193.68 1066.78L1193.64 1066.63L1193.6 1066.48L1193.55 1066.33L1193.51 1066.17L1193.46 1066.01L1193.41 1065.84L1193.36 1065.67L1193.3 1065.49L1193.25 1065.31L1193.19 1065.13L1193.13 1064.94L1193.07 1064.74L1193 1064.55L1192.94 1064.35L1192.87 1064.14L1192.8 1063.94L1192.73 1063.73L1192.65 1063.52L1192.58 1063.3L1192.5 1063.09L1192.42 1062.87L1192.34 1062.65L1192.26 1062.43L1192.17 1062.21L1192.08 1061.98L1191.99 1061.76L1191.9 1061.53L1191.81 1061.31L1191.71 1061.08L1191.62 1060.86L1191.62 1069.35L1191.61 1069.15L1191.61 1068.92L1191.6 1068.62L1191.59 1068.26L1191.58 1067.88L1191.57 1067.48L1191.55 1067.09L1191.54 1066.72L1191.52 1066.38L1191.5 1066.07L1191.47 1065.8L1191.45 1065.55L1191.42 1065.33L1191.39 1065.14L1191.36 1064.96L1191.33 1064.79L1191.3 1064.62L1191.26 1064.46L1191.22 1064.3L1191.18 1064.14L1191.14 1063.98L1191.1 1063.8L1191.05 1063.63L1191 1063.45L1190.95 1063.26L1190.9 1063.07L1190.84 1062.88L1190.79 1062.68L1190.73 1062.48L1190.67 1062.27L1190.61 1062.05L1190.54 1061.84L1190.48 1061.62L1190.41 1061.39L1190.34 1061.16L1190.27 1060.93L1190.2 1060.7L1190.12 1060.46L1190.04 1060.22L1189.96 1059.98L1189.88 1059.74L1189.8 1059.5L1189.71 1059.25L1189.62 1059L1189.54 1058.76L1189.44 1058.51L1189.35 1058.26L1189.25 1058.01L1189.16 1057.76L1189.16 1066.85L1189.15 1066.63L1189.15 1066.37L1189.14 1066.02L1189.13 1065.62L1189.12 1065.19L1189.11 1064.74L1189.09 1064.3L1189.08 1063.88L1189.06 1063.5L1189.04 1063.15L1189.02 1062.84L1188.99 1062.56L1188.96 1062.32L1188.94 1062.09L1188.91 1061.89L1188.87 1061.7L1188.84 1061.52L1188.8 1061.33L1188.76 1061.15L1188.72 1060.97L1188.68 1060.78L1188.64 1060.59L1188.59 1060.39L1188.54 1060.19L1188.49 1059.98L1188.44 1059.76L1188.39 1059.54L1188.33 1059.32L1188.27 1059.09L1188.21 1058.85L1188.15 1058.61L1188.09 1058.37L1188.02 1058.12L1187.95 1057.86L1187.88 1057.61L1187.81 1057.35L1187.74 1057.08L1187.66 1056.81L1187.58 1056.55L1187.5 1056.27L1187.42 1056L1187.34 1055.72L1187.25 1055.45L1187.17 1055.17L1187.08 1054.89L1186.99 1054.61L1186.89 1054.32L1186.8 1054.04L1186.7 1053.76L1186.7 1064.65L1186.7 1064.4L1186.69 1064.09L1186.68 1063.69L1186.68 1063.23L1186.66 1062.72L1186.65 1062.2L1186.64 1061.69L1186.62 1061.21L1186.6 1060.76L1186.58 1060.36L1186.56 1060L1186.53 1059.68L1186.51 1059.39L1186.48 1059.13L1186.45 1058.9L1186.42 1058.67L1186.38 1058.46L1186.34 1058.25L1186.31 1058.04L1186.27 1057.83L1186.22 1057.61L1186.18 1057.39L1186.13 1057.16L1186.09 1056.92L1186.04 1056.68L1185.98 1056.43L1185.93 1056.17L1185.87 1055.91L1185.81 1055.64L1185.75 1055.37L1185.69 1055.09L1185.63 1054.81L1185.56 1054.52L1185.5 1054.22L1185.43 1053.92L1185.35 1053.62L1185.28 1053.32L1185.2 1053.01L1185.13 1052.69L1185.05 1052.38L1184.97 1052.06L1184.88 1051.74L1184.8 1051.42L1184.71 1051.1L1184.62 1050.77L1184.53 1050.44L1184.43 1050.12L1184.34 1049.79L1184.24 1049.46L1184.24 1061.46L1184.24 1061.18L1184.23 1060.85L1184.23 1060.42L1184.22 1059.92L1184.21 1059.37L1184.19 1058.81L1184.18 1058.26L1184.16 1057.74L1184.14 1057.26L1184.12 1056.82L1184.1 1056.43L1184.08 1056.09L1184.05 1055.78L1184.02 1055.5L1183.99 1055.24L1183.96 1055L1183.92 1054.77L1183.89 1054.55L1183.85 1054.32L1183.81 1054.09L1183.77 1053.86L1183.72 1053.61L1183.68 1053.37L1183.63 1053.11L1183.58 1052.85L1183.53 1052.58L1183.47 1052.31L1183.42 1052.02L1183.36 1051.73L1183.3 1051.44L1183.24 1051.14L1183.17 1050.83L1183.11 1050.52L1183.04 1050.2L1182.97 1049.88L1182.9 1049.55L1182.82 1049.22L1182.75 1048.89L1182.67 1048.55L1182.59 1048.21L1182.51 1047.87L1182.42 1047.52L1182.34 1047.18L1182.25 1046.83L1182.16 1046.48L1182.07 1046.12L1181.98 1045.77L1181.88 1045.42L1181.78 1045.06L1181.78 1057.76L1181.78 1057.46L1181.78 1057.11L1181.77 1056.65L1181.76 1056.11L1181.75 1055.53L1181.74 1054.94L1181.72 1054.35L1181.7 1053.79L1181.69 1053.28L1181.67 1052.81L1181.64 1052.4L1181.62 1052.03L1181.59 1051.7L1181.56 1051.4L1181.53 1051.13L1181.5 1050.87L1181.47 1050.63L1181.43 1050.39L1181.39 1050.14L1181.35 1049.9L1181.31 1049.65L1181.26 1049.39L1181.22 1049.13L1181.17 1048.85L1181.12 1048.58L1181.07 1048.29L1181.01 1047.99L1180.96 1047.69L1180.9 1047.38L1180.84 1047.07L1180.78 1046.75L1180.71 1046.42L1180.65 1046.09L1180.58 1045.75L1180.51 1045.41L1180.44 1045.06L1180.36 1044.7L1180.29 1044.35L1180.21 1043.99L1180.13 1043.63L1180.05 1043.26L1179.97 1042.89L1179.88 1042.52L1179.79 1042.15L1179.7 1041.77L1179.61 1041.4L1179.52 1041.02L1179.42 1040.64L1179.33 1040.27L1179.33 1054.46L1179.32 1054.12L1179.32 1053.72L1179.31 1053.19L1179.3 1052.58L1179.29 1051.92L1179.28 1051.24L1179.26 1050.56L1179.25 1049.93L1179.23 1049.34L1179.21 1048.81L1179.18 1048.33L1179.16 1047.91L1179.13 1047.53L1179.11 1047.2L1179.07 1046.88L1179.04 1046.59L1179.01 1046.31L1178.97 1046.03L1178.93 1045.76L1178.89 1045.48L1178.85 1045.19L1178.81 1044.9L1178.76 1044.6L1178.71 1044.28L1178.66 1043.97L1178.61 1043.64L1178.56 1043.3L1178.5 1042.96L1178.44 1042.6L1178.38 1042.24L1178.32 1041.88L1178.26 1041.5L1178.19 1041.12L1178.12 1040.73L1178.05 1040.34L1177.98 1039.94L1177.91 1039.54L1177.83 1039.13L1177.75 1038.72L1177.67 1038.31L1177.59 1037.89L1177.51 1037.47L1177.42 1037.05L1177.34 1036.62L1177.25 1036.19L1177.15 1035.76L1177.06 1035.33L1176.97 1034.9L1176.87 1034.47L1176.87 1046.66L1176.86 1046.32L1176.86 1045.92L1176.85 1045.4L1176.84 1044.79L1176.83 1044.12L1176.82 1043.44L1176.81 1042.77L1176.79 1042.13L1176.77 1041.54L1176.75 1041.01L1176.73 1040.54L1176.7 1040.11L1176.68 1039.74L1176.65 1039.4L1176.62 1039.09L1176.58 1038.8L1176.55 1038.51L1176.51 1038.24L1176.48 1037.96L1176.44 1037.68L1176.39 1037.39L1176.35 1037.1L1176.3 1036.8L1176.25 1036.49L1176.2 1036.17L1176.15 1035.84L1176.1 1035.51L1176.04 1035.16L1175.98 1034.81L1175.92 1034.45L1175.86 1034.08L1175.8 1033.71L1175.73 1033.33L1175.66 1032.94L1175.59 1032.55L1175.52 1032.15L1175.45 1031.75L1175.37 1031.34L1175.3 1030.93L1175.22 1030.51L1175.13 1030.09L1175.05 1029.67L1174.97 1029.25L1174.88 1028.82L1174.79 1028.4L1174.7 1027.97L1174.6 1027.54L1174.51 1027.11L1174.41 1026.67L1174.41 1042.67L1174.41 1042.23L1174.4 1041.7L1174.4 1041.03L1174.39 1040.23L1174.38 1039.37L1174.36 1038.49L1174.35 1037.62L1174.33 1036.8L1174.31 1036.03L1174.29 1035.35L1174.27 1034.73L1174.24 1034.18L1174.22 1033.7L1174.19 1033.26L1174.16 1032.86L1174.13 1032.48L1174.09 1032.11L1174.06 1031.75L1174.02 1031.4L1173.98 1031.03L1173.93 1030.66L1173.89 1030.28L1173.84 1029.89L1173.8 1029.49L1173.75 1029.08L1173.69 1028.65L1173.64 1028.22L1173.58 1027.77L1173.53 1027.31L1173.47 1026.85L1173.4 1026.37L1173.34 1025.89L1173.27 1025.39L1173.21 1024.89L1173.14 1024.38L1173.06 1023.87L1172.99 1023.35L1172.92 1022.82L1172.84 1022.29L1172.76 1021.75L1172.68 1021.21L1172.59 1020.66L1172.51 1020.11L1172.42 1019.56L1172.33 1019.01L1172.24 1018.45L1172.15 1017.9L1172.05 1017.34L1171.95 1016.78L1171.95 1036.77L1171.95 1036.23L1171.94 1035.58L1171.94 1034.73L1171.93 1033.71L1171.92 1032.59L1171.9 1031.4L1171.89 1030.21L1171.87 1029.04L1171.85 1027.94L1171.83 1026.91L1171.81 1025.97L1171.79 1025.13L1171.76 1024.37L1171.73 1023.69L1171.7 1023.08L1171.67 1022.52L1171.63 1022L1171.6 1021.51L1171.56 1021.04L1171.52 1020.57L1171.48 1020.11L1171.43 1019.64L1171.39 1019.17L1171.34 1018.68L1171.29 1018.19L1171.24 1017.69L1171.18 1017.17L1171.13 1016.65L1171.07 1016.11L1171.01 1015.57L1170.95 1015.01L1170.88 1014.44L1170.82 1013.87L1170.75 1013.28L1170.68 1012.69L1170.61 1012.1L1170.53 1011.49L1170.46 1010.88L1170.38 1010.27L1170.3 1009.65L1170.22 1009.03L1170.14 1008.4L1170.05 1007.77L1169.96 1007.14L1169.87 1006.51L1169.78 1005.88L1169.69 1005.25L1169.59 1004.62L1169.5 1003.99L1169.5 1027.87L1169.49 1027.7L1169.49 1027.21L1169.49 1026.41L1169.48 1025.34L1169.47 1024.06L1169.46 1022.62L1169.45 1021.08L1169.43 1019.49L1169.42 1017.91L1169.4 1016.37L1169.38 1014.92L1169.35 1013.57L1169.33 1012.33L1169.3 1011.21L1169.27 1010.2L1169.24 1009.28L1169.21 1008.46L1169.18 1007.71L1169.14 1007.02L1169.1 1006.37L1169.06 1005.76L1169.02 1005.16L1168.98 1004.57L1168.93 1003.99L1168.88 1003.41L1168.83 1002.82L1168.78 1002.23L1168.72 1001.62L1168.67 1001.01L1168.61 1000.39L1168.55 999.75L1168.49 999.11L1168.42 998.46L1168.36 997.8L1168.29 997.13L1168.22 996.46L1168.15 995.77L1168.08 995.09L1168 994.39L1167.92 993.7L1167.84 993L1167.76 992.3L1167.68 991.6L1167.59 990.89L1167.5 990.19L1167.41 989.49L1167.32 988.79L1167.23 988.09L1167.13 987.39L1167.04 986.7L1167.04 1017.98L1167.04 1017.77L1167.03 1017.16L1167.03 1016.16L1167.02 1014.83L1167.01 1013.21L1167 1011.37L1166.99 1009.38L1166.97 1007.31L1166.96 1005.2L1166.94 1003.13L1166.92 1001.14L1166.9 999.25L1166.87 997.49L1166.84 995.87L1166.82 994.4L1166.79 993.07L1166.75 991.87L1166.72 990.79L1166.68 989.8L1166.64 988.89L1166.6 988.05L1166.56 987.26L1166.52 986.5L1166.47 985.76L1166.42 985.04L1166.37 984.33L1166.32 983.62L1166.27 982.9L1166.21 982.19L1166.15 981.46L1166.09 980.73L1166.03 979.99L1165.97 979.24L1165.9 978.49L1165.83 977.73L1165.76 976.97L1165.69 976.2L1165.62 975.43L1165.54 974.65L1165.46 973.87L1165.38 973.1L1165.3 972.32L1165.22 971.54L1165.13 970.77L1165.05 970L1164.96 969.23L1164.87 968.46L1164.77 967.7L1164.68 966.95L1164.58 966.21L1164.58 1002.49L1164.58 1002.24L1164.58 1001.53L1164.57 1000.36L1164.56 998.79L1164.56 996.87L1164.54 994.68L1164.53 992.27L1164.52 989.74L1164.5 987.14L1164.48 984.55L1164.46 982.02L1164.44 979.59L1164.41 977.3L1164.39 975.16L1164.36 973.2L1164.33 971.41L1164.3 969.79L1164.26 968.32L1164.22 967L1164.19 965.79L1164.15 964.69L1164.1 963.67L1164.06 962.72L1164.01 961.82L1163.97 960.96L1163.92 960.12L1163.86 959.31L1163.81 958.5L1163.75 957.7L1163.69 956.91L1163.63 956.12L1163.57 955.32L1163.51 954.52L1163.44 953.72L1163.38 952.92L1163.31 952.12L1163.23 951.31L1163.16 950.51L1163.08 949.7L1163.01 948.9L1162.93 948.11L1162.85 947.31L1162.76 946.52L1162.68 945.74L1162.59 944.97L1162.5 944.2L1162.41 943.44L1162.31 942.69L1162.22 941.95L1162.12 941.22L1162.12 986.5L1162.12 986.2L1162.12 985.31L1162.11 983.87L1162.11 981.92L1162.1 979.53L1162.09 976.77L1162.07 973.73L1162.06 970.5L1162.04 967.15L1162.02 963.78L1162 960.44L1161.98 957.2L1161.96 954.11L1161.93 951.2L1161.9 948.5L1161.87 946.01L1161.84 943.74L1161.8 941.68L1161.77 939.82L1161.73 938.13L1161.69 936.6L1161.65 935.2L1161.6 933.92L1161.56 932.73L1161.51 931.62L1161.46 930.57L1161.41 929.57L1161.35 928.6L1161.3 927.65L1161.24 926.73L1161.18 925.82L1161.12 924.92L1161.05 924.03L1160.99 923.15L1160.92 922.27L1160.85 921.4L1160.78 920.53L1160.7 919.68L1160.63 918.83L1160.55 917.98L1160.47 917.15L1160.39 916.33L1160.3 915.52L1160.22 914.72L1160.13 913.93L1160.04 913.16L1159.95 912.41L1159.86 911.67L1159.76 910.94L1159.66 910.24L1159.66 977.2L1159.66 976.82L1159.66 975.68L1159.66 973.83L1159.65 971.32L1159.64 968.22L1159.63 964.64L1159.62 960.65L1159.6 956.39L1159.58 951.94L1159.57 947.4L1159.55 942.88L1159.52 938.45L1159.5 934.18L1159.47 930.12L1159.44 926.3L1159.41 922.76L1159.38 919.51L1159.35 916.53L1159.31 913.83L1159.27 911.39L1159.23 909.18L1159.19 907.18L1159.14 905.37L1159.1 903.71L1159.05 902.2L1159 900.79L1158.95 899.48L1158.89 898.25L1158.84 897.08L1158.78 895.96L1158.72 894.88L1158.66 893.83L1158.59 892.81L1158.53 891.82L1158.46 890.85L1158.39 889.9L1158.32 888.97L1158.24 888.06L1158.17 887.18L1158.09 886.31L1158.01 885.46L1157.93 884.63L1157.85 883.83L1157.76 883.05L1157.67 882.29L1157.58 881.55L1157.49 880.84L1157.4 880.15L1157.3 879.49L1157.21 878.85L1157.21 961.81L1157.21 961.36L1157.2 960.04L1157.2 957.89L1157.19 954.97L1157.18 951.37L1157.17 947.2L1157.16 942.57L1157.14 937.61L1157.13 932.44L1157.11 927.17L1157.09 921.91L1157.06 916.76L1157.04 911.79L1157.01 907.07L1156.99 902.64L1156.95 898.52L1156.92 894.73L1156.89 891.28L1156.85 888.14L1156.81 885.29L1156.77 882.73L1156.73 880.4L1156.69 878.3L1156.64 876.37L1156.59 874.61L1156.54 872.98L1156.49 871.45L1156.44 870.02L1156.38 868.66L1156.32 867.35L1156.26 866.1L1156.2 864.88L1156.14 863.7L1156.07 862.55L1156 861.42L1155.93 860.32L1155.86 859.24L1155.79 858.18L1155.71 857.15L1155.63 856.14L1155.55 855.15L1155.47 854.19L1155.39 853.25L1155.3 852.34L1155.22 851.46L1155.13 850.61L1155.03 849.78L1154.94 848.98L1154.85 848.21L1154.75 847.47L1154.75 952.81L1154.75 952.29L1154.74 950.72L1154.74 948.17L1154.73 944.71L1154.72 940.44L1154.71 935.5L1154.7 930.01L1154.69 924.13L1154.67 918L1154.65 911.75L1154.63 905.52L1154.61 899.42L1154.58 893.53L1154.56 887.93L1154.53 882.68L1154.5 877.8L1154.46 873.31L1154.43 869.21L1154.39 865.49L1154.36 862.12L1154.31 859.08L1154.27 856.32L1154.23 853.82L1154.18 851.55L1154.13 849.46L1154.08 847.52L1154.03 845.72L1153.98 844.01L1153.92 842.4L1153.86 840.86L1153.8 839.37L1153.74 837.93L1153.68 836.52L1153.61 835.16L1153.54 833.82L1153.47 832.51L1153.4 831.23L1153.33 829.98L1153.25 828.75L1153.18 827.56L1153.1 826.39L1153.01 825.25L1152.93 824.14L1152.85 823.06L1152.76 822.02L1152.67 821L1152.58 820.02L1152.48 819.08L1152.39 818.17L1152.29 817.29L1152.29 944.62L1152.29 944.01L1152.29 942.21L1152.28 939.27L1152.27 935.28L1152.27 930.37L1152.26 924.67L1152.24 918.35L1152.23 911.58L1152.21 904.51L1152.19 897.32L1152.17 890.14L1152.15 883.11L1152.12 876.33L1152.1 869.88L1152.07 863.83L1152.04 858.21L1152.01 853.04L1151.97 848.31L1151.94 844.03L1151.9 840.15L1151.86 836.64L1151.81 833.47L1151.77 830.59L1151.72 827.97L1151.68 825.56L1151.63 823.33L1151.57 821.25L1151.52 819.29L1151.46 817.43L1151.41 815.65L1151.35 813.94L1151.28 812.28L1151.22 810.66L1151.15 809.09L1151.09 807.55L1151.02 806.04L1150.94 804.57L1150.87 803.12L1150.8 801.71L1150.72 800.33L1150.64 798.99L1150.56 797.67L1150.47 796.4L1150.39 795.16L1150.3 793.95L1150.21 792.78L1150.12 791.66L1150.03 790.57L1149.93 789.51L1149.83 788.5L1149.83 930.43L1149.83 929.76L1149.83 927.79L1149.83 924.58L1149.82 920.23L1149.81 914.86L1149.81 908.64L1149.8 901.74L1149.79 894.34L1149.77 886.62L1149.76 878.77L1149.74 870.93L1149.73 863.25L1149.71 855.84L1149.69 848.8L1149.66 842.19L1149.64 836.05L1149.62 830.4L1149.59 825.24L1149.56 820.56L1149.53 816.32L1149.5 812.49L1149.47 809.03L1149.44 805.89L1149.4 803.02L1149.37 800.39L1149.33 797.96L1149.29 795.68L1149.25 793.54L1149.2 791.51L1149.16 789.57L1149.11 787.7L1149.07 785.88L1149.02 784.12L1148.97 782.4L1148.92 780.72L1148.86 779.07L1148.81 777.46L1148.75 775.89L1148.69 774.35L1148.64 772.84L1148.58 771.37L1148.51 769.94L1148.45 768.54L1148.38 767.18L1148.32 765.87L1148.25 764.59L1148.18 763.36L1148.11 762.17L1148.04 761.02L1147.96 759.92L1147.56 763.92L1147.96 758.92L1147.96 904.44" fill="none" stroke="#0000ff" stroke-width="6.6" stroke-linejoin="round" stroke-linecap="butt" clip-path="url(#cd)"/>
<path d="M1194 1115.8L1197.6 1117.3L1215.2 1123.3L1232.7 1124.4L1250.3 1126.5L1267.9 1130L1285.5 1133.5L1303.1 1137.9L1320.7 1139.7L1338.2 1140.6L1355.8 1140.9L1391 1140.6L1426.2 1140.6L1461.3 1141.4L1480 1142.7L1497.6 1144L1515.2 1146.6L1532.7 1146.9L1550.3 1146.9L1585.5 1146.9L1620.7 1146.9L1655.8 1147.1L1691 1147.1L1708.6 1147.7L1726.2 1148.4L1743.7 1149.2L1752.5 1149.8L1760.1 1151L1760.1 1161.1L1752.5 1159.3L1743.7 1157.6L1726.2 1154.9L1708.6 1153.2L1691 1152L1655.8 1151.2L1620.7 1151.1L1585.5 1150.9L1550.3 1150.5L1532.7 1150.2L1515.2 1149.7L1497.6 1148.4L1480 1145.8L1461.3 1144.1L1426.2 1143.3L1391 1143.1L1355.8 1143.1L1338.2 1143.1L1320.7 1142.7L1303.1 1141L1285.5 1137.1L1267.9 1133.6L1250.3 1130.4L1232.7 1127.8L1215.2 1126.6L1197.6 1122.5L1194 1121.7Z" fill="#ff0000" stroke="#ff0000" stroke-width="6.6" stroke-linejoin="round" clip-path="url(#cd)"/>
<path d="M1147.67 884.4L1147.68 888.14L1147.68 898.21L1147.69 911.72L1147.7 925.46L1147.71 937.07L1147.73 945.64L1147.75 951.42L1147.77 955.23L1147.8 957.9L1147.83 960.06L1147.86 962.07L1147.9 964.1L1147.93 966.19L1147.98 968.38L1148.02 970.65L1148.07 973L1148.12 975.41L1148.17 977.87L1148.23 980.36L1148.29 982.88L1148.35 985.4L1148.42 987.93L1148.49 990.44L1148.56 992.93L1148.63 995.39L1148.71 997.81L1148.79 1000.18L1148.88 1002.49L1148.97 1004.73L1149.06 1006.91L1149.15 1009.01L1149.25 1011.03L1149.35 1012.96L1149.45 1014.81L1149.56 1016.58L1149.67 1018.25L1149.78 1019.84L1149.89 1021.34L1150.01 1022.75L1150.13 1024.08L1150.13 1013.08L1150.13 1013.5L1150.14 1014.23L1150.15 1015.22L1150.16 1016.41L1150.17 1017.75L1150.19 1019.17L1150.21 1020.62L1150.23 1022.06L1150.26 1023.45L1150.29 1024.76L1150.32 1025.98L1150.35 1027.09L1150.39 1028.11L1150.43 1029.04L1150.48 1029.9L1150.53 1030.69L1150.58 1031.44L1150.63 1032.16L1150.69 1032.85L1150.75 1033.52L1150.81 1034.19L1150.88 1034.85L1150.94 1035.52L1151.02 1036.18L1151.09 1036.85L1151.17 1037.52L1151.25 1038.19L1151.34 1038.87L1151.42 1039.55L1151.51 1040.24L1151.61 1040.94L1151.71 1041.63L1151.81 1042.34L1151.91 1043.04L1152.01 1043.75L1152.12 1044.47L1152.24 1045.18L1152.35 1045.91L1152.47 1046.63L1152.59 1047.36L1152.59 1038.27L1152.59 1038.54L1152.6 1039.05L1152.6 1039.76L1152.61 1040.63L1152.63 1041.61L1152.65 1042.66L1152.67 1043.73L1152.69 1044.79L1152.71 1045.8L1152.74 1046.74L1152.78 1047.6L1152.81 1048.38L1152.85 1049.07L1152.89 1049.69L1152.94 1050.25L1152.98 1050.75L1153.03 1051.21L1153.09 1051.64L1153.14 1052.05L1153.2 1052.45L1153.27 1052.84L1153.33 1053.22L1153.4 1053.6L1153.47 1053.98L1153.55 1054.36L1153.63 1054.74L1153.71 1055.13L1153.79 1055.51L1153.88 1055.9L1153.97 1056.3L1154.07 1056.69L1154.16 1057.09L1154.26 1057.49L1154.37 1057.89L1154.47 1058.3L1154.58 1058.7L1154.69 1059.11L1154.81 1059.53L1154.93 1059.94L1155.05 1060.36L1155.05 1054.41L1155.05 1054.6L1155.05 1054.95L1155.06 1055.43L1155.07 1056.02L1155.09 1056.69L1155.1 1057.39L1155.12 1058.12L1155.15 1058.83L1155.17 1059.52L1155.2 1060.16L1155.23 1060.75L1155.27 1061.28L1155.31 1061.76L1155.35 1062.19L1155.39 1062.58L1155.44 1062.94L1155.49 1063.27L1155.55 1063.58L1155.6 1063.87L1155.66 1064.16L1155.73 1064.44L1155.79 1064.72L1155.86 1065L1155.93 1065.28L1156.01 1065.56L1156.09 1065.84L1156.17 1066.12L1156.25 1066.4L1156.34 1066.69L1156.43 1066.98L1156.52 1067.27L1156.62 1067.56L1156.72 1067.85L1156.82 1068.15L1156.93 1068.44L1157.04 1068.74L1157.15 1069.04L1157.27 1069.34L1157.38 1069.65L1157.51 1069.95L1157.51 1063.85L1157.51 1064.17L1157.52 1064.54L1157.53 1065.02L1157.54 1065.57L1157.56 1066.18L1157.58 1066.81L1157.6 1067.43L1157.63 1068.02L1157.66 1068.57L1157.69 1069.08L1157.73 1069.53L1157.77 1069.94L1157.81 1070.29L1157.85 1070.62L1157.9 1070.91L1157.95 1071.18L1158 1071.43L1158.06 1071.68L1158.12 1071.92L1158.18 1072.16L1158.25 1072.41L1158.32 1072.65L1158.39 1072.91L1158.47 1073.16L1158.54 1073.43L1158.63 1073.7L1158.71 1073.98L1158.8 1074.26L1158.89 1074.56L1158.98 1074.86L1159.08 1075.16L1159.18 1075.47L1159.28 1075.79L1159.39 1076.12L1159.5 1076.45L1159.61 1076.79L1159.72 1077.14L1159.84 1077.49L1159.96 1077.85L1159.96 1072.05L1159.97 1072.35L1159.98 1072.69L1159.99 1073.14L1160 1073.66L1160.02 1074.23L1160.04 1074.81L1160.06 1075.39L1160.09 1075.94L1160.12 1076.46L1160.15 1076.92L1160.18 1077.34L1160.22 1077.7L1160.26 1078.03L1160.31 1078.32L1160.36 1078.58L1160.41 1078.81L1160.46 1079.04L1160.52 1079.25L1160.58 1079.46L1160.64 1079.66L1160.71 1079.87L1160.78 1080.08L1160.85 1080.29L1160.92 1080.51L1161 1080.74L1161.08 1080.97L1161.17 1081.21L1161.26 1081.45L1161.35 1081.7L1161.44 1081.95L1161.54 1082.21L1161.64 1082.48L1161.74 1082.75L1161.85 1083.03L1161.95 1083.31L1162.07 1083.6L1162.18 1083.89L1162.3 1084.19L1162.42 1084.49L1162.42 1078.95L1162.43 1079.23L1162.44 1079.55L1162.45 1079.97L1162.46 1080.47L1162.48 1081L1162.5 1081.55L1162.52 1082.1L1162.55 1082.62L1162.57 1083.1L1162.61 1083.53L1162.64 1083.91L1162.68 1084.25L1162.72 1084.55L1162.77 1084.81L1162.81 1085.04L1162.87 1085.25L1162.92 1085.45L1162.98 1085.63L1163.04 1085.81L1163.1 1085.99L1163.16 1086.17L1163.23 1086.35L1163.31 1086.54L1163.38 1086.73L1163.46 1086.92L1163.54 1087.12L1163.63 1087.32L1163.71 1087.53L1163.8 1087.74L1163.9 1087.96L1163.99 1088.18L1164.09 1088.41L1164.2 1088.64L1164.3 1088.88L1164.41 1089.12L1164.52 1089.37L1164.64 1089.62L1164.76 1089.88L1164.88 1090.14L1164.88 1085.54L1164.89 1085.77L1164.89 1086.04L1164.9 1086.39L1164.92 1086.8L1164.93 1087.24L1164.95 1087.7L1164.98 1088.15L1165 1088.58L1165.03 1088.97L1165.06 1089.33L1165.1 1089.65L1165.14 1089.93L1165.18 1090.17L1165.22 1090.39L1165.27 1090.58L1165.32 1090.75L1165.38 1090.91L1165.43 1091.06L1165.49 1091.21L1165.56 1091.35L1165.62 1091.5L1165.69 1091.65L1165.76 1091.8L1165.84 1091.95L1165.92 1092.11L1166 1092.27L1166.08 1092.44L1166.17 1092.61L1166.26 1092.78L1166.36 1092.96L1166.45 1093.14L1166.55 1093.33L1166.65 1093.52L1166.76 1093.71L1166.87 1093.91L1166.98 1094.11L1167.1 1094.31L1167.22 1094.52L1167.34 1094.74L1167.34 1090.14L1167.34 1090.37L1167.35 1090.65L1167.36 1091L1167.38 1091.41L1167.39 1091.85L1167.41 1092.31L1167.44 1092.77L1167.46 1093.2L1167.49 1093.6L1167.52 1093.96L1167.56 1094.29L1167.6 1094.57L1167.64 1094.82L1167.68 1095.04L1167.73 1095.24L1167.78 1095.42L1167.83 1095.58L1167.89 1095.74L1167.95 1095.9L1168.01 1096.05L1168.08 1096.21L1168.15 1096.36L1168.22 1096.52L1168.3 1096.69L1168.38 1096.85L1168.46 1097.02L1168.54 1097.2L1168.63 1097.38L1168.72 1097.56L1168.81 1097.75L1168.91 1097.94L1169.01 1098.14L1169.11 1098.34L1169.22 1098.55L1169.33 1098.76L1169.44 1098.97L1169.56 1099.19L1169.67 1099.41L1169.79 1099.63L1169.79 1095.04L1169.8 1095.27L1169.81 1095.54L1169.82 1095.88L1169.83 1096.29L1169.85 1096.73L1169.87 1097.18L1169.89 1097.62L1169.92 1098.05L1169.95 1098.44L1169.98 1098.79L1170.02 1099.11L1170.05 1099.38L1170.1 1099.62L1170.14 1099.82L1170.19 1100.01L1170.24 1100.17L1170.29 1100.33L1170.35 1100.47L1170.41 1100.61L1170.47 1100.75L1170.54 1100.89L1170.61 1101.03L1170.68 1101.17L1170.75 1101.31L1170.83 1101.46L1170.91 1101.61L1171 1101.77L1171.09 1101.93L1171.18 1102.09L1171.27 1102.26L1171.37 1102.43L1171.47 1102.61L1171.57 1102.78L1171.68 1102.97L1171.79 1103.15L1171.9 1103.34L1172.01 1103.53L1172.13 1103.73L1172.25 1103.93L1172.25 1099.33L1172.26 1099.56L1172.27 1099.82L1172.28 1100.16L1172.29 1100.56L1172.31 1100.99L1172.33 1101.43L1172.35 1101.87L1172.38 1102.28L1172.41 1102.66L1172.44 1103L1172.47 1103.3L1172.51 1103.56L1172.55 1103.78L1172.6 1103.97L1172.65 1104.14L1172.7 1104.28L1172.75 1104.42L1172.81 1104.54L1172.87 1104.66L1172.93 1104.78L1173 1104.9L1173.07 1105.01L1173.14 1105.13L1173.21 1105.25L1173.29 1105.37L1173.37 1105.5L1173.46 1105.63L1173.54 1105.76L1173.63 1105.9L1173.73 1106.04L1173.83 1106.18L1173.93 1106.33L1174.03 1106.47L1174.13 1106.63L1174.24 1106.78L1174.36 1106.94L1174.47 1107.1L1174.59 1107.26L1174.71 1107.43L1174.71 1102.83L1174.72 1103.06L1174.72 1103.32L1174.73 1103.65L1174.75 1104.04L1174.77 1104.47L1174.79 1104.91L1174.81 1105.34L1174.83 1105.74L1174.86 1106.11L1174.9 1106.44L1174.93 1106.73L1174.97 1106.98L1175.01 1107.19L1175.06 1107.37L1175.1 1107.53L1175.15 1107.67L1175.21 1107.79L1175.26 1107.9L1175.32 1108.01L1175.39 1108.11L1175.45 1108.21L1175.52 1108.31L1175.6 1108.42L1175.67 1108.52L1175.75 1108.63L1175.83 1108.74L1175.91 1108.86L1176 1108.97L1176.09 1109.09L1176.19 1109.21L1176.28 1109.34L1176.38 1109.46L1176.49 1109.59L1176.59 1109.73L1176.7 1109.86L1176.81 1110L1176.93 1110.14L1177.05 1110.28L1177.17 1110.43L1177.17 1105.83L1177.17 1106.05L1177.18 1106.31L1177.19 1106.64L1177.21 1107.02L1177.22 1107.44L1177.24 1107.87L1177.27 1108.29L1177.29 1108.69L1177.32 1109.05L1177.35 1109.38L1177.39 1109.65L1177.43 1109.89L1177.47 1110.09L1177.51 1110.26L1177.56 1110.4L1177.61 1110.52L1177.67 1110.63L1177.72 1110.73L1177.78 1110.82L1177.85 1110.91L1177.91 1110.99L1177.98 1111.08L1178.05 1111.17L1178.13 1111.25L1178.21 1111.34L1178.29 1111.43L1178.37 1111.53L1178.46 1111.62L1178.55 1111.72L1178.64 1111.82L1178.74 1111.92L1178.84 1112.03L1178.94 1112.14L1179.05 1112.25L1179.16 1112.36L1179.27 1112.47L1179.39 1112.59L1179.5 1112.71L1179.63 1112.83L1179.63 1108.23L1179.63 1108.45L1179.64 1108.7L1179.65 1109.03L1179.66 1109.41L1179.68 1109.83L1179.7 1110.25L1179.72 1110.67L1179.75 1111.06L1179.78 1111.41L1179.81 1111.73L1179.85 1112L1179.89 1112.23L1179.93 1112.42L1179.97 1112.58L1180.02 1112.72L1180.07 1112.83L1180.12 1112.93L1180.24 1113.1L1180.37 1113.25L1180.51 1113.4L1180.59 1113.47L1180.66 1113.55L1180.75 1113.63L1180.83 1113.71L1180.92 1113.79L1181.01 1113.88L1181.1 1113.96L1181.2 1114.05L1181.3 1114.14L1181.4 1114.23L1181.51 1114.33L1181.62 1114.42L1181.73 1114.52L1181.84 1114.62L1181.96 1114.72L1182.08 1114.83L1182.08 1110.23L1182.09 1110.45L1182.1 1110.7L1182.11 1111.03L1182.12 1111.41L1182.14 1111.82L1182.16 1112.25L1182.18 1112.66L1182.21 1113.05L1182.24 1113.4L1182.27 1113.72L1182.3 1113.99L1182.34 1114.22L1182.38 1114.41L1182.43 1114.56L1182.48 1114.69L1182.53 1114.81L1182.64 1114.99L1182.76 1115.14L1182.9 1115.28L1183.04 1115.43L1183.12 1115.5L1183.2 1115.58L1183.29 1115.65L1183.38 1115.73L1183.47 1115.81L1183.56 1115.9L1183.66 1115.98L1183.76 1116.07L1183.86 1116.16L1183.97 1116.25L1184.07 1116.34L1184.19 1116.43L1184.3 1116.53L1184.42 1116.63L1184.54 1116.73L1184.54 1112.13L1184.55 1112.34L1184.56 1112.59L1184.57 1112.92L1184.58 1113.3L1184.6 1113.7L1184.62 1114.12L1184.64 1114.53L1184.67 1114.92L1184.69 1115.27L1184.73 1115.57L1184.76 1115.83L1184.8 1116.05L1184.84 1116.24L1184.89 1116.39L1184.93 1116.51L1184.99 1116.61L1185.1 1116.77L1185.22 1116.9L1185.35 1117.02L1185.5 1117.14L1185.66 1117.27L1185.83 1117.4L1185.92 1117.47L1186.02 1117.54L1186.11 1117.61L1186.21 1117.68L1186.32 1117.75L1186.42 1117.83L1186.53 1117.9L1186.64 1117.98L1186.76 1118.06L1186.88 1118.14L1187 1118.22L1187 1113.63L1187.01 1113.84L1187.01 1114.09L1187.02 1114.41L1187.04 1114.79L1187.05 1115.19L1187.07 1115.61L1187.1 1116.01L1187.12 1116.39L1187.15 1116.74L1187.19 1117.04L1187.22 1117.29L1187.26 1117.51L1187.3 1117.69L1187.34 1117.83L1187.39 1117.95L1187.5 1118.12L1187.61 1118.25L1187.74 1118.36L1187.88 1118.46L1188.04 1118.56L1188.2 1118.67L1188.38 1118.78L1188.48 1118.84L1188.57 1118.9L1188.67 1118.96L1188.77 1119.02L1188.88 1119.09L1188.99 1119.15L1189.1 1119.22L1189.22 1119.29L1189.34 1119.35L1189.46 1119.42L1189.46 1114.83L1189.46 1115.04L1189.47 1115.28L1189.48 1115.61L1189.5 1115.98L1189.51 1116.38L1189.53 1116.8L1189.56 1117.2L1189.58 1117.58L1189.61 1117.92L1189.64 1118.21L1189.68 1118.47L1189.72 1118.68L1189.76 1118.85L1189.8 1118.99L1189.85 1119.1L1189.95 1119.27L1190.07 1119.39L1190.2 1119.48L1190.34 1119.57L1190.5 1119.66L1190.66 1119.76L1190.84 1119.86L1191.03 1119.96L1191.13 1120.02L1191.23 1120.07L1191.34 1120.13L1191.45 1120.18L1191.56 1120.24L1191.68 1120.3L1191.79 1120.36L1191.91 1120.42L1191.91 1115.83L1191.92 1116.04L1191.93 1116.28L1191.94 1116.6L1191.95 1116.98L1191.97 1117.38L1191.99 1117.8L1192.01 1118.2L1192.04 1118.58L1192.07 1118.92L1192.1 1119.21L1192.14 1119.47L1192.17 1119.68L1192.22 1119.85L1192.26 1119.99L1192.31 1120.1L1192.41 1120.27L1192.53 1120.38L1192.66 1120.48L1192.8 1120.57L1192.95 1120.66L1193.12 1120.76L1193.3 1120.86L1193.49 1120.96L1193.59 1121.02L1193.69 1121.07L1193.8 1121.13L1193.91 1121.18L1194.02 1121.24L1194.13 1121.3L1194.25 1121.36L1194.37 1121.42L1194.37 1116.83L1194.38 1117.04L1194.39 1117.28L1194.4 1117.6L1194.41 1117.98L1194.43 1118.38L1194.45 1118.79L1194.47 1119.19L1194.5 1119.57L1194.53 1119.91L1194.56 1120.2L1194.59 1120.45L1194.63 1120.66L1194.67 1120.83L1194.72 1120.97L1194.77 1121.08L1194.87 1121.24L1194.99 1121.35L1195.12 1121.45L1195.26 1121.53L1195.41 1121.62L1195.58 1121.7L1195.76 1121.8L1195.95 1121.89L1196.15 1121.99L1196.25 1122.05L1196.36 1122.1L1196.48 1122.15L1196.59 1122.21L1196.71 1122.26L1196.83 1122.32L1196.83 1117.72" fill="none" stroke="#ff0000" stroke-width="6.6" stroke-linejoin="round" stroke-linecap="butt" clip-path="url(#cd)"/>
<path d="M524.57 1472.3L524.58 1469.22L524.61 1463L524.66 1458.27L524.73 1456.13L524.82 1455.35L524.93 1454.93L525.06 1454.55L525.21 1454.16L525.38 1453.75L525.57 1453.34L525.77 1452.94L526 1452.55L526.25 1452.19L526.52 1451.85L526.81 1451.54L527.12 1451.25L527.45 1451L527.8 1450.77L528.16 1450.57L528.55 1450.4L528.96 1450.24L529.39 1450.11L529.84 1449.98L530.3 1449.87L530.79 1449.78L531.3 1449.68L531.83 1449.6L532.38 1449.51L532.94 1449.43L533.53 1449.35L534.14 1449.27L534.77 1449.19L535.41 1449.11L536.08 1449.03L536.77 1448.95L537.47 1448.86L538.2 1448.78L538.95 1448.69L539.71 1448.59L540.5 1448.5L540.5 1471.5L540.51 1468.48L540.54 1462.4L540.59 1457.76L540.66 1455.66L540.75 1454.9L540.86 1454.49L540.99 1454.12L541.14 1453.73L541.31 1453.33L541.5 1452.93L541.7 1452.54L541.93 1452.16L542.18 1451.8L542.45 1451.47L542.74 1451.16L543.05 1450.89L543.38 1450.64L543.73 1450.42L544.09 1450.22L544.48 1450.05L544.89 1449.9L545.32 1449.76L545.77 1449.64L546.23 1449.54L546.72 1449.44L547.23 1449.35L547.76 1449.26L548.31 1449.18L548.87 1449.1L549.46 1449.03L550.07 1448.95L550.7 1448.87L551.34 1448.79L552.01 1448.71L552.7 1448.63L553.4 1448.55L554.13 1448.46L554.88 1448.37L555.64 1448.28L556.43 1448.19L556.43 1470.74L556.44 1467.78L556.47 1461.81L556.52 1457.27L556.59 1455.21L556.68 1454.46L556.79 1454.06L556.92 1453.69L557.07 1453.31L557.24 1452.92L557.43 1452.53L557.63 1452.15L557.86 1451.77L558.11 1451.42L558.38 1451.1L558.67 1450.8L558.98 1450.52L559.31 1450.28L559.66 1450.06L560.02 1449.87L560.41 1449.7L560.82 1449.55L561.25 1449.42L561.7 1449.31L562.16 1449.2L562.65 1449.1L563.16 1449.02L563.69 1448.93L564.24 1448.85L564.8 1448.78L565.39 1448.7L566 1448.62L566.63 1448.55L567.27 1448.47L567.94 1448.39L568.63 1448.31L569.33 1448.23L570.06 1448.15L570.81 1448.06L571.57 1447.97L572.36 1447.88L572.36 1469.98L572.37 1467.08L572.4 1461.23L572.45 1456.77L572.52 1454.76L572.61 1454.02L572.72 1453.63L572.85 1453.27L573 1452.9L573.17 1452.51L573.36 1452.13L573.56 1451.75L573.79 1451.39L574.04 1451.04L574.31 1450.72L574.6 1450.43L574.91 1450.16L575.24 1449.92L575.59 1449.71L575.95 1449.52L576.34 1449.36L576.75 1449.21L577.18 1449.08L577.63 1448.97L578.09 1448.86L578.58 1448.77L579.09 1448.68L579.62 1448.6L580.17 1448.52L580.73 1448.45L581.32 1448.37L581.93 1448.3L582.56 1448.22L583.2 1448.15L583.87 1448.07L584.56 1447.99L585.26 1447.91L585.99 1447.83L586.74 1447.75L587.5 1447.66L588.29 1447.57L588.29 1469.22L588.3 1466.38L588.33 1460.64L588.38 1456.28L588.45 1454.3L588.54 1453.58L588.65 1453.19L588.78 1452.84L588.93 1452.48L589.1 1452.1L589.29 1451.73L589.49 1451.36L589.72 1451L589.97 1450.66L590.24 1450.35L590.53 1450.06L590.84 1449.8L591.17 1449.57L591.52 1449.36L591.88 1449.17L592.27 1449.01L592.68 1448.87L593.11 1448.74L593.56 1448.63L594.02 1448.53L594.51 1448.44L595.02 1448.35L595.55 1448.27L596.1 1448.2L596.66 1448.12L597.25 1448.05L597.86 1447.97L598.49 1447.9L599.13 1447.83L599.8 1447.75L600.49 1447.67L601.19 1447.6L601.92 1447.51L602.67 1447.43L603.43 1447.35L604.22 1447.26L604.22 1468.46L604.23 1465.68L604.26 1460.06L604.31 1455.78L604.38 1453.85L604.47 1453.14L604.58 1452.76L604.71 1452.42L604.86 1452.06L605.03 1451.7L605.22 1451.33L605.42 1450.96L605.65 1450.61L605.9 1450.28L606.17 1449.98L606.46 1449.69L606.77 1449.44L607.1 1449.21L607.45 1449L607.81 1448.82L608.2 1448.66L608.61 1448.52L609.04 1448.4L609.49 1448.29L609.95 1448.19L610.44 1448.1L610.95 1448.02L611.48 1447.94L612.03 1447.87L612.59 1447.79L613.18 1447.72L613.79 1447.65L614.42 1447.58L615.06 1447.51L615.73 1447.43L616.42 1447.36L617.12 1447.28L617.85 1447.2L618.6 1447.12L619.36 1447.04L620.15 1446.95L620.15 1467.7L620.16 1464.97L620.19 1459.47L620.24 1455.29L620.31 1453.39L620.4 1452.7L620.51 1452.33L620.64 1451.99L620.79 1451.65L620.96 1451.29L621.15 1450.92L621.35 1450.57L621.58 1450.23L621.83 1449.9L622.1 1449.6L622.39 1449.33L622.7 1449.08L623.03 1448.85L623.38 1448.65L623.74 1448.47L624.13 1448.32L624.54 1448.18L624.97 1448.06L625.42 1447.95L625.88 1447.86L626.37 1447.77L626.88 1447.69L627.41 1447.61L627.96 1447.54L628.52 1447.47L629.11 1447.4L629.72 1447.33L630.35 1447.25L630.99 1447.18L631.66 1447.11L632.35 1447.04L633.05 1446.96L633.78 1446.88L634.53 1446.8L635.29 1446.72L636.08 1446.64L636.08 1466.94L636.09 1464.27L636.12 1458.89L636.17 1454.79L636.24 1452.94L636.33 1452.26L636.44 1451.9L636.57 1451.57L636.72 1451.23L636.89 1450.88L637.08 1450.52L637.28 1450.18L637.51 1449.84L637.76 1449.52L638.03 1449.23L638.32 1448.96L638.63 1448.71L638.96 1448.49L639.31 1448.3L639.67 1448.12L640.06 1447.97L640.47 1447.84L640.9 1447.72L641.35 1447.61L641.81 1447.52L642.3 1447.43L642.81 1447.35L643.34 1447.28L643.89 1447.21L644.45 1447.14L645.04 1447.07L645.65 1447L646.28 1446.93L646.92 1446.86L647.59 1446.79L648.28 1446.72L648.98 1446.64L649.71 1446.57L650.46 1446.49L651.22 1446.41L652.01 1446.33L652.01 1466.18L652.02 1463.57L652.05 1458.31L652.1 1454.3L652.17 1452.48L652.26 1451.82L652.37 1451.47L652.5 1451.15L652.65 1450.81L652.82 1450.47L653.01 1450.12L653.21 1449.78L653.44 1449.45L653.69 1449.15L653.96 1448.86L654.25 1448.59L654.56 1448.35L654.89 1448.14L655.24 1447.94L655.6 1447.78L655.99 1447.63L656.4 1447.5L656.83 1447.38L657.28 1447.28L657.74 1447.18L658.23 1447.1L658.74 1447.02L659.27 1446.95L659.82 1446.88L660.38 1446.81L660.97 1446.74L661.58 1446.68L662.21 1446.61L662.85 1446.54L663.52 1446.47L664.21 1446.4L664.91 1446.33L665.64 1446.25L666.39 1446.18L667.15 1446.1L667.94 1446.02L667.94 1465.42L667.95 1462.87L667.98 1457.72L668.03 1453.8L668.1 1452.03L668.19 1451.38L668.3 1451.04L668.43 1450.72L668.58 1450.39L668.75 1450.06L668.94 1449.72L669.14 1449.39L669.37 1449.07L669.62 1448.77L669.89 1448.48L670.18 1448.22L670.49 1447.99L670.82 1447.78L671.17 1447.59L671.53 1447.43L671.92 1447.28L672.33 1447.15L672.76 1447.04L673.21 1446.94L673.67 1446.85L674.16 1446.77L674.67 1446.69L675.2 1446.62L675.75 1446.55L676.31 1446.48L676.9 1446.42L677.51 1446.35L678.14 1446.29L678.78 1446.22L679.45 1446.15L680.14 1446.08L680.84 1446.01L681.57 1445.94L682.32 1445.86L683.08 1445.79L683.87 1445.71L683.87 1464.66L683.88 1462.17L683.91 1457.14L683.96 1453.31L684.03 1451.58L684.12 1450.94L684.23 1450.6L684.36 1450.3L684.51 1449.98L684.68 1449.65L684.87 1449.32L685.07 1448.99L685.3 1448.68L685.55 1448.39L685.82 1448.11L686.11 1447.86L686.42 1447.63L686.75 1447.42L687.1 1447.24L687.46 1447.08L687.85 1446.94L688.26 1446.81L688.69 1446.7L689.14 1446.6L689.6 1446.51L690.09 1446.43L690.6 1446.36L691.13 1446.29L691.68 1446.22L692.24 1446.16L692.83 1446.09L693.44 1446.03L694.07 1445.96L694.71 1445.9L695.38 1445.83L696.07 1445.76L696.77 1445.69L697.5 1445.62L698.25 1445.55L699.01 1445.48L699.8 1445.4L699.8 1463.9L699.81 1461.47L699.84 1456.55L699.89 1452.82L699.96 1451.12L700.05 1450.5L700.16 1450.17L700.29 1449.87L700.44 1449.56L700.61 1449.24L700.8 1448.92L701 1448.6L701.23 1448.29L701.48 1448.01L701.75 1447.74L702.04 1447.49L702.35 1447.27L702.68 1447.06L703.03 1446.89L703.39 1446.73L703.78 1446.59L704.19 1446.47L704.62 1446.36L705.07 1446.26L705.53 1446.18L706.02 1446.1L706.53 1446.03L707.06 1445.96L707.61 1445.89L708.17 1445.83L708.76 1445.76L709.37 1445.7L710 1445.64L710.64 1445.58L711.31 1445.51L712 1445.44L712.7 1445.38L713.43 1445.31L714.18 1445.24L714.94 1445.16L715.73 1445.09L715.73 1463.14L715.74 1460.76L715.77 1455.97L715.82 1452.32L715.89 1450.67L715.98 1450.06L716.09 1449.74L716.22 1449.45L716.37 1449.14L716.54 1448.83L716.73 1448.52L716.93 1448.21L717.16 1447.91L717.41 1447.63L717.68 1447.36L717.97 1447.12L718.28 1446.9L718.61 1446.71L718.96 1446.53L719.32 1446.38L719.71 1446.24L720.12 1446.12L720.55 1446.02L721 1445.92L721.46 1445.84L721.95 1445.76L722.46 1445.69L722.99 1445.63L723.54 1445.56L724.1 1445.5L724.69 1445.44L725.3 1445.38L725.93 1445.32L726.57 1445.25L727.24 1445.19L727.93 1445.13L728.63 1445.06L729.36 1444.99L730.11 1444.92L730.87 1444.85L731.66 1444.78L731.66 1462.38L731.67 1460.06L731.7 1455.38L731.75 1451.83L731.82 1450.21L731.91 1449.62L732.02 1449.31L732.15 1449.02L732.3 1448.73L732.47 1448.42L732.66 1448.11L732.86 1447.81L733.09 1447.52L733.34 1447.25L733.61 1446.99L733.9 1446.75L734.21 1446.54L734.54 1446.35L734.89 1446.18L735.25 1446.03L735.64 1445.9L736.05 1445.78L736.48 1445.68L736.93 1445.59L737.39 1445.5L737.88 1445.43L738.39 1445.36L738.92 1445.3L739.47 1445.23L740.03 1445.17L740.62 1445.11L741.23 1445.05L741.86 1444.99L742.5 1444.93L743.17 1444.87L743.86 1444.81L744.56 1444.74L745.29 1444.68L746.04 1444.61L746.8 1444.54L747.59 1444.47L747.59 1461.62L747.6 1459.36L747.63 1454.8L747.68 1451.33L747.75 1449.76L747.84 1449.18L747.95 1448.88L748.08 1448.6L748.23 1448.31L748.4 1448.01L748.59 1447.71L748.79 1447.42L749.02 1447.13L749.27 1446.87L749.54 1446.62L749.83 1446.39L750.14 1446.18L750.47 1445.99L750.82 1445.83L751.18 1445.68L751.57 1445.55L751.98 1445.44L752.41 1445.34L752.86 1445.25L753.32 1445.17L753.81 1445.1L754.32 1445.03L754.85 1444.96L755.4 1444.9L755.96 1444.84L756.55 1444.79L757.16 1444.73L757.79 1444.67L758.43 1444.61L759.1 1444.55L759.79 1444.49L760.49 1444.43L761.22 1444.36L761.97 1444.3L762.73 1444.23L763.52 1444.16L763.52 1460.86L763.53 1458.66L763.56 1454.22L763.61 1450.84L763.68 1449.3L763.77 1448.74L763.88 1448.45L764.01 1448.18L764.16 1447.89L764.33 1447.6L764.52 1447.31L764.72 1447.02L764.95 1446.75L765.2 1446.49L765.47 1446.24L765.76 1446.02L766.07 1445.82L766.4 1445.64L766.75 1445.47L767.11 1445.33L767.5 1445.21L767.91 1445.1L768.34 1445L768.79 1444.91L769.25 1444.83L769.74 1444.76L770.25 1444.7L770.78 1444.63L771.33 1444.57L771.89 1444.52L772.48 1444.46L773.09 1444.4L773.72 1444.35L774.36 1444.29L775.03 1444.23L775.72 1444.17L776.42 1444.11L777.15 1444.05L777.9 1443.98L778.66 1443.92L779.45 1443.85L779.45 1460.1L779.46 1457.96L779.49 1453.63L779.54 1450.34L779.61 1448.85L779.7 1448.31L779.81 1448.01L779.94 1447.75L780.09 1447.48L780.26 1447.19L780.45 1446.91L780.65 1446.63L780.88 1446.36L781.13 1446.11L781.4 1445.87L781.69 1445.65L782 1445.46L782.33 1445.28L782.68 1445.12L783.04 1444.98L783.43 1444.86L783.84 1444.75L784.27 1444.66L784.72 1444.57L785.18 1444.5L785.67 1444.43L786.18 1444.36L786.71 1444.3L787.26 1444.25L787.82 1444.19L788.41 1444.13L789.02 1444.08L789.65 1444.02L790.29 1443.97L790.96 1443.91L791.65 1443.85L792.35 1443.79L793.08 1443.73L793.83 1443.67L794.59 1443.61L795.38 1443.54L795.38 1459.34L795.39 1457.25L795.42 1453.05L795.47 1449.85L795.54 1448.4L795.63 1447.87L795.74 1447.58L795.87 1447.33L796.02 1447.06L796.19 1446.78L796.38 1446.51L796.58 1446.24L796.81 1445.97L797.06 1445.73L797.33 1445.5L797.62 1445.29L797.93 1445.09L798.26 1444.92L798.61 1444.77L798.97 1444.63L799.36 1444.51L799.77 1444.41L800.2 1444.32L800.65 1444.23L801.11 1444.16L801.6 1444.09L802.11 1444.03L802.64 1443.97L803.19 1443.92L803.75 1443.86L804.34 1443.81L804.95 1443.75L805.58 1443.7L806.22 1443.65L806.89 1443.59L807.58 1443.53L808.28 1443.48L809.01 1443.42L809.76 1443.36L810.52 1443.29L811.31 1443.23L811.31 1458.58L811.32 1456.55L811.35 1452.46L811.4 1449.35L811.47 1447.94L811.56 1447.43L811.67 1447.15L811.8 1446.9L811.95 1446.64L812.12 1446.37L812.31 1446.11L812.51 1445.84L812.74 1445.59L812.99 1445.35L813.26 1445.12L813.55 1444.92L813.86 1444.73L814.19 1444.56L814.54 1444.42L814.9 1444.28L815.29 1444.17L815.7 1444.07L816.13 1443.98L816.58 1443.9L817.04 1443.82L817.53 1443.76L818.04 1443.7L818.57 1443.64L819.12 1443.59L819.68 1443.53L820.27 1443.48L820.88 1443.43L821.51 1443.38L822.15 1443.32L822.82 1443.27L823.51 1443.22L824.21 1443.16L824.94 1443.1L825.69 1443.04L826.45 1442.98L827.24 1442.92L827.24 1457.82L827.25 1455.85L827.28 1451.88L827.33 1448.86L827.4 1447.49L827.49 1446.99L827.6 1446.72L827.73 1446.48L827.88 1446.23L828.05 1445.97L828.24 1445.7L828.44 1445.45L828.67 1445.2L828.92 1444.97L829.19 1444.75L829.48 1444.55L829.79 1444.37L830.12 1444.21L830.47 1444.06L830.83 1443.93L831.22 1443.82L831.63 1443.72L832.06 1443.64L832.51 1443.56L832.97 1443.49L833.46 1443.42L833.97 1443.37L834.5 1443.31L835.05 1443.26L835.61 1443.21L836.2 1443.16L836.81 1443.1L837.44 1443.05L838.08 1443L838.75 1442.95L839.44 1442.9L840.14 1442.84L840.87 1442.79L841.62 1442.73L842.38 1442.67L843.17 1442.61L843.17 1457.06L843.18 1455.15L843.21 1451.29L843.26 1448.36L843.33 1447.03L843.42 1446.55L843.53 1446.29L843.66 1446.05L843.81 1445.81L843.98 1445.56L844.17 1445.3L844.37 1445.05L844.6 1444.81L844.85 1444.59L845.12 1444.38L845.41 1444.18L845.72 1444.01L846.05 1443.85L846.4 1443.71L846.76 1443.59L847.15 1443.48L847.56 1443.38L847.99 1443.3L848.44 1443.22L848.9 1443.15L849.39 1443.09L849.9 1443.03L850.43 1442.98L850.98 1442.93L851.54 1442.88L852.13 1442.83L852.74 1442.78L853.37 1442.73L854.01 1442.68L854.68 1442.63L855.37 1442.58L856.07 1442.53L856.8 1442.47L857.55 1442.42L858.31 1442.36L859.1 1442.3L859.1 1456.3L859.11 1454.45L859.14 1450.71L859.19 1447.87L859.26 1446.58L859.35 1446.11L859.46 1445.86L859.59 1445.63L859.74 1445.39L859.91 1445.15L860.1 1444.9L860.3 1444.66L860.53 1444.43L860.78 1444.21L861.05 1444L861.34 1443.82L861.65 1443.65L861.98 1443.49L862.33 1443.36L862.69 1443.24L863.08 1443.13L863.49 1443.04L863.92 1442.96L864.37 1442.88L864.83 1442.82L865.32 1442.76L865.83 1442.7L866.36 1442.65L866.91 1442.6L867.47 1442.55L868.06 1442.5L868.67 1442.46L869.3 1442.41L869.94 1442.36L870.61 1442.31L871.3 1442.26L872 1442.21L872.73 1442.16L873.48 1442.1L874.24 1442.05L875.03 1441.99L875.03 1455.54" fill="none" stroke="#0000ff" stroke-width="6.6" stroke-linejoin="round" stroke-linecap="butt" clip-path="url(#ce)"/>
<path d="M887.5 1459.8L887.49 1460.29L887.46 1461.63L887.41 1463.59L887.34 1465.87L887.25 1468.16L887.14 1470.22L887.01 1471.92L886.86 1473.2L886.69 1474.12L886.5 1474.73L886.3 1475.13L886.07 1475.39L885.82 1475.57L885.55 1475.71L885.26 1475.82L884.95 1475.92L884.62 1476.03L884.27 1476.13L883.91 1476.23L883.52 1476.34L883.11 1476.44L882.68 1476.55L882.23 1476.66L881.77 1476.78L881.28 1476.89L880.77 1477.01L880.24 1477.13L879.69 1477.25L879.13 1477.37L878.54 1477.49L877.93 1477.61L877.3 1477.74L876.66 1477.87L875.99 1478L875.3 1478.13L874.6 1478.26L873.87 1478.39L873.12 1478.53L872.36 1478.66L871.57 1478.8L871.57 1460.5L871.56 1460.99L871.53 1462.34L871.48 1464.31L871.41 1466.6L871.32 1468.9L871.21 1470.97L871.08 1472.68L870.93 1473.98L870.76 1474.91L870.57 1475.53L870.37 1475.95L870.14 1476.23L869.89 1476.42L869.62 1476.57L869.33 1476.7L869.02 1476.82L868.69 1476.94L868.34 1477.06L867.98 1477.18L867.59 1477.31L867.18 1477.43L866.75 1477.56L866.3 1477.69L865.84 1477.82L865.35 1477.96L864.84 1478.09L864.31 1478.23L863.76 1478.37L863.2 1478.52L862.61 1478.66L862 1478.81L861.37 1478.95L860.73 1479.1L860.06 1479.26L859.37 1479.41L858.67 1479.56L857.94 1479.72L857.19 1479.88L856.43 1480.04L855.64 1480.2L855.64 1461.2L855.63 1461.7L855.6 1463.05L855.55 1465.03L855.48 1467.34L855.39 1469.65L855.28 1471.74L855.15 1473.46L855 1474.78L854.83 1475.72L854.64 1476.37L854.44 1476.8L854.21 1477.1L853.96 1477.31L853.69 1477.48L853.4 1477.63L853.09 1477.78L852.76 1477.92L852.41 1478.06L852.05 1478.2L851.66 1478.35L851.25 1478.5L850.82 1478.65L850.37 1478.81L849.91 1478.97L849.42 1479.13L848.91 1479.29L848.38 1479.46L847.83 1479.62L847.27 1479.79L846.68 1479.97L846.07 1480.14L845.44 1480.32L844.8 1480.49L844.13 1480.67L843.44 1480.86L842.74 1481.04L842.01 1481.23L841.26 1481.42L840.5 1481.61L839.71 1481.8L839.71 1461.91L839.7 1462.42L839.67 1463.78L839.62 1465.77L839.55 1468.08L839.46 1470.41L839.35 1472.51L839.22 1474.25L839.07 1475.58L838.9 1476.54L838.71 1477.2L838.51 1477.65L838.28 1477.96L838.03 1478.19L837.76 1478.38L837.47 1478.55L837.16 1478.71L836.83 1478.87L836.48 1479.04L836.12 1479.2L835.73 1479.37L835.32 1479.54L834.89 1479.71L834.44 1479.89L833.98 1480.07L833.49 1480.25L832.98 1480.44L832.45 1480.63L831.9 1480.82L831.34 1481.01L830.75 1481.21L830.14 1481.41L829.51 1481.61L828.87 1481.81L828.2 1482.02L827.51 1482.23L826.81 1482.44L826.08 1482.65L825.33 1482.86L824.57 1483.08L823.78 1483.3L823.78 1462.63L823.77 1463.14L823.74 1464.51L823.69 1466.52L823.62 1468.84L823.53 1471.18L823.42 1473.3L823.29 1475.06L823.14 1476.41L822.97 1477.38L822.78 1478.07L822.58 1478.54L822.35 1478.87L822.1 1479.13L821.83 1479.34L821.54 1479.53L821.23 1479.72L820.9 1479.91L820.55 1480.09L820.19 1480.29L819.8 1480.48L819.39 1480.68L818.96 1480.88L818.51 1481.09L818.05 1481.3L817.56 1481.51L817.05 1481.72L816.52 1481.94L815.97 1482.17L815.41 1482.39L814.82 1482.62L814.21 1482.85L813.58 1483.08L812.94 1483.32L812.27 1483.56L811.58 1483.8L810.88 1484.05L810.15 1484.29L809.4 1484.54L808.64 1484.8L807.85 1485.05L807.85 1463.35L807.84 1463.86L807.81 1465.25L807.76 1467.26L807.69 1469.61L807.6 1471.97L807.49 1474.11L807.36 1475.88L807.21 1477.25L807.04 1478.26L806.85 1478.96L806.65 1479.46L806.42 1479.82L806.17 1480.1L805.9 1480.34L805.61 1480.57L805.3 1480.78L804.97 1481L804.62 1481.22L804.26 1481.44L803.87 1481.67L803.46 1481.9L803.03 1482.14L802.58 1482.38L802.12 1482.62L801.63 1482.87L801.12 1483.12L800.59 1483.38L800.04 1483.64L799.48 1483.9L798.89 1484.16L798.28 1484.43L797.65 1484.71L797.01 1484.98L796.34 1485.26L795.65 1485.54L794.95 1485.83L794.22 1486.12L793.47 1486.41L792.71 1486.7L791.92 1487L791.92 1464.06L791.91 1464.58L791.88 1465.98L791.83 1468.02L791.76 1470.38L791.67 1472.77L791.56 1474.93L791.43 1476.73L791.28 1478.13L791.11 1479.16L790.92 1479.9L790.72 1480.43L790.49 1480.82L790.24 1481.13L789.97 1481.41L789.68 1481.67L789.37 1481.92L789.04 1482.17L788.69 1482.43L788.33 1482.69L787.94 1482.96L787.53 1483.23L787.1 1483.5L786.65 1483.78L786.19 1484.07L785.7 1484.36L785.19 1484.66L784.66 1484.95L784.11 1485.26L783.55 1485.57L782.96 1485.88L782.35 1486.19L781.72 1486.51L781.08 1486.84L780.41 1487.16L779.72 1487.49L779.02 1487.83L778.29 1488.17L777.54 1488.51L776.78 1488.85L775.99 1489.2L775.99 1464.78L775.98 1465.31L775.95 1466.72L775.9 1468.78L775.83 1471.16L775.74 1473.57L775.63 1475.75L775.5 1477.58L775.35 1479.01L775.18 1480.07L774.99 1480.83L774.79 1481.39L774.56 1481.82L774.31 1482.16L774.04 1482.47L773.75 1482.76L773.44 1483.05L773.11 1483.34L772.76 1483.64L772.4 1483.94L772.01 1484.24L771.6 1484.55L771.17 1484.87L770.72 1485.19L770.26 1485.52L769.77 1485.85L769.26 1486.19L768.73 1486.53L768.18 1486.88L767.62 1487.23L767.03 1487.59L766.42 1487.95L765.79 1488.32L765.15 1488.69L764.48 1489.06L763.79 1489.44L763.09 1489.83L762.36 1490.21L761.61 1490.61L760.85 1491L760.06 1491.4L760.06 1465.49L760.05 1466.03L760.02 1467.46L759.97 1469.53L759.9 1471.94L759.81 1474.37L759.7 1476.58L759.57 1478.43L759.42 1479.88L759.25 1480.97L759.06 1481.77L758.86 1482.36L758.63 1482.81L758.38 1483.19L758.11 1483.54L757.82 1483.86L757.51 1484.19L757.18 1484.51L756.83 1484.84L756.47 1485.18L756.08 1485.53L755.67 1485.88L755.24 1486.24L754.79 1486.6L754.33 1486.97L753.84 1487.34L753.33 1487.72L752.8 1488.11L752.25 1488.5L751.69 1488.9L751.1 1489.3L750.49 1489.71L749.86 1490.13L749.22 1490.54L748.55 1490.97L747.86 1491.39L747.16 1491.83L746.43 1492.26L745.68 1492.7L744.92 1493.15L744.13 1493.6L744.13 1466.2L744.12 1466.76L744.09 1468.2L744.04 1470.3L743.97 1472.72L743.88 1475.18L743.77 1477.41L743.64 1479.3L743.49 1480.78L743.32 1481.9L743.13 1482.73L742.93 1483.35L742.7 1483.85L742.45 1484.27L742.18 1484.65L741.89 1485.01L741.58 1485.38L741.25 1485.75L740.9 1486.12L740.54 1486.5L740.15 1486.89L739.74 1487.29L739.31 1487.69L738.86 1488.1L738.4 1488.52L737.91 1488.94L737.4 1489.37L736.87 1489.81L736.32 1490.25L735.76 1490.7L735.17 1491.15L734.56 1491.61L733.93 1492.08L733.29 1492.55L732.62 1493.03L731.93 1493.51L731.23 1494L730.5 1494.49L729.75 1494.99L728.99 1495.49L728.2 1496L728.2 1466.92L728.19 1467.49L728.16 1468.95L728.11 1471.07L728.04 1473.53L727.95 1476.02L727.84 1478.29L727.71 1480.21L727.56 1481.73L727.39 1482.89L727.2 1483.77L727 1484.44L726.77 1484.98L726.52 1485.44L726.25 1485.88L725.96 1486.29L725.65 1486.71L725.32 1487.13L724.97 1487.56L724.61 1488L724.22 1488.44L723.81 1488.9L723.38 1489.36L722.93 1489.83L722.47 1490.31L721.98 1490.8L721.47 1491.29L720.94 1491.79L720.39 1492.3L719.83 1492.81L719.24 1493.34L718.63 1493.86L718 1494.4L717.36 1494.94L716.69 1495.49L716 1496.04L715.3 1496.6L714.57 1497.17L713.82 1497.74L713.06 1498.32L712.27 1498.9L712.27 1467.63L712.26 1468.22L712.23 1469.71L712.18 1471.85L712.11 1474.34L712.02 1476.86L711.91 1479.17L711.78 1481.13L711.63 1482.7L711.46 1483.9L711.27 1484.82L711.07 1485.54L710.84 1486.13L710.59 1486.64L710.32 1487.13L710.03 1487.6L709.72 1488.07L709.39 1488.55L709.04 1489.03L708.68 1489.53L708.29 1490.04L707.88 1490.55L707.45 1491.08L707 1491.61L706.54 1492.15L706.05 1492.71L705.54 1493.27L705.01 1493.83L704.46 1494.41L703.9 1495L703.31 1495.59L702.7 1496.19L702.07 1496.79L701.43 1497.41L700.76 1498.03L700.07 1498.66L699.37 1499.29L698.64 1499.93L697.89 1500.58L697.13 1501.24L696.34 1501.9L696.34 1468.35L696.33 1468.95L696.3 1470.46L696.25 1472.64L696.18 1475.16L696.09 1477.72L695.98 1480.07L695.85 1482.08L695.7 1483.69L695.53 1484.95L695.34 1485.92L695.14 1486.69L694.91 1487.33L694.66 1487.91L694.39 1488.45L694.1 1488.98L693.79 1489.52L693.46 1490.06L693.11 1490.61L692.75 1491.17L692.36 1491.75L691.95 1492.33L691.52 1492.93L691.07 1493.53L690.61 1494.15L690.12 1494.77L689.61 1495.41L689.08 1496.05L688.53 1496.71L687.97 1497.37L687.38 1498.04L686.77 1498.72L686.14 1499.41L685.5 1500.11L684.83 1500.81L684.14 1501.52L683.44 1502.24L682.71 1502.97L681.96 1503.71L681.2 1504.45L680.41 1505.2L680.41 1469.08L680.4 1469.69L680.37 1471.23L680.32 1473.44L680.25 1476L680.16 1478.6L680.05 1480.99L679.92 1483.04L679.77 1484.7L679.6 1486L679.41 1487.03L679.21 1487.85L678.98 1488.55L678.73 1489.18L678.46 1489.78L678.17 1490.37L677.86 1490.97L677.53 1491.58L677.18 1492.19L676.82 1492.82L676.43 1493.46L676.02 1494.12L675.59 1494.78L675.14 1495.46L674.68 1496.15L674.19 1496.85L673.68 1497.56L673.15 1498.28L672.6 1499.01L672.04 1499.75L671.45 1500.5L670.84 1501.26L670.21 1502.03L669.57 1502.81L668.9 1503.59L668.21 1504.39L667.51 1505.2L666.78 1506.01L666.03 1506.83L665.27 1507.66L664.48 1508.5L664.48 1469.81L664.47 1470.44L664.44 1472.01L664.39 1474.26L664.32 1476.86L664.23 1479.5L664.12 1481.94L663.99 1484.05L663.84 1485.76L663.67 1487.12L663.48 1488.21L663.28 1489.1L663.05 1489.86L662.8 1490.56L662.53 1491.23L662.24 1491.9L661.93 1492.57L661.6 1493.25L661.25 1493.94L660.89 1494.65L660.5 1495.37L660.09 1496.11L659.66 1496.86L659.21 1497.62L658.75 1498.39L658.26 1499.18L657.75 1499.98L657.22 1500.79L656.67 1501.61L656.11 1502.45L655.52 1503.29L654.91 1504.15L654.28 1505.01L653.64 1505.89L652.97 1506.78L652.28 1507.67L651.58 1508.58L650.85 1509.5L650.1 1510.42L649.34 1511.36L648.55 1512.3L648.55 1470.54L648.54 1471.19L648.51 1472.8L648.46 1475.09L648.39 1477.74L648.3 1480.44L648.19 1482.94L648.06 1485.11L647.91 1486.89L647.74 1488.32L647.55 1489.48L647.35 1490.44L647.12 1491.29L646.87 1492.07L646.6 1492.82L646.31 1493.57L646 1494.33L645.67 1495.1L645.32 1495.89L644.96 1496.69L644.57 1497.51L644.16 1498.34L643.73 1499.19L643.28 1500.06L642.82 1500.94L642.33 1501.83L641.82 1502.73L641.29 1503.65L640.74 1504.59L640.18 1505.53L639.59 1506.49L638.98 1507.46L638.35 1508.44L637.71 1509.43L637.04 1510.44L636.35 1511.46L635.65 1512.48L634.92 1513.52L634.17 1514.57L633.41 1515.63L632.62 1516.7L632.62 1471.27L632.61 1471.94L632.58 1473.59L632.53 1475.92L632.46 1478.62L632.37 1481.37L632.26 1483.94L632.13 1486.17L631.98 1488.02L631.81 1489.52L631.62 1490.75L631.42 1491.79L631.19 1492.71L630.94 1493.58L630.67 1494.41L630.38 1495.25L630.07 1496.1L629.74 1496.96L629.39 1497.84L629.03 1498.74L628.64 1499.65L628.23 1500.58L627.8 1501.53L627.35 1502.5L626.89 1503.48L626.4 1504.48L625.89 1505.49L625.36 1506.52L624.81 1507.56L624.25 1508.62L623.66 1509.69L623.05 1510.77L622.42 1511.87L621.78 1512.98L621.11 1514.1L620.42 1515.24L619.72 1516.39L618.99 1517.55L618.24 1518.72L617.48 1519.9L616.69 1521.1L616.69 1472L616.68 1472.69L616.65 1474.38L616.6 1476.75L616.53 1479.5L616.44 1482.31L616.33 1484.93L616.2 1487.23L616.05 1489.14L615.88 1490.72L615.69 1492.02L615.49 1493.14L615.26 1494.14L615.01 1495.08L614.74 1496.01L614.45 1496.93L614.14 1497.86L613.81 1498.82L613.46 1499.79L613.1 1500.78L612.71 1501.79L612.3 1502.82L611.87 1503.87L611.42 1504.94L610.96 1506.02L610.47 1507.12L609.96 1508.24L609.43 1509.38L608.88 1510.53L608.32 1511.7L607.73 1512.88L607.12 1514.08L606.49 1515.29L605.85 1516.52L605.18 1517.76L604.49 1519.02L603.79 1520.29L603.06 1521.57L602.31 1522.87L601.55 1524.18L600.76 1525.5L600.76 1472.72L600.75 1473.45L600.72 1475.18L600.67 1477.62L600.6 1480.43L600.51 1483.31L600.4 1486.01L600.27 1488.39L600.12 1490.39L599.95 1492.06L599.76 1493.45L599.56 1494.67L599.33 1495.77L599.08 1496.82L598.81 1497.86L598.52 1498.89L598.21 1499.94L597.88 1501.01L597.53 1502.1L597.17 1503.22L596.78 1504.35L596.37 1505.51L595.94 1506.69L595.49 1507.89L595.03 1509.11L594.54 1510.35L594.03 1511.61L593.5 1512.88L592.95 1514.18L592.39 1515.49L591.8 1516.82L591.19 1518.17L590.56 1519.53L589.92 1520.91L589.25 1522.31L588.56 1523.72L587.86 1525.14L587.13 1526.59L586.38 1528.04L585.62 1529.51L584.83 1531L584.83 1473.45L584.82 1474.21L584.79 1475.99L584.74 1478.49L584.67 1481.38L584.58 1484.34L584.47 1487.13L584.34 1489.59L584.19 1491.69L584.02 1493.46L583.83 1494.96L583.63 1496.29L583.4 1497.5L583.15 1498.67L582.88 1499.82L582.59 1500.98L582.28 1502.16L581.95 1503.36L581.6 1504.58L581.24 1505.83L580.85 1507.11L580.44 1508.41L580.01 1509.73L579.56 1511.07L579.1 1512.44L578.61 1513.83L578.1 1515.24L577.57 1516.68L577.02 1518.13L576.46 1519.6L575.87 1521.09L575.26 1522.6L574.63 1524.13L573.99 1525.68L573.32 1527.25L572.63 1528.83L571.93 1530.43L571.2 1532.05L570.45 1533.68L569.69 1535.33L568.9 1537L568.9 1474.18L568.89 1474.98L568.86 1476.81L568.81 1479.37L568.74 1482.33L568.65 1485.37L568.54 1488.25L568.41 1490.8L568.26 1493L568.09 1494.87L567.9 1496.48L567.7 1497.92L567.47 1499.25L567.22 1500.54L566.95 1501.81L566.66 1503.1L566.35 1504.4L566.02 1505.74L565.67 1507.1L565.31 1508.48L564.92 1509.9L564.51 1511.34L564.08 1512.81L563.63 1514.31L563.17 1515.83L562.68 1517.37L562.17 1518.94L561.64 1520.53L561.09 1522.14L560.53 1523.78L559.94 1525.43L559.33 1527.11L558.7 1528.81L558.06 1530.53L557.39 1532.27L556.7 1534.03L556 1535.8L555.27 1537.6L554.52 1539.42L553.76 1541.25L552.97 1543.1L552.97 1474.91L552.96 1475.74L552.93 1477.63L552.88 1480.27L552.81 1483.31L552.72 1486.44L552.61 1489.4L552.48 1492.06L552.33 1494.37L552.16 1496.35L551.97 1498.08L551.77 1499.64L551.54 1501.1L551.29 1502.51L551.02 1503.92L550.73 1505.34L550.42 1506.79L550.09 1508.27L549.74 1509.77L549.38 1511.31L548.99 1512.88L548.58 1514.48L548.15 1516.11L547.7 1517.77L547.24 1519.46L546.75 1521.17L546.24 1522.91L545.71 1524.67L545.16 1526.46L544.6 1528.27L544.01 1530.11L543.4 1531.97L542.77 1533.85L542.13 1535.76L541.46 1537.69L540.77 1539.64L540.07 1541.61L539.34 1543.6L538.59 1545.61L537.83 1547.65L537.04 1549.7L537.04 1475.64L537.03 1476.52L537 1478.48L536.95 1481.21L536.88 1484.35L536.79 1487.59L536.68 1490.69L536.55 1493.48L536.4 1495.92L536.23 1498.05L536.04 1499.93L535.84 1501.64L535.61 1503.26L535.36 1504.85L535.09 1506.43L534.8 1508.03L534.49 1509.66L534.16 1511.32L533.81 1513.02L533.45 1514.75L533.06 1516.52L532.65 1518.32L532.22 1520.16L531.77 1522.03L531.31 1523.93L530.82 1525.85L530.31 1527.81L529.78 1529.8L529.23 1531.82L528.67 1533.86L528.08 1535.93L527.47 1538.03L526.84 1540.15L526.2 1542.29L525.53 1544.47L524.84 1546.66L524.14 1548.88L523.41 1551.13L522.66 1553.4L521.9 1555.69L521.11 1558L521.11 1476.37L521.1 1477.3L521.07 1479.34L521.02 1482.17L520.95 1485.43L520.86 1488.79L520.75 1492.02L520.62 1494.95L520.47 1497.55L520.3 1499.83L520.11 1501.88L519.91 1503.76L519.68 1505.56L519.43 1507.33L519.16 1509.1L518.87 1510.89L518.56 1512.72L518.23 1514.59L517.88 1516.5L517.52 1518.44L517.13 1520.43L516.72 1522.45L516.29 1524.51L515.84 1526.61L515.38 1528.74L514.89 1530.91L514.38 1533.11L513.85 1535.34L513.3 1537.6L512.74 1539.89L512.15 1542.22L511.54 1544.57L510.91 1546.96L510.27 1549.37L509.6 1551.81L508.91 1554.27L508.21 1556.77L507.48 1559.29L506.73 1561.83L505.97 1564.4L505.18 1567L505.18 1477.1L505.17 1478.09L505.14 1480.23L505.09 1483.17L505.02 1486.56L504.93 1490.08L504.82 1493.46L504.69 1496.56L504.54 1499.34L504.37 1501.81L504.18 1504.05L503.98 1506.14L503.75 1508.15L503.5 1510.13L503.23 1512.12L502.94 1514.15L502.63 1516.21L502.3 1518.32L501.95 1520.47L501.59 1522.67L501.2 1524.91L500.79 1527.2L500.36 1529.52L499.91 1531.89L499.45 1534.3L498.96 1536.74L498.45 1539.23L497.92 1541.75L497.37 1544.3L496.81 1546.89L496.22 1549.52L495.61 1552.18L494.98 1554.87L494.34 1557.59L493.67 1560.34L492.98 1563.13L492.28 1565.94L491.55 1568.79L490.8 1571.66L490.04 1574.57L489.25 1577.5L489.25 1477.99L489.24 1479.04L489.21 1481.29L489.16 1484.37L489.09 1487.91L489 1491.59L488.89 1495.16L488.76 1498.45L488.61 1501.43L488.44 1504.11L488.25 1506.57L488.05 1508.89L487.82 1511.14L487.57 1513.37L487.3 1515.62L487.01 1517.9L486.7 1520.23L486.37 1522.62L486.02 1525.05L485.66 1527.53L485.27 1530.07L484.86 1532.65L484.43 1535.28L483.98 1537.96L483.52 1540.68L483.03 1543.44L482.52 1546.25L481.99 1549.09L481.44 1551.98L480.88 1554.91L480.29 1557.88L479.68 1560.88L479.05 1563.92L478.41 1567L477.74 1570.11L477.05 1573.26L476.35 1576.44L475.62 1579.66L474.87 1582.9L474.11 1586.19L473.32 1589.5L473.32 1478.87L473.31 1480L473.28 1482.37L473.23 1485.59L473.16 1489.29L473.07 1493.15L472.96 1496.91L472.83 1500.41L472.68 1503.61L472.51 1506.52L472.32 1509.22L472.12 1511.79L471.89 1514.29L471.64 1516.79L471.37 1519.3L471.08 1521.87L470.77 1524.49L470.44 1527.16L470.09 1529.89L469.73 1532.68L469.34 1535.53L468.93 1538.43L468.5 1541.39L468.05 1544.39L467.59 1547.45L467.1 1550.56L466.59 1553.71L466.06 1556.91L465.51 1560.15L464.95 1563.44L464.36 1566.77L463.75 1570.15L463.12 1573.56L462.48 1577.02L461.81 1580.52L461.12 1584.05L460.42 1587.63L459.69 1591.24L458.94 1594.89L458.18 1598.58L457.39 1602.3L457.39 1479.76L457.38 1480.98L457.35 1483.49L457.3 1486.88L457.23 1490.79L457.14 1494.87L457.03 1498.86L456.9 1502.62L456.75 1506.08L456.58 1509.27L456.39 1512.26L456.19 1515.13L455.96 1517.95L455.71 1520.77L455.44 1523.62L455.15 1526.53L454.84 1529.5L454.51 1532.53L454.16 1535.63L453.8 1538.8L453.41 1542.03L453 1545.33L452.57 1548.68L452.12 1552.09L451.66 1555.56L451.17 1559.08L450.66 1562.66L450.13 1566.29L449.58 1569.97L449.02 1573.7L448.43 1577.48L447.82 1581.31L447.19 1585.19L446.55 1589.11L445.88 1593.08L445.19 1597.09L444.49 1601.15L443.76 1605.25L443.01 1609.39L442.25 1613.58L441.46 1617.8L441.46 1480.64L441.45 1481.96L441.42 1484.63L441.37 1488.22L441.3 1492.34L441.21 1496.66L441.1 1500.92L440.97 1504.95L440.82 1508.7L440.65 1512.2L440.46 1515.51L440.26 1518.71L440.03 1521.88L439.78 1525.05L439.51 1528.27L439.22 1531.55L438.91 1534.91L438.58 1538.34L438.23 1541.84L437.87 1545.42L437.48 1549.07L437.07 1552.79L436.64 1556.58L436.19 1560.44L435.73 1564.36L435.24 1568.34L434.73 1572.38L434.2 1576.48L433.65 1580.64L433.09 1584.86L432.5 1589.14L431.89 1593.46L431.26 1597.84L430.62 1602.28L429.95 1606.76L429.26 1611.3L428.56 1615.88L427.83 1620.52L427.08 1625.2L426.32 1629.93L425.53 1634.7L425.53 1481.53L425.52 1482.95L425.49 1485.79L425.44 1489.58L425.37 1493.93L425.28 1498.51L425.17 1503.04L425.04 1507.36L424.89 1511.42L424.72 1515.24L424.53 1518.89L424.33 1522.45L424.1 1525.97L423.85 1529.52L423.58 1533.13L423.29 1536.81L422.98 1540.57L422.65 1544.41L422.3 1548.35L421.94 1552.36L421.55 1556.46L421.14 1560.63L420.71 1564.88L420.26 1569.2L419.8 1573.6L419.31 1578.07L418.8 1582.6L418.27 1587.2L417.72 1591.87L417.16 1596.6L416.57 1601.39L415.96 1606.25L415.33 1611.16L414.69 1616.13L414.02 1621.16L413.33 1626.25L412.63 1631.39L411.9 1636.59L411.15 1641.84L410.39 1647.14L409.6 1652.5L409.6 1482.41L409.59 1483.96L409.56 1487.01L409.51 1491.05L409.44 1495.69L409.35 1500.57L409.24 1505.44L409.11 1510.12L408.96 1514.57L408.79 1518.79L408.6 1522.85L408.4 1526.84L408.17 1530.81L407.92 1534.82L407.65 1538.9L407.36 1543.07L407.05 1547.33L406.72 1551.69L406.37 1556.15L406.01 1560.7L405.62 1565.34L405.21 1570.07L404.78 1574.89L404.33 1579.79L403.87 1584.77L403.38 1589.83L402.87 1594.97L402.34 1600.19L401.79 1605.48L401.23 1610.84L400.64 1616.27L400.03 1621.78L399.4 1627.34L398.76 1632.98L398.09 1638.68L397.4 1644.45L396.7 1650.28L395.97 1656.17L395.22 1662.12L394.46 1668.13L393.67 1674.2L393.67 1483.3L393.66 1484.98L393.63 1488.22L393.58 1492.51L393.51 1497.43L393.42 1502.63L393.31 1507.83L393.18 1512.87L393.03 1517.69L392.86 1522.3L392.67 1526.78L392.47 1531.2L392.24 1535.61L391.99 1540.08L391.72 1544.63L391.43 1549.28L391.12 1554.04L390.79 1558.91L390.44 1563.88L390.08 1568.96L389.69 1574.14L389.28 1579.43L388.85 1584.81L388.4 1590.28L387.94 1595.84L387.45 1601.5L386.94 1607.24L386.41 1613.06L385.86 1618.97L385.3 1624.95L384.71 1631.02L384.1 1637.16L383.47 1643.38L382.83 1649.67L382.16 1656.04L381.47 1662.48L380.77 1668.99L380.04 1675.56L379.29 1682.21L378.53 1688.92L377.74 1695.7L377.74 1485.2L377.73 1487.02L377.7 1490.49L377.65 1495.05L377.58 1500.28L377.49 1505.82L377.38 1511.39L377.25 1516.82L377.1 1522.05L376.93 1527.1L376.74 1532.03L376.54 1536.92L376.31 1541.82L376.06 1546.79L375.79 1551.86L375.5 1557.04L375.19 1562.35L374.86 1567.77L374.51 1573.32L374.15 1578.99L373.76 1584.77L373.35 1590.66L372.92 1596.65L372.47 1602.76L372.01 1608.96L371.52 1615.26L371.01 1621.66L370.48 1628.16L369.93 1634.74L369.37 1641.42L368.78 1648.18L368.17 1655.03L367.54 1661.96L366.9 1668.98L366.23 1676.08L365.54 1683.26L364.84 1690.52L364.11 1697.85L363.36 1705.26L362.6 1712.74L361.81 1720.3L361.81 1486.9L361.8 1488.86L361.77 1492.57L361.72 1497.41L361.65 1502.97L361.56 1508.87L361.45 1514.82L361.32 1520.67L361.17 1526.33L361 1531.84L360.81 1537.25L360.61 1542.62L360.38 1548.04L360.13 1553.54L359.86 1559.15L359.57 1564.89L359.26 1570.77L358.93 1576.78L358.58 1582.93L358.22 1589.21L357.83 1595.61L357.42 1602.14L356.99 1608.78L356.54 1615.55L356.08 1622.42L355.59 1629.4L355.08 1636.5L354.55 1643.69L354 1650.99L353.44 1658.39L352.85 1665.88L352.24 1673.47L351.61 1681.16L350.97 1688.93L350.3 1696.8L349.61 1704.75L348.91 1712.8L348.18 1720.92L347.43 1729.13L346.67 1737.43L345.88 1745.8L345.88 1488.5L345.87 1490.62L345.84 1494.57L345.79 1499.71L345.72 1505.61L345.63 1511.88L345.52 1518.25L345.39 1524.52L345.24 1530.65L345.07 1536.63L344.88 1542.54L344.68 1548.43L344.45 1554.39L344.2 1560.44L343.93 1566.62L343.64 1572.95L343.33 1579.43L343 1586.06L342.65 1592.83L342.29 1599.76L341.9 1606.82L341.49 1614.01L341.06 1621.34L340.61 1628.79L340.15 1636.37L339.66 1644.07L339.15 1651.89L338.62 1659.83L338.07 1667.87L337.51 1676.03L336.92 1684.29L336.31 1692.66L335.68 1701.13L335.04 1709.7L334.37 1718.38L333.68 1727.15L332.98 1736.01L332.25 1744.97L331.5 1754.02L330.74 1763.17L329.95 1772.4L329.95 1490.9L329.94 1493.17L329.91 1497.38L329.86 1502.83L329.79 1509.08L329.7 1515.74L329.59 1522.51L329.46 1529.23L329.31 1535.82L329.14 1542.3L328.95 1548.72L328.75 1555.14L328.52 1561.65L328.27 1568.27L328 1575.03L327.71 1581.96L327.4 1589.06L327.07 1596.32L326.72 1603.74L326.36 1611.32L325.97 1619.05L325.56 1626.93L325.13 1634.96L324.68 1643.12L324.22 1651.42L323.73 1659.86L323.22 1668.42L322.69 1677.11L322.14 1685.92L321.58 1694.85L320.99 1703.9L320.38 1713.07L319.75 1722.35L319.11 1731.74L318.44 1741.23L317.75 1750.84L317.05 1760.55L316.32 1770.36L315.57 1780.27L314.81 1790.29L314.02 1800.4L314.02 1493.6L314.01 1496.04L313.98 1500.5L313.93 1506.27L313.86 1512.88L313.77 1519.93L313.66 1527.13L313.53 1534.3L313.38 1541.38L313.21 1548.36L313.02 1555.3L312.81 1562.27L312.58 1569.34L312.33 1576.54L312.06 1583.91L311.77 1591.46L311.46 1599.18L311.14 1607.09L310.79 1615.18L310.42 1623.43L310.03 1631.86L309.62 1640.44L309.19 1649.18L308.74 1658.08L308.27 1667.12L307.78 1676.31L307.27 1685.63L306.74 1695.1L306.19 1704.7L305.63 1714.43L305.04 1724.28L304.43 1734.27L303.8 1744.38L303.15 1754.6L302.48 1764.95L301.79 1775.41L301.08 1785.99L300.36 1796.68L299.61 1807.48L298.84 1818.39L298.05 1829.4L298.05 1497.8L298.04 1500.22L298.02 1504.65L297.97 1510.39L297.91 1516.95L297.84 1523.96L297.74 1531.12L297.63 1538.24L297.5 1545.26L297.36 1552.19L297.2 1559.07L297.02 1565.98L296.82 1572.99L296.61 1580.13L296.38 1587.43L296.13 1594.91L295.86 1602.57L295.58 1610.4L295.28 1618.41L294.97 1626.6L294.63 1634.94L294.28 1643.45L293.91 1652.11L293.53 1660.93L293.13 1669.89L292.71 1678.99L292.27 1688.23L291.82 1697.61L291.35 1707.12L290.86 1716.77L290.36 1726.53L289.84 1736.43L289.3 1746.44L288.75 1756.58L288.17 1766.83L287.58 1777.2L286.98 1787.68L286.35 1798.27L285.71 1808.98L285.05 1819.78L284.38 1830.7L284.38 1501.9L284.37 1504.29L284.35 1508.69L284.31 1514.37L284.26 1520.88L284.19 1527.83L284.11 1534.92L284.01 1541.97L283.89 1548.92L283.77 1555.76L283.62 1562.57L283.46 1569.39L283.29 1576.31L283.1 1583.36L282.89 1590.57L282.67 1597.95L282.44 1605.51L282.19 1613.24L281.92 1621.15L281.64 1629.23L281.35 1637.47L281.03 1645.87L280.71 1654.42L280.37 1663.12L280.01 1671.96L279.64 1680.95L279.25 1690.07L278.85 1699.33L278.43 1708.72L278 1718.24L277.55 1727.88L277.09 1737.64L276.61 1747.53L276.12 1757.54L275.61 1767.66L275.09 1777.89L274.55 1788.24L273.99 1798.69L273.42 1809.26L272.84 1819.93L272.24 1830.7L272.24 1500.5" fill="none" stroke="#ff0000" stroke-width="6.6" stroke-linejoin="round" stroke-linecap="round" clip-path="url(#ce)"/>
<path d="M1822 1754L1821.99 1753.96L1821.96 1753.83L1821.9 1753.64L1821.83 1753.38L1821.73 1753.08L1821.61 1752.75L1821.46 1752.42L1821.3 1752.09L1821.11 1751.78L1820.91 1751.49L1820.68 1751.23L1820.43 1751L1820.15 1750.79L1819.86 1750.61L1819.54 1750.44L1819.2 1750.29L1818.84 1750.14L1818.46 1750.01L1818.05 1749.87L1817.63 1749.73L1817.18 1749.6L1816.71 1749.46L1816.22 1749.31L1815.7 1749.16L1815.17 1749.01L1814.61 1748.86L1814.03 1748.69L1813.43 1748.53L1812.81 1748.36L1812.16 1748.19L1811.49 1748.01L1810.81 1747.83L1810.1 1747.65L1809.36 1747.46L1808.61 1747.27L1807.83 1747.08L1807.03 1746.88L1806.21 1746.69L1805.37 1746.49L1804.51 1746.29L1803.62 1746.08L1802.72 1745.88L1801.79 1745.67L1800.84 1745.46L1799.86 1745.25L1798.87 1745.04L1797.85 1744.83L1796.81 1744.62L1795.75 1744.41L1794.67 1744.2L1794.67 1752L1794.66 1751.96L1794.63 1751.83L1794.57 1751.62L1794.5 1751.35L1794.4 1751.04L1794.28 1750.7L1794.13 1750.36L1793.97 1750.01L1793.78 1749.69L1793.58 1749.39L1793.35 1749.12L1793.1 1748.87L1792.82 1748.66L1792.53 1748.47L1792.21 1748.29L1791.87 1748.14L1791.51 1747.99L1791.13 1747.84L1790.72 1747.7L1790.3 1747.56L1789.85 1747.42L1789.38 1747.27L1788.89 1747.12L1788.37 1746.97L1787.84 1746.81L1787.28 1746.65L1786.7 1746.48L1786.1 1746.31L1785.48 1746.13L1784.83 1745.95L1784.16 1745.77L1783.48 1745.58L1782.77 1745.39L1782.03 1745.19L1781.28 1745L1780.5 1744.8L1779.7 1744.59L1778.88 1744.39L1778.04 1744.18L1777.18 1743.97L1776.29 1743.76L1775.39 1743.55L1774.46 1743.33L1773.51 1743.11L1772.53 1742.9L1771.54 1742.68L1770.52 1742.46L1769.48 1742.24L1768.42 1742.02L1767.34 1741.8L1767.34 1749.9L1767.33 1749.85L1767.3 1749.72L1767.24 1749.51L1767.17 1749.24L1767.07 1748.91L1766.95 1748.57L1766.8 1748.21L1766.64 1747.85L1766.45 1747.52L1766.25 1747.21L1766.02 1746.93L1765.77 1746.68L1765.49 1746.46L1765.2 1746.26L1764.88 1746.08L1764.54 1745.92L1764.18 1745.77L1763.8 1745.62L1763.39 1745.47L1762.97 1745.33L1762.52 1745.18L1762.05 1745.03L1761.56 1744.88L1761.04 1744.72L1760.51 1744.56L1759.95 1744.39L1759.37 1744.22L1758.77 1744.04L1758.15 1743.86L1757.5 1743.67L1756.83 1743.48L1756.15 1743.29L1755.44 1743.09L1754.7 1742.89L1753.95 1742.69L1753.17 1742.48L1752.37 1742.28L1751.55 1742.06L1750.71 1741.85L1749.85 1741.63L1748.96 1741.42L1748.06 1741.2L1747.13 1740.98L1746.18 1740.75L1745.2 1740.53L1744.21 1740.3L1743.19 1740.08L1742.15 1739.85L1741.09 1739.63L1740.01 1739.4L1740.01 1747.9L1740 1747.85L1739.97 1747.7L1739.91 1747.47L1739.84 1747.17L1739.74 1746.81L1739.62 1746.43L1739.47 1746.03L1739.31 1745.64L1739.12 1745.27L1738.92 1744.93L1738.69 1744.62L1738.44 1744.34L1738.16 1744.1L1737.87 1743.88L1737.55 1743.69L1737.21 1743.5L1736.85 1743.33L1736.47 1743.17L1736.06 1743.01L1735.64 1742.85L1735.19 1742.69L1734.72 1742.52L1734.23 1742.35L1733.71 1742.18L1733.18 1742L1732.62 1741.81L1732.04 1741.62L1731.44 1741.43L1730.82 1741.23L1730.17 1741.02L1729.5 1740.81L1728.82 1740.6L1728.11 1740.38L1727.37 1740.16L1726.62 1739.94L1725.84 1739.71L1725.04 1739.48L1724.22 1739.24L1723.38 1739.01L1722.52 1738.77L1721.63 1738.53L1720.73 1738.29L1719.8 1738.04L1718.85 1737.79L1717.87 1737.55L1716.88 1737.3L1715.86 1737.05L1714.82 1736.8L1713.76 1736.55L1712.68 1736.3L1712.68 1745.4L1712.67 1745.34L1712.64 1745.18L1712.58 1744.91L1712.51 1744.57L1712.41 1744.17L1712.29 1743.73L1712.14 1743.29L1711.98 1742.85L1711.79 1742.43L1711.59 1742.04L1711.36 1741.7L1711.11 1741.38L1710.83 1741.11L1710.54 1740.86L1710.22 1740.64L1709.88 1740.44L1709.52 1740.24L1709.14 1740.06L1708.73 1739.88L1708.31 1739.7L1707.86 1739.51L1707.39 1739.33L1706.9 1739.13L1706.38 1738.94L1705.85 1738.73L1705.29 1738.52L1704.71 1738.31L1704.11 1738.09L1703.49 1737.86L1702.84 1737.63L1702.17 1737.39L1701.49 1737.15L1700.78 1736.91L1700.04 1736.66L1699.29 1736.41L1698.51 1736.15L1697.71 1735.89L1696.89 1735.62L1696.05 1735.36L1695.19 1735.09L1694.3 1734.82L1693.4 1734.54L1692.47 1734.27L1691.52 1733.99L1690.54 1733.71L1689.55 1733.43L1688.53 1733.15L1687.49 1732.87L1686.43 1732.58L1685.35 1732.3L1685.35 1743.2L1685.34 1743.13L1685.31 1742.94L1685.25 1742.64L1685.18 1742.24L1685.08 1741.77L1684.96 1741.27L1684.81 1740.75L1684.65 1740.24L1684.46 1739.75L1684.26 1739.31L1684.03 1738.9L1683.78 1738.54L1683.5 1738.22L1683.21 1737.93L1682.89 1737.68L1682.55 1737.44L1682.19 1737.22L1681.81 1737L1681.4 1736.79L1680.98 1736.58L1680.53 1736.37L1680.06 1736.15L1679.57 1735.93L1679.05 1735.7L1678.52 1735.46L1677.96 1735.22L1677.38 1734.97L1676.78 1734.72L1676.16 1734.45L1675.51 1734.19L1674.84 1733.91L1674.16 1733.63L1673.45 1733.35L1672.71 1733.06L1671.96 1732.76L1671.18 1732.47L1670.38 1732.16L1669.56 1731.86L1668.72 1731.55L1667.86 1731.23L1666.97 1730.92L1666.07 1730.6L1665.14 1730.28L1664.19 1729.96L1663.21 1729.63L1662.22 1729.31L1661.2 1728.98L1660.16 1728.66L1659.1 1728.33L1658.02 1728L1658.02 1740L1658.01 1739.93L1657.98 1739.72L1657.92 1739.39L1657.85 1738.96L1657.75 1738.46L1657.63 1737.92L1657.48 1737.36L1657.32 1736.8L1657.13 1736.28L1656.93 1735.8L1656.7 1735.36L1656.45 1734.97L1656.17 1734.63L1655.88 1734.32L1655.56 1734.04L1655.22 1733.79L1654.86 1733.55L1654.48 1733.31L1654.07 1733.09L1653.65 1732.86L1653.2 1732.63L1652.73 1732.4L1652.24 1732.16L1651.72 1731.91L1651.19 1731.65L1650.63 1731.39L1650.05 1731.12L1649.45 1730.85L1648.83 1730.56L1648.18 1730.27L1647.51 1729.98L1646.83 1729.68L1646.12 1729.37L1645.38 1729.06L1644.63 1728.74L1643.85 1728.42L1643.05 1728.09L1642.23 1727.76L1641.39 1727.43L1640.53 1727.09L1639.64 1726.75L1638.74 1726.41L1637.81 1726.06L1636.86 1725.71L1635.88 1725.36L1634.89 1725.01L1633.87 1724.66L1632.83 1724.31L1631.77 1723.95L1630.69 1723.6L1630.69 1736.3L1630.68 1736.22L1630.65 1736L1630.59 1735.65L1630.52 1735.19L1630.42 1734.66L1630.3 1734.08L1630.15 1733.48L1629.99 1732.89L1629.8 1732.33L1629.6 1731.82L1629.37 1731.35L1629.12 1730.94L1628.84 1730.57L1628.55 1730.24L1628.23 1729.94L1627.89 1729.67L1627.53 1729.41L1627.15 1729.17L1626.74 1728.92L1626.32 1728.68L1625.87 1728.44L1625.4 1728.19L1624.91 1727.93L1624.39 1727.66L1623.86 1727.39L1623.3 1727.11L1622.72 1726.83L1622.12 1726.53L1621.5 1726.23L1620.85 1725.92L1620.18 1725.61L1619.5 1725.28L1618.79 1724.96L1618.05 1724.62L1617.3 1724.28L1616.52 1723.94L1615.72 1723.59L1614.9 1723.24L1614.06 1722.88L1613.2 1722.52L1612.31 1722.16L1611.41 1721.79L1610.48 1721.43L1609.53 1721.05L1608.55 1720.68L1607.56 1720.31L1606.54 1719.93L1605.5 1719.55L1604.44 1719.18L1603.36 1718.8L1603.36 1733L1603.35 1732.91L1603.32 1732.66L1603.26 1732.26L1603.19 1731.73L1603.09 1731.12L1602.97 1730.46L1602.82 1729.77L1602.66 1729.1L1602.47 1728.47L1602.27 1727.88L1602.04 1727.34L1601.79 1726.87L1601.51 1726.45L1601.22 1726.07L1600.9 1725.73L1600.56 1725.42L1600.2 1725.13L1599.82 1724.85L1599.41 1724.57L1598.99 1724.29L1598.54 1724.01L1598.07 1723.73L1597.58 1723.43L1597.06 1723.13L1596.53 1722.82L1595.97 1722.5L1595.39 1722.17L1594.79 1721.84L1594.17 1721.49L1593.52 1721.14L1592.85 1720.78L1592.17 1720.41L1591.46 1720.04L1590.72 1719.66L1589.97 1719.27L1589.19 1718.88L1588.39 1718.48L1587.57 1718.07L1586.73 1717.67L1585.87 1717.26L1584.98 1716.84L1584.08 1716.42L1583.15 1716L1582.2 1715.58L1581.22 1715.15L1580.23 1714.72L1579.21 1714.29L1578.17 1713.86L1577.11 1713.43L1576.03 1713L1576.03 1725.2L1576.02 1725.11L1575.99 1724.86L1575.93 1724.46L1575.86 1723.93L1575.76 1723.32L1575.64 1722.66L1575.49 1721.97L1575.33 1721.3L1575.14 1720.67L1574.94 1720.08L1574.71 1719.54L1574.46 1719.07L1574.18 1718.65L1573.89 1718.27L1573.57 1717.93L1573.23 1717.62L1572.87 1717.33L1572.49 1717.05L1572.08 1716.77L1571.66 1716.49L1571.21 1716.21L1570.74 1715.93L1570.25 1715.63L1569.73 1715.33L1569.2 1715.02L1568.64 1714.7L1568.06 1714.37L1567.46 1714.04L1566.84 1713.69L1566.19 1713.34L1565.52 1712.98L1564.84 1712.61L1564.13 1712.24L1563.39 1711.86L1562.64 1711.47L1561.86 1711.08L1561.06 1710.68L1560.24 1710.27L1559.4 1709.87L1558.54 1709.46L1557.65 1709.04L1556.75 1708.62L1555.82 1708.2L1554.87 1707.78L1553.89 1707.35L1552.9 1706.92L1551.88 1706.49L1550.84 1706.06L1549.78 1705.63L1548.7 1705.2L1548.7 1721.2L1548.69 1721.09L1548.66 1720.76L1548.6 1720.24L1548.53 1719.56L1548.43 1718.77L1548.31 1717.91L1548.16 1717.02L1548 1716.15L1547.81 1715.33L1547.61 1714.57L1547.38 1713.88L1547.13 1713.26L1546.85 1712.71L1546.56 1712.23L1546.24 1711.79L1545.9 1711.39L1545.54 1711.01L1545.16 1710.64L1544.75 1710.28L1544.33 1709.92L1543.88 1709.56L1543.41 1709.19L1542.92 1708.81L1542.4 1708.42L1541.87 1708.02L1541.31 1707.6L1540.73 1707.18L1540.13 1706.74L1539.51 1706.3L1538.86 1705.84L1538.19 1705.37L1537.51 1704.9L1536.8 1704.41L1536.06 1703.92L1535.31 1703.42L1534.53 1702.91L1533.73 1702.39L1532.91 1701.87L1532.07 1701.34L1531.21 1700.81L1530.32 1700.27L1529.42 1699.73L1528.49 1699.19L1527.54 1698.64L1526.56 1698.09L1525.57 1697.53L1524.55 1696.97L1523.51 1696.42L1522.45 1695.86L1521.37 1695.3L1521.37 1715.3L1521.36 1715.16L1521.33 1714.76L1521.27 1714.11L1521.2 1713.26L1521.1 1712.24L1520.98 1711.12L1520.83 1709.93L1520.67 1708.74L1520.48 1707.57L1520.28 1706.46L1520.05 1705.43L1519.8 1704.5L1519.52 1703.65L1519.23 1702.89L1518.91 1702.22L1518.57 1701.6L1518.21 1701.04L1517.83 1700.53L1517.42 1700.03L1517 1699.56L1516.55 1699.09L1516.08 1698.63L1515.59 1698.16L1515.07 1697.69L1514.54 1697.21L1513.98 1696.71L1513.4 1696.21L1512.8 1695.7L1512.18 1695.17L1511.53 1694.63L1510.86 1694.09L1510.18 1693.53L1509.47 1692.96L1508.73 1692.39L1507.98 1691.8L1507.2 1691.21L1506.4 1690.61L1505.58 1690.01L1504.74 1689.4L1503.88 1688.78L1502.99 1688.17L1502.09 1687.54L1501.16 1686.92L1500.21 1686.29L1499.23 1685.66L1498.24 1685.03L1497.22 1684.39L1496.18 1683.76L1495.12 1683.13L1494.04 1682.5L1494.04 1706.4L1494.03 1706.23L1494 1705.73L1493.94 1704.93L1493.87 1703.86L1493.77 1702.58L1493.65 1701.14L1493.5 1699.6L1493.34 1698.01L1493.15 1696.43L1492.95 1694.9L1492.72 1693.44L1492.47 1692.09L1492.19 1690.85L1491.9 1689.73L1491.58 1688.71L1491.24 1687.8L1490.88 1686.98L1490.5 1686.23L1490.09 1685.54L1489.67 1684.89L1489.22 1684.27L1488.75 1683.67L1488.26 1683.09L1487.74 1682.51L1487.21 1681.92L1486.65 1681.34L1486.07 1680.74L1485.47 1680.14L1484.85 1679.52L1484.2 1678.9L1483.53 1678.27L1482.85 1677.62L1482.14 1676.97L1481.4 1676.31L1480.65 1675.64L1479.87 1674.97L1479.07 1674.28L1478.25 1673.6L1477.41 1672.9L1476.55 1672.21L1475.66 1671.51L1474.76 1670.81L1473.83 1670.1L1472.88 1669.4L1471.9 1668.7L1470.91 1667.99L1469.89 1667.29L1468.85 1666.59L1467.79 1665.89L1466.71 1665.2L1466.71 1696.5L1466.7 1696.29L1466.67 1695.68L1466.61 1694.68L1466.54 1693.35L1466.44 1691.73L1466.32 1689.89L1466.17 1687.9L1466.01 1685.82L1465.82 1683.72L1465.62 1681.65L1465.39 1679.65L1465.14 1677.76L1464.86 1676L1464.57 1674.38L1464.25 1672.91L1463.91 1671.58L1463.55 1670.38L1463.17 1669.29L1462.76 1668.31L1462.34 1667.4L1461.89 1666.56L1461.42 1665.76L1460.93 1665L1460.41 1664.27L1459.88 1663.55L1459.32 1662.83L1458.74 1662.12L1458.14 1661.41L1457.52 1660.69L1456.87 1659.96L1456.2 1659.23L1455.52 1658.49L1454.81 1657.75L1454.07 1656.99L1453.32 1656.23L1452.54 1655.47L1451.74 1654.7L1450.92 1653.92L1450.08 1653.15L1449.22 1652.37L1448.33 1651.59L1447.43 1650.82L1446.5 1650.04L1445.55 1649.26L1444.57 1648.49L1443.58 1647.72L1442.56 1646.96L1441.52 1646.2L1440.46 1645.45L1439.38 1644.7L1439.38 1681L1439.37 1680.76L1439.34 1680.04L1439.28 1678.87L1439.21 1677.3L1439.11 1675.38L1438.99 1673.18L1438.84 1670.78L1438.68 1668.24L1438.49 1665.65L1438.29 1663.05L1438.06 1660.52L1437.81 1658.09L1437.53 1655.8L1437.24 1653.66L1436.92 1651.7L1436.58 1649.91L1436.22 1648.29L1435.84 1646.82L1435.43 1645.49L1435.01 1644.28L1434.56 1643.18L1434.09 1642.16L1433.6 1641.21L1433.08 1640.31L1432.55 1639.45L1431.99 1638.61L1431.41 1637.8L1430.81 1636.99L1430.19 1636.19L1429.54 1635.4L1428.87 1634.6L1428.19 1633.81L1427.48 1633.01L1426.74 1632.21L1425.99 1631.41L1425.21 1630.6L1424.41 1629.8L1423.59 1628.99L1422.75 1628.19L1421.89 1627.39L1421 1626.59L1420.1 1625.8L1419.17 1625.01L1418.22 1624.22L1417.24 1623.45L1416.25 1622.68L1415.23 1621.92L1414.19 1621.17L1413.13 1620.43L1412.05 1619.7L1412.05 1665L1412.04 1664.7L1412.01 1663.82L1411.95 1662.37L1411.88 1660.42L1411.78 1658.03L1411.66 1655.27L1411.51 1652.23L1411.35 1649L1411.16 1645.65L1410.96 1642.27L1410.73 1638.93L1410.48 1635.69L1410.2 1632.6L1409.91 1629.69L1409.59 1626.99L1409.25 1624.5L1408.89 1622.22L1408.51 1620.16L1408.1 1618.29L1407.68 1616.61L1407.23 1615.07L1406.76 1613.68L1406.27 1612.4L1405.75 1611.21L1405.22 1610.1L1404.66 1609.05L1404.08 1608.04L1403.48 1607.07L1402.86 1606.13L1402.21 1605.2L1401.54 1604.29L1400.86 1603.39L1400.15 1602.5L1399.41 1601.62L1398.66 1600.74L1397.88 1599.87L1397.08 1599L1396.26 1598.14L1395.42 1597.29L1394.56 1596.45L1393.67 1595.62L1392.77 1594.79L1391.84 1593.98L1390.89 1593.18L1389.91 1592.4L1388.92 1591.63L1387.9 1590.87L1386.86 1590.13L1385.8 1589.41L1384.72 1588.7L1384.72 1655.7L1384.71 1655.32L1384.68 1654.18L1384.62 1652.33L1384.55 1649.81L1384.45 1646.72L1384.33 1643.13L1384.18 1639.15L1384.02 1634.88L1383.83 1630.42L1383.63 1625.89L1383.4 1621.36L1383.15 1616.93L1382.87 1612.66L1382.58 1608.59L1382.26 1604.78L1381.92 1601.23L1381.56 1597.98L1381.18 1595L1380.77 1592.3L1380.35 1589.85L1379.9 1587.64L1379.43 1585.64L1378.94 1583.83L1378.42 1582.17L1377.89 1580.66L1377.33 1579.25L1376.75 1577.94L1376.15 1576.71L1375.53 1575.53L1374.88 1574.41L1374.21 1573.33L1373.53 1572.28L1372.82 1571.27L1372.08 1570.27L1371.33 1569.3L1370.55 1568.35L1369.75 1567.43L1368.93 1566.52L1368.09 1565.63L1367.23 1564.76L1366.34 1563.91L1365.44 1563.08L1364.51 1562.28L1363.56 1561.49L1362.58 1560.73L1361.59 1560L1360.57 1559.29L1359.53 1558.6L1358.47 1557.94L1357.39 1557.3L1357.39 1640.3L1357.38 1639.86L1357.35 1638.53L1357.29 1636.38L1357.22 1633.46L1357.12 1629.86L1357 1625.68L1356.85 1621.05L1356.69 1616.09L1356.5 1610.91L1356.3 1605.64L1356.07 1600.38L1355.82 1595.23L1355.54 1590.26L1355.25 1585.53L1354.93 1581.1L1354.59 1576.98L1354.23 1573.19L1353.85 1569.73L1353.44 1566.59L1353.02 1563.74L1352.57 1561.17L1352.1 1558.85L1351.61 1556.74L1351.09 1554.82L1350.56 1553.05L1350 1551.42L1349.42 1549.9L1348.82 1548.46L1348.2 1547.1L1347.55 1545.79L1346.88 1544.54L1346.2 1543.32L1345.49 1542.14L1344.75 1540.98L1344 1539.86L1343.22 1538.75L1342.42 1537.67L1341.6 1536.61L1340.76 1535.58L1339.9 1534.57L1339.01 1533.58L1338.11 1532.62L1337.18 1531.69L1336.23 1530.78L1335.25 1529.89L1334.26 1529.04L1333.24 1528.21L1332.2 1527.41L1331.14 1526.64L1330.06 1525.9L1330.06 1631.3L1330.05 1630.77L1330.02 1629.21L1329.96 1626.65L1329.89 1623.19L1329.79 1618.92L1329.67 1613.98L1329.52 1608.49L1329.36 1602.6L1329.17 1596.47L1328.97 1590.22L1328.74 1583.98L1328.49 1577.87L1328.21 1571.98L1327.92 1566.38L1327.6 1561.13L1327.26 1556.24L1326.9 1551.75L1326.52 1547.65L1326.11 1543.93L1325.69 1540.56L1325.24 1537.51L1324.77 1534.76L1324.28 1532.26L1323.76 1529.98L1323.23 1527.89L1322.67 1525.95L1322.09 1524.14L1321.49 1522.44L1320.87 1520.83L1320.22 1519.28L1319.55 1517.79L1318.87 1516.35L1318.16 1514.95L1317.42 1513.58L1316.67 1512.24L1315.89 1510.93L1315.09 1509.65L1314.27 1508.4L1313.43 1507.17L1312.57 1505.98L1311.68 1504.81L1310.78 1503.67L1309.85 1502.56L1308.9 1501.48L1307.92 1500.43L1306.93 1499.42L1305.91 1498.44L1304.87 1497.49L1303.81 1496.58L1302.73 1495.7L1302.73 1623.1L1302.72 1622.49L1302.69 1620.69L1302.63 1617.75L1302.56 1613.76L1302.46 1608.84L1302.34 1603.14L1302.19 1596.82L1302.03 1590.04L1301.84 1582.97L1301.64 1575.78L1301.41 1568.59L1301.16 1561.56L1300.88 1554.77L1300.59 1548.32L1300.27 1542.26L1299.93 1536.64L1299.57 1531.47L1299.19 1526.74L1298.78 1522.45L1298.36 1518.57L1297.91 1515.06L1297.44 1511.89L1296.95 1509.01L1296.43 1506.39L1295.9 1503.98L1295.34 1501.75L1294.76 1499.66L1294.16 1497.7L1293.54 1495.84L1292.89 1494.06L1292.22 1492.35L1291.54 1490.69L1290.83 1489.07L1290.09 1487.5L1289.34 1485.96L1288.56 1484.45L1287.76 1482.97L1286.94 1481.53L1286.1 1480.12L1285.24 1478.74L1284.35 1477.39L1283.45 1476.08L1282.52 1474.8L1281.57 1473.56L1280.59 1472.35L1279.6 1471.18L1278.58 1470.05L1277.54 1468.96L1276.48 1467.91L1275.4 1466.9L1275.4 1608.9L1275.39 1608.24L1275.37 1606.27L1275.33 1603.05L1275.27 1598.7L1275.19 1593.33L1275.1 1587.1L1274.99 1580.2L1274.87 1572.8L1274.73 1565.08L1274.57 1557.21L1274.39 1549.37L1274.2 1541.68L1273.99 1534.27L1273.77 1527.23L1273.53 1520.61L1273.27 1514.47L1273 1508.82L1272.7 1503.66L1272.4 1498.98L1272.07 1494.74L1271.73 1490.9L1271.37 1487.44L1271 1484.29L1270.61 1481.43L1270.2 1478.79L1269.78 1476.36L1269.33 1474.09L1268.88 1471.94L1268.4 1469.91L1267.91 1467.97L1267.4 1466.09L1266.88 1464.28L1266.34 1462.52L1265.78 1460.79L1265.21 1459.11L1264.62 1457.47L1264.01 1455.85L1263.39 1454.28L1262.75 1452.74L1262.09 1451.23L1261.41 1449.76L1260.72 1448.32L1260.02 1446.93L1259.29 1445.57L1258.55 1444.25L1257.79 1442.98L1257.02 1441.75L1256.23 1440.55L1255.42 1439.41L1254.6 1438.3L1250.1 1442.3L1254.6 1437.3L1254.6 1582.9" fill="none" stroke="#0000ff" stroke-width="6.6" stroke-linejoin="round" stroke-linecap="butt" clip-path="url(#cf)"/>
<path d="M1251.4 1562.85L1251.42 1566.59L1251.47 1576.66L1251.55 1590.19L1251.67 1603.93L1251.83 1615.55L1252.01 1624.12L1252.24 1629.91L1252.49 1633.71L1252.78 1636.39L1253.11 1638.55L1253.47 1640.56L1253.86 1642.59L1254.29 1644.69L1254.75 1646.88L1255.24 1649.15L1255.77 1651.5L1256.34 1653.91L1256.93 1656.37L1257.57 1658.86L1258.23 1661.38L1258.93 1663.91L1259.67 1666.43L1260.44 1668.95L1261.24 1671.44L1262.08 1673.9L1262.95 1676.32L1263.85 1678.69L1264.79 1681L1265.77 1683.25L1266.77 1685.42L1267.82 1687.52L1268.89 1689.54L1270 1691.48L1271.15 1693.33L1272.32 1695.1L1273.54 1696.78L1274.78 1698.36L1276.07 1699.86L1277.38 1701.28L1278.73 1702.6L1278.73 1691.6L1278.75 1692.01L1278.8 1692.75L1278.88 1693.74L1279 1694.93L1279.16 1696.27L1279.34 1697.69L1279.57 1699.15L1279.82 1700.59L1280.11 1701.98L1280.44 1703.29L1280.8 1704.5L1281.19 1705.62L1281.62 1706.64L1282.08 1707.57L1282.57 1708.43L1283.1 1709.22L1283.67 1709.97L1284.26 1710.69L1284.9 1711.38L1285.56 1712.05L1286.26 1712.72L1287 1713.38L1287.77 1714.05L1288.57 1714.71L1289.41 1715.38L1290.28 1716.05L1291.18 1716.72L1292.12 1717.4L1293.1 1718.09L1294.1 1718.78L1295.15 1719.47L1296.22 1720.17L1297.33 1720.87L1298.48 1721.58L1299.65 1722.29L1300.87 1723L1302.11 1723.72L1303.4 1724.44L1304.71 1725.17L1306.06 1725.9L1306.06 1716.8L1306.08 1717.07L1306.13 1717.58L1306.21 1718.29L1306.33 1719.16L1306.49 1720.15L1306.67 1721.2L1306.9 1722.27L1307.15 1723.33L1307.44 1724.34L1307.77 1725.28L1308.13 1726.14L1308.52 1726.92L1308.95 1727.61L1309.41 1728.23L1309.9 1728.79L1310.43 1729.29L1311 1729.75L1311.59 1730.18L1312.23 1730.59L1312.89 1730.99L1313.59 1731.38L1314.33 1731.76L1315.1 1732.14L1315.9 1732.52L1316.74 1732.9L1317.61 1733.28L1318.51 1733.67L1319.45 1734.06L1320.43 1734.45L1321.43 1734.84L1322.48 1735.23L1323.55 1735.63L1324.66 1736.03L1325.81 1736.44L1326.98 1736.84L1328.2 1737.25L1329.44 1737.66L1330.73 1738.07L1332.04 1738.48L1333.39 1738.9L1333.39 1732.95L1333.41 1733.14L1333.46 1733.49L1333.54 1733.98L1333.66 1734.56L1333.82 1735.23L1334 1735.94L1334.23 1736.66L1334.48 1737.38L1334.77 1738.06L1335.1 1738.7L1335.46 1739.29L1335.85 1739.82L1336.28 1740.3L1336.74 1740.74L1337.23 1741.13L1337.76 1741.48L1338.33 1741.81L1338.92 1742.12L1339.56 1742.42L1340.22 1742.71L1340.92 1742.99L1341.66 1743.27L1342.43 1743.55L1343.23 1743.82L1344.07 1744.1L1344.94 1744.38L1345.84 1744.67L1346.78 1744.95L1347.76 1745.24L1348.76 1745.52L1349.81 1745.81L1350.88 1746.1L1351.99 1746.4L1353.14 1746.69L1354.31 1746.99L1355.53 1747.29L1356.77 1747.59L1358.06 1747.89L1359.37 1748.19L1360.72 1748.5L1360.72 1742.4L1360.74 1742.48L1360.79 1742.72L1360.87 1743.09L1360.99 1743.56L1361.15 1744.12L1361.33 1744.73L1361.56 1745.35L1361.81 1745.97L1362.1 1746.57L1362.43 1747.12L1362.79 1747.63L1363.18 1748.08L1363.61 1748.49L1364.07 1748.84L1364.56 1749.17L1365.09 1749.46L1365.66 1749.73L1366.25 1749.98L1366.89 1750.23L1367.55 1750.47L1368.25 1750.71L1368.99 1750.96L1369.76 1751.2L1370.56 1751.46L1371.4 1751.72L1372.27 1751.98L1373.17 1752.25L1374.11 1752.53L1375.09 1752.82L1376.09 1753.11L1377.14 1753.41L1378.21 1753.71L1379.32 1754.03L1380.47 1754.35L1381.64 1754.67L1382.86 1755L1384.1 1755.34L1385.39 1755.69L1386.7 1756.04L1388.05 1756.4L1388.05 1750.6L1388.07 1750.68L1388.12 1750.9L1388.2 1751.24L1388.32 1751.69L1388.48 1752.21L1388.66 1752.78L1388.89 1753.36L1389.14 1753.94L1389.43 1754.5L1389.76 1755.01L1390.12 1755.48L1390.51 1755.89L1390.94 1756.26L1391.4 1756.58L1391.89 1756.87L1392.42 1757.13L1392.99 1757.37L1393.58 1757.59L1394.22 1757.8L1394.88 1758.01L1395.58 1758.22L1396.32 1758.42L1397.09 1758.64L1397.89 1758.85L1398.73 1759.07L1399.6 1759.29L1400.5 1759.53L1401.44 1759.76L1402.42 1760.01L1403.42 1760.25L1404.47 1760.51L1405.54 1760.77L1406.65 1761.03L1407.8 1761.3L1408.97 1761.58L1410.19 1761.86L1411.43 1762.15L1412.72 1762.45L1414.03 1762.75L1415.38 1763.05L1415.38 1757.5L1415.4 1757.57L1415.45 1757.78L1415.53 1758.11L1415.65 1758.53L1415.81 1759.02L1415.99 1759.56L1416.22 1760.11L1416.47 1760.65L1416.76 1761.17L1417.09 1761.65L1417.45 1762.09L1417.84 1762.47L1418.27 1762.81L1418.73 1763.11L1419.22 1763.37L1419.75 1763.6L1420.32 1763.81L1420.91 1764L1421.55 1764.19L1422.21 1764.37L1422.91 1764.55L1423.65 1764.73L1424.42 1764.91L1425.22 1765.1L1426.06 1765.28L1426.93 1765.48L1427.83 1765.68L1428.77 1765.88L1429.75 1766.09L1430.75 1766.3L1431.8 1766.52L1432.87 1766.74L1433.98 1766.97L1435.13 1767.2L1436.3 1767.44L1437.52 1767.68L1438.76 1767.93L1440.05 1768.18L1441.36 1768.44L1442.71 1768.7L1442.71 1764.1L1442.73 1764.16L1442.78 1764.33L1442.86 1764.6L1442.98 1764.95L1443.14 1765.36L1443.32 1765.8L1443.55 1766.26L1443.8 1766.71L1444.09 1767.14L1444.42 1767.53L1444.78 1767.89L1445.17 1768.21L1445.6 1768.49L1446.06 1768.73L1446.55 1768.95L1447.08 1769.14L1447.65 1769.31L1448.24 1769.47L1448.88 1769.62L1449.54 1769.77L1450.24 1769.92L1450.98 1770.06L1451.75 1770.21L1452.55 1770.36L1453.39 1770.51L1454.26 1770.67L1455.16 1770.83L1456.1 1771L1457.08 1771.17L1458.08 1771.34L1459.13 1771.52L1460.2 1771.7L1461.31 1771.89L1462.46 1772.08L1463.63 1772.27L1464.85 1772.47L1466.09 1772.67L1467.38 1772.88L1468.69 1773.09L1470.04 1773.3L1470.04 1768.7L1470.06 1768.76L1470.11 1768.93L1470.19 1769.21L1470.31 1769.56L1470.47 1769.97L1470.65 1770.41L1470.88 1770.87L1471.13 1771.33L1471.42 1771.76L1471.75 1772.16L1472.11 1772.52L1472.5 1772.85L1472.93 1773.13L1473.39 1773.38L1473.88 1773.6L1474.41 1773.8L1474.98 1773.98L1475.57 1774.15L1476.21 1774.31L1476.87 1774.46L1477.57 1774.62L1478.31 1774.77L1479.08 1774.93L1479.88 1775.09L1480.72 1775.25L1481.59 1775.42L1482.49 1775.59L1483.43 1775.76L1484.41 1775.94L1485.41 1776.13L1486.46 1776.32L1487.53 1776.51L1488.64 1776.7L1489.79 1776.91L1490.96 1777.11L1492.18 1777.32L1493.42 1777.53L1494.71 1777.75L1496.02 1777.97L1497.37 1778.2L1497.37 1773.6L1497.39 1773.66L1497.44 1773.83L1497.52 1774.1L1497.64 1774.45L1497.8 1774.85L1497.98 1775.29L1498.21 1775.74L1498.46 1776.19L1498.75 1776.61L1499.08 1777L1499.44 1777.36L1499.83 1777.67L1500.26 1777.94L1500.72 1778.18L1501.21 1778.39L1501.74 1778.57L1502.31 1778.74L1502.9 1778.89L1503.54 1779.04L1504.2 1779.18L1504.9 1779.32L1505.64 1779.45L1506.41 1779.59L1507.21 1779.73L1508.05 1779.88L1508.92 1780.03L1509.82 1780.18L1510.76 1780.34L1511.74 1780.5L1512.74 1780.66L1513.79 1780.83L1514.86 1781L1515.97 1781.17L1517.12 1781.35L1518.29 1781.53L1519.51 1781.72L1520.75 1781.91L1522.04 1782.1L1523.35 1782.3L1524.7 1782.5L1524.7 1777.9L1524.72 1777.96L1524.77 1778.13L1524.85 1778.39L1524.97 1778.73L1525.13 1779.13L1525.31 1779.56L1525.54 1780L1525.79 1780.44L1526.08 1780.85L1526.41 1781.23L1526.77 1781.57L1527.16 1781.87L1527.59 1782.13L1528.05 1782.35L1528.54 1782.54L1529.07 1782.71L1529.64 1782.85L1530.23 1782.99L1530.87 1783.11L1531.53 1783.23L1532.23 1783.35L1532.97 1783.46L1533.74 1783.58L1534.54 1783.7L1535.38 1783.82L1536.25 1783.94L1537.15 1784.07L1538.09 1784.2L1539.07 1784.33L1540.07 1784.47L1541.12 1784.61L1542.19 1784.75L1543.3 1784.9L1544.45 1785.04L1545.62 1785.2L1546.84 1785.35L1548.08 1785.51L1549.37 1785.67L1550.68 1785.83L1552.03 1786L1552.03 1781.4L1552.05 1781.46L1552.1 1781.62L1552.18 1781.88L1552.3 1782.22L1552.46 1782.61L1552.64 1783.04L1552.87 1783.47L1553.12 1783.9L1553.41 1784.31L1553.74 1784.68L1554.1 1785.01L1554.49 1785.3L1554.92 1785.55L1555.38 1785.76L1555.87 1785.94L1556.4 1786.1L1556.97 1786.24L1557.56 1786.36L1558.2 1786.47L1558.86 1786.58L1559.56 1786.68L1560.3 1786.78L1561.07 1786.88L1561.87 1786.99L1562.71 1787.09L1563.58 1787.2L1564.48 1787.31L1565.42 1787.43L1566.4 1787.54L1567.4 1787.66L1568.45 1787.78L1569.52 1787.91L1570.63 1788.03L1571.78 1788.16L1572.95 1788.3L1574.17 1788.43L1575.41 1788.57L1576.7 1788.71L1578.01 1788.85L1579.36 1789L1579.36 1784.4L1579.38 1784.46L1579.43 1784.62L1579.51 1784.88L1579.63 1785.21L1579.79 1785.59L1579.97 1786.01L1580.2 1786.44L1580.45 1786.87L1580.74 1787.26L1581.07 1787.62L1581.43 1787.95L1581.82 1788.23L1582.25 1788.46L1582.71 1788.66L1583.2 1788.83L1583.73 1788.97L1584.3 1789.1L1584.89 1789.2L1585.53 1789.3L1586.19 1789.39L1586.89 1789.48L1587.63 1789.57L1588.4 1789.65L1589.2 1789.74L1590.04 1789.82L1590.91 1789.91L1591.81 1790.01L1592.75 1790.1L1593.73 1790.2L1594.73 1790.29L1595.78 1790.39L1596.85 1790.5L1597.96 1790.6L1599.11 1790.71L1600.28 1790.82L1601.5 1790.93L1602.74 1791.04L1604.03 1791.16L1605.34 1791.28L1606.69 1791.4L1606.69 1786.8L1606.71 1786.86L1606.76 1787.02L1606.84 1787.27L1606.96 1787.6L1607.12 1787.98L1607.3 1788.4L1607.53 1788.82L1607.78 1789.24L1608.07 1789.63L1608.4 1789.99L1608.76 1790.3L1609.15 1790.57L1609.58 1790.8L1610.04 1791L1610.53 1791.16L1611.06 1791.29L1611.63 1791.4L1612.22 1791.5L1612.86 1791.59L1613.52 1791.67L1614.22 1791.75L1614.96 1791.82L1615.73 1791.89L1616.53 1791.97L1617.37 1792.04L1618.24 1792.12L1619.14 1792.2L1620.08 1792.28L1621.06 1792.36L1622.06 1792.45L1623.11 1792.53L1624.18 1792.62L1625.29 1792.71L1626.44 1792.81L1627.61 1792.9L1628.83 1793L1630.07 1793.09L1631.36 1793.19L1632.67 1793.3L1634.02 1793.4L1634.02 1788.8L1634.04 1788.86L1634.09 1789.02L1634.17 1789.27L1634.29 1789.6L1634.45 1789.98L1634.63 1790.39L1634.86 1790.82L1635.11 1791.23L1635.4 1791.62L1635.73 1791.98L1636.09 1792.29L1636.48 1792.56L1636.91 1792.79L1637.37 1792.98L1637.86 1793.14L1638.39 1793.27L1638.96 1793.38L1639.55 1793.48L1640.19 1793.56L1640.85 1793.64L1641.55 1793.71L1642.29 1793.78L1643.06 1793.86L1643.86 1793.93L1644.7 1794L1645.57 1794.07L1646.47 1794.15L1647.41 1794.23L1648.39 1794.31L1649.39 1794.39L1650.44 1794.47L1651.51 1794.55L1652.62 1794.64L1653.77 1794.73L1654.94 1794.82L1656.16 1794.91L1657.4 1795.01L1658.69 1795.1L1660 1795.2L1661.35 1795.3L1661.35 1790.7L1661.37 1790.76L1661.42 1790.91L1661.5 1791.16L1661.62 1791.49L1661.78 1791.87L1661.96 1792.28L1662.19 1792.7L1662.44 1793.11L1662.73 1793.49L1663.06 1793.84L1663.42 1794.15L1663.81 1794.41L1664.24 1794.63L1664.7 1794.81L1665.19 1794.96L1665.72 1795.08L1666.29 1795.19L1666.88 1795.27L1667.52 1795.35L1668.18 1795.42L1668.88 1795.48L1669.62 1795.54L1670.39 1795.6L1671.19 1795.66L1672.03 1795.72L1672.9 1795.78L1673.8 1795.84L1674.74 1795.91L1675.72 1795.97L1676.72 1796.04L1677.77 1796.11L1678.84 1796.18L1679.95 1796.25L1681.1 1796.33L1682.27 1796.4L1683.49 1796.48L1684.73 1796.56L1686.02 1796.64L1687.33 1796.72L1688.68 1796.8L1688.68 1792.2L1688.7 1792.25L1688.75 1792.41L1688.83 1792.66L1688.95 1792.98L1689.11 1793.36L1689.29 1793.77L1689.52 1794.18L1689.77 1794.59L1690.06 1794.97L1690.39 1795.31L1690.75 1795.61L1691.14 1795.87L1691.57 1796.08L1692.03 1796.26L1692.52 1796.4L1693.05 1796.52L1693.62 1796.62L1694.21 1796.7L1694.85 1796.76L1695.51 1796.82L1696.21 1796.88L1696.95 1796.93L1697.72 1796.98L1698.52 1797.03L1699.36 1797.08L1700.23 1797.14L1701.13 1797.19L1702.07 1797.25L1703.05 1797.3L1704.05 1797.36L1705.1 1797.42L1706.17 1797.48L1707.28 1797.54L1708.43 1797.6L1709.6 1797.66L1710.82 1797.73L1712.06 1797.79L1713.35 1797.86L1714.66 1797.93L1716.01 1798L1716.01 1793.4L1716.03 1793.45L1716.08 1793.61L1716.16 1793.86L1716.28 1794.18L1716.44 1794.55L1716.62 1794.96L1716.85 1795.37L1717.1 1795.77L1717.39 1796.15L1717.72 1796.49L1718.08 1796.79L1718.47 1797.04L1718.9 1797.26L1719.36 1797.43L1719.85 1797.57L1720.38 1797.68L1720.95 1797.77L1721.54 1797.84L1722.18 1797.91L1722.84 1797.96L1723.54 1798.01L1724.28 1798.06L1725.05 1798.1L1725.85 1798.15L1726.69 1798.19L1727.56 1798.24L1728.46 1798.29L1729.4 1798.34L1730.38 1798.39L1731.38 1798.44L1732.43 1798.49L1733.5 1798.54L1734.61 1798.59L1735.76 1798.65L1736.93 1798.7L1738.15 1798.76L1739.39 1798.82L1740.68 1798.88L1741.99 1798.94L1743.34 1799L1743.34 1794.4L1743.36 1794.45L1743.41 1794.61L1743.49 1794.86L1743.61 1795.18L1743.77 1795.55L1743.95 1795.96L1744.18 1796.37L1744.43 1796.77L1744.72 1797.15L1745.05 1797.49L1745.41 1797.79L1745.8 1798.04L1746.23 1798.26L1746.69 1798.43L1747.18 1798.57L1747.71 1798.68L1748.28 1798.77L1748.87 1798.84L1749.51 1798.91L1750.17 1798.96L1750.87 1799.01L1751.61 1799.06L1752.38 1799.1L1753.18 1799.15L1754.02 1799.19L1754.89 1799.24L1755.79 1799.29L1756.73 1799.34L1757.71 1799.39L1758.71 1799.44L1759.76 1799.49L1760.83 1799.54L1761.94 1799.59L1763.09 1799.65L1764.26 1799.7L1765.48 1799.76L1766.72 1799.82L1768.01 1799.88L1769.32 1799.94L1770.67 1800L1770.67 1795.4L1770.69 1795.45L1770.74 1795.61L1770.82 1795.86L1770.94 1796.18L1771.1 1796.55L1771.28 1796.95L1771.51 1797.37L1771.76 1797.77L1772.05 1798.14L1772.38 1798.48L1772.74 1798.78L1773.13 1799.03L1773.56 1799.24L1774.02 1799.41L1774.51 1799.55L1775.04 1799.66L1775.61 1799.75L1776.2 1799.82L1776.84 1799.88L1777.5 1799.93L1778.2 1799.98L1778.94 1800.02L1779.71 1800.07L1780.51 1800.11L1781.35 1800.15L1782.22 1800.19L1783.12 1800.24L1784.06 1800.28L1785.04 1800.33L1786.04 1800.37L1787.09 1800.42L1788.16 1800.47L1789.27 1800.52L1790.42 1800.57L1791.59 1800.62L1792.81 1800.68L1794.05 1800.73L1795.34 1800.79L1796.65 1800.84L1798 1800.9L1798 1796.3" fill="none" stroke="#ff0000" stroke-width="6.6" stroke-linejoin="round" stroke-linecap="butt" clip-path="url(#cf)"/>
<path d="M193 503.1v15.4M312.5 503.1v15.4M432 503.1v15.4M551.5 503.1v15.4M671 503.1v15.4M790.5 503.1v15.4M193 142.75h-15.4M193 255.8h-15.4M193 368.85h-15.4M193 481.9h-15.4" stroke="#000" stroke-width="3.52" fill="none"/>
<path d="M193 499.41h-8.8M193 492.86h-8.8M193 487.07h-8.8M193 447.87h-8.8M193 427.96h-8.8M193 413.84h-8.8M193 402.88h-8.8M193 393.93h-8.8M193 386.36h-8.8M193 379.81h-8.8M193 374.02h-8.8M193 334.82h-8.8M193 314.91h-8.8M193 300.79h-8.8M193 289.83h-8.8M193 280.88h-8.8M193 273.31h-8.8M193 266.76h-8.8M193 260.97h-8.8M193 221.77h-8.8M193 201.86h-8.8M193 187.74h-8.8M193 176.78h-8.8M193 167.83h-8.8M193 160.26h-8.8M193 153.71h-8.8M193 147.92h-8.8M193 108.72h-8.8M193 88.81h-8.8M193 74.69h-8.8M193 63.73h-8.8" stroke="#000" stroke-width="2.64" fill="none"/>
<rect x="193" y="61.7" width="675.1" height="441.4" fill="none" stroke="#000" stroke-width="3.52"/>
<text x="193" y="561.8" font-size="35.2" text-anchor="middle">−1</text>
<text x="312.5" y="561.8" font-size="35.2" text-anchor="middle">0</text>
<text x="432" y="561.8" font-size="35.2" text-anchor="middle">1</text>
<text x="551.5" y="561.8" font-size="35.2" text-anchor="middle">2</text>
<text x="671" y="561.8" font-size="35.2" text-anchor="middle">3</text>
<text x="790.5" y="561.8" font-size="35.2" text-anchor="middle">4</text>
<text x="161" y="156.25" font-size="35.2" text-anchor="end">10<tspan font-size="24.64" dx="1" dy="-13.59">−11</tspan></text>
<text x="161" y="269.3" font-size="35.2" text-anchor="end">10<tspan font-size="24.64" dx="1" dy="-13.59">−12</tspan></text>
<text x="161" y="382.35" font-size="35.2" text-anchor="end">10<tspan font-size="24.64" dx="1" dy="-13.59">−13</tspan></text>
<text x="161" y="495.4" font-size="35.2" text-anchor="end">10<tspan font-size="24.64" dx="1" dy="-13.59">−14</tspan></text>
<text x="529.55" y="34.7" font-size="42.24" text-anchor="middle">(a)</text>
<text x="531.75" y="619.9" font-size="35.2" text-anchor="middle" letter-spacing="0.06">Capacity (mAh cm<tspan font-size="24.64" dx="1" dy="-13.59">−2</tspan><tspan dx="2.2" dy="13.59">)</tspan></text>
<text x="0" y="0" font-size="35.2" text-anchor="middle" transform="translate(33.5 282.4) rotate(-90)">Diffusivity (cm<tspan font-size="24.64" dx="1" dy="-13.59">2</tspan><tspan dx="2.2" dy="13.59">s</tspan><tspan font-size="24.64" dx="1" dy="-13.59">−1</tspan><tspan dx="2.2" dy="13.59">)</tspan></text>
<path d="M1146.6 503.1v15.4M1268.07 503.1v15.4M1389.54 503.1v15.4M1511.01 503.1v15.4M1632.48 503.1v15.4M1753.95 503.1v15.4M1116.8 149.98h-15.4M1116.8 267.72h-15.4M1116.8 385.46h-15.4M1116.8 503.2h-15.4" stroke="#000" stroke-width="3.52" fill="none"/>
<rect x="1116.8" y="61.7" width="674.3" height="441.4" fill="none" stroke="#000" stroke-width="3.52"/>
<text x="1146.6" y="561.8" font-size="35.2" text-anchor="middle">0</text>
<text x="1268.07" y="561.8" font-size="35.2" text-anchor="middle">1</text>
<text x="1389.54" y="561.8" font-size="35.2" text-anchor="middle">2</text>
<text x="1511.01" y="561.8" font-size="35.2" text-anchor="middle">3</text>
<text x="1632.48" y="561.8" font-size="35.2" text-anchor="middle">4</text>
<text x="1753.95" y="561.8" font-size="35.2" text-anchor="middle">5</text>
<text x="1084.8" y="163.48" font-size="35.2" text-anchor="end">10<tspan font-size="24.64" dx="1" dy="-13.59">−10</tspan></text>
<text x="1084.8" y="281.22" font-size="35.2" text-anchor="end">10<tspan font-size="24.64" dx="1" dy="-13.59">−12</tspan></text>
<text x="1084.8" y="398.96" font-size="35.2" text-anchor="end">10<tspan font-size="24.64" dx="1" dy="-13.59">−14</tspan></text>
<text x="1084.8" y="516.7" font-size="35.2" text-anchor="end">10<tspan font-size="24.64" dx="1" dy="-13.59">−16</tspan></text>
<text x="1452.95" y="34.7" font-size="42.24" text-anchor="middle">(b)</text>
<text x="1455.75" y="619.9" font-size="35.2" text-anchor="middle" letter-spacing="0.06">Capacity (mAh cm<tspan font-size="24.64" dx="1" dy="-13.59">−2</tspan><tspan dx="2.2" dy="13.59">)</tspan></text>
<text x="0" y="0" font-size="35.2" text-anchor="middle" transform="translate(957.9 282.4) rotate(-90)">Diffusivity (cm<tspan font-size="24.64" dx="1" dy="-13.59">2</tspan><tspan dx="2.2" dy="13.59">s</tspan><tspan font-size="24.64" dx="1" dy="-13.59">−1</tspan><tspan dx="2.2" dy="13.59">)</tspan></text>
<path d="M193 1181.4v15.4M312.5 1181.4v15.4M432 1181.4v15.4M551.5 1181.4v15.4M671 1181.4v15.4M790.5 1181.4v15.4M193 807h-15.4M193 925.13h-15.4M193 1043.27h-15.4M193 1161.4h-15.4" stroke="#000" stroke-width="3.52" fill="none"/>
<rect x="193" y="740.1" width="675.1" height="441.3" fill="none" stroke="#000" stroke-width="3.52"/>
<text x="193" y="1240.1" font-size="35.2" text-anchor="middle">−1</text>
<text x="312.5" y="1240.1" font-size="35.2" text-anchor="middle">0</text>
<text x="432" y="1240.1" font-size="35.2" text-anchor="middle">1</text>
<text x="551.5" y="1240.1" font-size="35.2" text-anchor="middle">2</text>
<text x="671" y="1240.1" font-size="35.2" text-anchor="middle">3</text>
<text x="790.5" y="1240.1" font-size="35.2" text-anchor="middle">4</text>
<text x="161" y="819.89" font-size="35.2" text-anchor="end">4.0</text>
<text x="161" y="938.03" font-size="35.2" text-anchor="end">3.5</text>
<text x="161" y="1056.17" font-size="35.2" text-anchor="end">3.0</text>
<text x="161" y="1174.3" font-size="35.2" text-anchor="end">2.5</text>
<text x="529.55" y="713.1" font-size="42.24" text-anchor="middle">(c)</text>
<text x="531.75" y="1298.2" font-size="35.2" text-anchor="middle" letter-spacing="0.06">Capacity (mAh cm<tspan font-size="24.64" dx="1" dy="-13.59">−2</tspan><tspan dx="2.2" dy="13.59">)</tspan></text>
<text transform="translate(77.9 961.95) rotate(-90)" font-size="35.2" text-anchor="middle" letter-spacing="0.3">Potential (V)</text>
<path d="M1147.7 1181.4v15.4M1268.98 1181.4v15.4M1390.26 1181.4v15.4M1511.54 1181.4v15.4M1632.82 1181.4v15.4M1754.1 1181.4v15.4M1116.8 791.4h-15.4M1116.8 884.4h-15.4M1116.8 977.4h-15.4M1116.8 1070.4h-15.4M1116.8 1163.4h-15.4" stroke="#000" stroke-width="3.52" fill="none"/>
<rect x="1116.8" y="740.1" width="674.3" height="441.3" fill="none" stroke="#000" stroke-width="3.52"/>
<text x="1147.7" y="1240.1" font-size="35.2" text-anchor="middle">0</text>
<text x="1268.98" y="1240.1" font-size="35.2" text-anchor="middle">1</text>
<text x="1390.26" y="1240.1" font-size="35.2" text-anchor="middle">2</text>
<text x="1511.54" y="1240.1" font-size="35.2" text-anchor="middle">3</text>
<text x="1632.82" y="1240.1" font-size="35.2" text-anchor="middle">4</text>
<text x="1754.1" y="1240.1" font-size="35.2" text-anchor="middle">5</text>
<text x="1084.8" y="804.3" font-size="35.2" text-anchor="end">2.0</text>
<text x="1084.8" y="897.3" font-size="35.2" text-anchor="end">1.5</text>
<text x="1084.8" y="990.3" font-size="35.2" text-anchor="end">1.0</text>
<text x="1084.8" y="1083.3" font-size="35.2" text-anchor="end">0.5</text>
<text x="1084.8" y="1176.3" font-size="35.2" text-anchor="end">0.0</text>
<text x="1452.95" y="713.1" font-size="42.24" text-anchor="middle">(d)</text>
<text x="1455.75" y="1298.2" font-size="35.2" text-anchor="middle" letter-spacing="0.06">Capacity (mAh cm<tspan font-size="24.64" dx="1" dy="-13.59">−2</tspan><tspan dx="2.2" dy="13.59">)</tspan></text>
<text transform="translate(1002.3 961.95) rotate(-90)" font-size="35.2" text-anchor="middle" letter-spacing="0.3">Potential (V)</text>
<path d="M193 1860.1v15.4M361.77 1860.1v15.4M530.55 1860.1v15.4M699.33 1860.1v15.4M868.1 1860.1v15.4M193 1487.9h-15.4M193 1573.7h-15.4M193 1659.5h-15.4M193 1745.3h-15.4M193 1831.1h-15.4" stroke="#000" stroke-width="3.52" fill="none"/>
<rect x="193" y="1418.7" width="675.1" height="441.4" fill="none" stroke="#000" stroke-width="3.52"/>
<text x="193" y="1918.8" font-size="35.2" text-anchor="middle">−0.4</text>
<text x="361.77" y="1918.8" font-size="35.2" text-anchor="middle">−0.2</text>
<text x="530.55" y="1918.8" font-size="35.2" text-anchor="middle">0.0</text>
<text x="699.33" y="1918.8" font-size="35.2" text-anchor="middle">0.2</text>
<text x="868.1" y="1918.8" font-size="35.2" text-anchor="middle">0.4</text>
<text x="161" y="1500.8" font-size="35.2" text-anchor="end">3.50</text>
<text x="161" y="1586.6" font-size="35.2" text-anchor="end">3.25</text>
<text x="161" y="1672.4" font-size="35.2" text-anchor="end">3.00</text>
<text x="161" y="1758.2" font-size="35.2" text-anchor="end">2.75</text>
<text x="161" y="1844" font-size="35.2" text-anchor="end">2.50</text>
<text x="529.55" y="1391.7" font-size="42.24" text-anchor="middle">(e)</text>
<text x="531.75" y="1976.9" font-size="35.2" text-anchor="middle" letter-spacing="0.06">Capacity (mAh cm<tspan font-size="24.64" dx="1" dy="-13.59">−2</tspan><tspan dx="2.2" dy="13.59">)</tspan></text>
<text transform="translate(56.9 1640.6) rotate(-90)" font-size="35.2" text-anchor="middle" letter-spacing="0.3">Potential (V)</text>
<path d="M1116.8 1860.1v15.4M1251.66 1860.1v15.4M1386.52 1860.1v15.4M1521.38 1860.1v15.4M1656.24 1860.1v15.4M1791.1 1860.1v15.4M1116.8 1469.8h-15.4M1116.8 1562.85h-15.4M1116.8 1655.9h-15.4M1116.8 1748.95h-15.4M1116.8 1842h-15.4" stroke="#000" stroke-width="3.52" fill="none"/>
<rect x="1116.8" y="1418.7" width="674.3" height="441.4" fill="none" stroke="#000" stroke-width="3.52"/>
<text x="1116.8" y="1918.8" font-size="35.2" text-anchor="middle">−0.1</text>
<text x="1251.66" y="1918.8" font-size="35.2" text-anchor="middle">0.0</text>
<text x="1386.52" y="1918.8" font-size="35.2" text-anchor="middle">0.1</text>
<text x="1521.38" y="1918.8" font-size="35.2" text-anchor="middle">0.2</text>
<text x="1656.24" y="1918.8" font-size="35.2" text-anchor="middle">0.3</text>
<text x="1791.1" y="1918.8" font-size="35.2" text-anchor="middle">0.4</text>
<text x="1084.8" y="1482.7" font-size="35.2" text-anchor="end">2.0</text>
<text x="1084.8" y="1575.75" font-size="35.2" text-anchor="end">1.5</text>
<text x="1084.8" y="1668.8" font-size="35.2" text-anchor="end">1.0</text>
<text x="1084.8" y="1761.85" font-size="35.2" text-anchor="end">0.5</text>
<text x="1084.8" y="1854.9" font-size="35.2" text-anchor="end">0.0</text>
<text x="1452.95" y="1391.7" font-size="42.24" text-anchor="middle">(f)</text>
<text x="1455.75" y="1976.9" font-size="35.2" text-anchor="middle" letter-spacing="0.06">Capacity (mAh cm<tspan font-size="24.64" dx="1" dy="-13.59">−2</tspan><tspan dx="2.2" dy="13.59">)</tspan></text>
<text transform="translate(1002.3 1640.6) rotate(-90)" font-size="35.2" text-anchor="middle" letter-spacing="0.3">Potential (V)</text>
<rect x="1445.9" y="1436.3" width="327.7" height="115.4" rx="7" ry="7" fill="#fff" fill-opacity="0.8" stroke="#cccccc" stroke-opacity="0.8" stroke-width="4.2"/>
<path d="M1456.6 1464.7H1533.9" stroke="#0000ff" stroke-width="6.6" fill="none"/>
<path d="M1456.6 1518H1533.9" stroke="#ff0000" stroke-width="6.6" fill="none"/>
<text x="1559.2" y="1477.5" font-size="35.2">delithiation</text>
<text x="1559.2" y="1530.8" font-size="35.2">lithiation</text>
</svg>
</body></html>
